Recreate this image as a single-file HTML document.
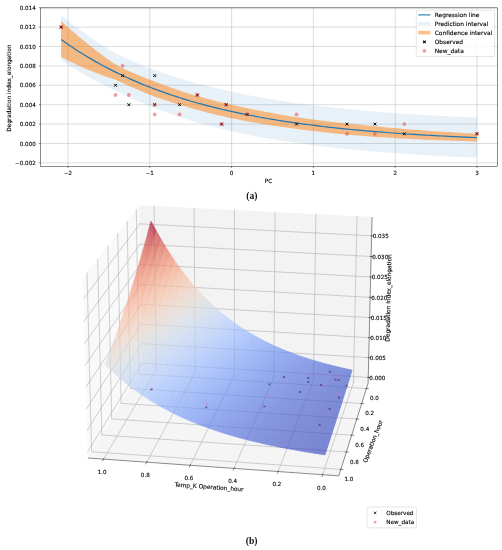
<!DOCTYPE html>
<html><head><meta charset="utf-8"><title>Figure</title>
<style>html,body{margin:0;padding:0;background:#fff}svg{display:block}</style></head>
<body>
<svg width="502" height="550" viewBox="0 0 502 550">
<rect width="502" height="550" fill="#fff"/>
<g id="plot-a">
<path d="M68 7.9V166.4M149.8 7.9V166.4M231.6 7.9V166.4M313.4 7.9V166.4M395.2 7.9V166.4M477 7.9V166.4M40.5 162.9H497.7M40.5 143.5H497.7M40.5 124.1H497.7M40.5 104.7H497.7M40.5 85.3H497.7M40.5 65.9H497.7M40.5 46.5H497.7M40.5 27.1H497.7M40.5 7.7H497.7" stroke="#b0b0b0" stroke-width="0.45" fill="none"/>
<polygon points="61.13,15.27 64.62,18.11 68.12,20.9 71.61,23.62 75.11,26.29 78.6,28.91 82.1,31.47 85.59,33.98 89.09,36.44 92.58,38.85 96.08,41.21 99.57,43.53 103.07,45.79 106.56,48.01 110.05,50.19 113.55,52.32 117.04,54.24 120.54,55.87 124.03,57.47 127.53,59.02 131.02,60.54 134.52,62.03 138.01,63.48 141.51,64.9 145,66.28 148.5,67.63 151.99,68.95 155.49,70.23 158.98,71.48 162.48,72.7 165.97,73.89 169.46,75.05 172.96,76.18 176.45,77.29 179.95,78.36 183.44,79.42 186.94,80.44 190.43,81.44 193.93,82.42 197.42,83.37 200.92,84.31 204.41,85.23 207.91,86.12 211.4,86.99 214.9,87.84 218.39,88.67 221.89,89.48 225.38,90.3 228.88,91.08 232.37,91.84 235.86,92.59 239.36,93.31 242.85,94.02 246.35,94.71 249.84,95.39 253.34,96.06 256.83,96.71 260.33,97.34 263.82,97.96 267.32,98.56 270.81,99.15 274.31,99.73 277.8,100.29 281.3,100.84 284.79,101.37 288.29,101.89 291.78,102.4 295.27,102.9 298.77,103.39 302.26,103.86 305.76,104.32 309.25,104.77 312.75,105.21 316.24,105.64 319.74,106.06 323.23,106.47 326.73,106.87 330.22,107.26 333.72,107.64 337.21,108.01 340.71,108.37 344.2,108.72 347.7,109.07 351.19,109.41 354.68,109.74 358.18,110.07 361.67,110.39 365.17,110.7 368.66,111 372.16,111.3 375.65,111.59 379.15,111.87 382.64,112.14 386.14,112.41 389.63,112.68 393.13,112.93 396.62,113.18 400.12,113.43 403.61,113.66 407.11,113.9 410.6,114.12 414.1,114.35 417.59,114.56 421.08,114.77 424.58,114.98 428.07,115.18 431.57,115.38 435.06,115.57 438.56,115.76 442.05,115.94 445.55,116.12 449.04,116.29 452.54,116.46 456.03,116.63 459.53,116.79 463.02,116.95 466.52,117.1 470.01,117.25 473.51,117.4 477,117.54 477,157.7 473.51,157.56 470.01,157.41 466.52,157.26 463.02,157.11 459.53,156.95 456.03,156.79 452.54,156.62 449.04,156.45 445.55,156.28 442.05,156.1 438.56,155.91 435.06,155.73 431.57,155.54 428.07,155.34 424.58,155.14 421.08,154.93 417.59,154.72 414.1,154.5 410.6,154.28 407.11,154.06 403.61,153.82 400.12,153.58 396.62,153.34 393.13,153.09 389.63,152.83 386.14,152.57 382.64,152.3 379.15,152.03 375.65,151.74 372.16,151.45 368.66,151.16 365.17,150.86 361.67,150.54 358.18,150.23 354.68,149.9 351.19,149.57 347.7,149.22 344.2,148.87 340.71,148.5 337.21,148.13 333.72,147.74 330.22,147.35 326.73,146.95 323.23,146.53 319.74,146.11 316.24,145.68 312.75,145.24 309.25,144.78 305.76,144.32 302.26,143.85 298.77,143.36 295.27,142.86 291.78,142.35 288.29,141.83 284.79,141.29 281.3,140.74 277.8,140.18 274.31,139.61 270.81,139.02 267.32,138.41 263.82,137.79 260.33,137.16 256.83,136.51 253.34,135.85 249.84,135.17 246.35,134.47 242.85,133.75 239.36,133.01 235.86,132.25 232.37,131.48 228.88,130.68 225.38,129.87 221.89,129.06 218.39,128.19 214.9,127.31 211.4,126.4 207.91,125.48 204.41,124.53 200.92,123.56 197.42,122.56 193.93,121.53 190.43,120.48 186.94,119.4 183.44,118.3 179.95,117.17 176.45,116.01 172.96,114.83 169.46,113.61 165.97,112.37 162.48,111.1 158.98,109.8 155.49,108.47 151.99,107.1 148.5,105.71 145,104.28 141.51,102.82 138.01,101.32 134.52,99.79 131.02,98.22 127.53,96.61 124.03,94.95 120.54,93.26 117.04,91.53 113.55,89.85 110.05,88.2 106.56,86.51 103.07,84.77 99.57,82.99 96.08,81.17 92.58,79.29 89.09,77.37 85.59,75.4 82.1,73.37 78.6,71.29 75.11,69.16 71.61,66.98 68.12,64.74 64.62,62.44 61.13,60.08" fill="#1f77b4" fill-opacity="0.1"/>
<polygon points="61.13,21.09 64.62,24.27 68.12,27.39 71.61,30.45 75.11,33.46 78.6,36.41 82.1,39.31 85.59,42.16 89.09,44.96 92.58,47.7 96.08,50.4 99.57,53.05 103.07,55.65 106.56,58.21 110.05,60.72 113.55,63.19 117.04,65.36 120.54,67.14 124.03,68.84 127.53,70.44 131.02,71.99 134.52,73.5 138.01,74.96 141.51,76.39 145,77.79 148.5,79.15 151.99,80.48 155.49,81.8 158.98,83.17 162.48,84.52 165.97,85.83 169.46,87.11 172.96,88.37 176.45,89.59 179.95,90.79 183.44,91.9 186.94,92.98 190.43,94.04 193.93,95.07 197.42,96.08 200.92,97.06 204.41,98.02 207.91,98.95 211.4,99.87 214.9,100.76 218.39,101.63 221.89,102.48 225.38,103.29 228.88,104.12 232.37,104.93 235.86,105.72 239.36,106.49 242.85,107.25 246.35,107.99 249.84,108.73 253.34,109.45 256.83,110.17 260.33,110.86 263.82,111.54 267.32,112.21 270.81,112.86 274.31,113.5 277.8,114.12 281.3,114.73 284.79,115.33 288.29,115.91 291.78,116.48 295.27,117.04 298.77,117.57 302.26,118.07 305.76,118.55 309.25,119.03 312.75,119.5 316.24,119.95 319.74,120.4 323.23,120.84 326.73,121.26 330.22,121.68 333.72,122.08 337.21,122.48 340.71,122.87 344.2,123.25 347.7,123.62 351.19,124 354.68,124.37 358.18,124.73 361.67,125.09 365.17,125.44 368.66,125.78 372.16,126.11 375.65,126.44 379.15,126.77 382.64,127.09 386.14,127.4 389.63,127.71 393.13,128.01 396.62,128.31 400.12,128.6 403.61,128.88 407.11,129.16 410.6,129.44 414.1,129.7 417.59,129.97 421.08,130.23 424.58,130.48 428.07,130.73 431.57,130.97 435.06,131.21 438.56,131.44 442.05,131.67 445.55,131.9 449.04,132.12 452.54,132.33 456.03,132.55 459.53,132.76 463.02,132.96 466.52,133.16 470.01,133.36 473.51,133.55 477,133.74 477,141.5 473.51,141.41 470.01,141.31 466.52,141.2 463.02,141.09 459.53,140.98 456.03,140.87 452.54,140.75 449.04,140.62 445.55,140.5 442.05,140.37 438.56,140.23 435.06,140.09 431.57,139.94 428.07,139.79 424.58,139.64 421.08,139.48 417.59,139.31 414.1,139.14 410.6,138.97 407.11,138.79 403.61,138.6 400.12,138.41 396.62,138.21 393.13,138.01 389.63,137.8 386.14,137.58 382.64,137.36 379.15,137.13 375.65,136.89 372.16,136.64 368.66,136.38 365.17,136.12 361.67,135.84 358.18,135.56 354.68,135.27 351.19,134.97 347.7,134.67 344.2,134.34 340.71,134 337.21,133.65 333.72,133.29 330.22,132.93 326.73,132.55 323.23,132.17 319.74,131.77 316.24,131.37 312.75,130.95 309.25,130.52 305.76,130.09 302.26,129.64 298.77,129.18 295.27,128.72 291.78,128.27 288.29,127.81 284.79,127.34 281.3,126.85 277.8,126.35 274.31,125.84 270.81,125.31 267.32,124.77 263.82,124.21 260.33,123.64 256.83,123.05 253.34,122.45 249.84,121.83 246.35,121.19 242.85,120.52 239.36,119.83 235.86,119.12 232.37,118.39 228.88,117.65 225.38,116.87 221.89,116.06 218.39,115.24 214.9,114.39 211.4,113.53 207.91,112.64 204.41,111.74 200.92,110.81 197.42,109.85 193.93,108.88 190.43,107.89 186.94,106.87 183.44,105.82 179.95,104.75 176.45,103.71 172.96,102.64 169.46,101.55 165.97,100.43 162.48,99.29 158.98,98.11 155.49,96.9 151.99,95.57 148.5,94.19 145,92.78 141.51,91.33 138.01,89.84 134.52,88.32 131.02,86.77 127.53,85.19 124.03,83.58 120.54,81.99 117.04,80.41 113.55,79.08 110.05,77.93 106.56,76.75 103.07,75.52 99.57,74.24 96.08,72.92 92.58,71.55 89.09,70.13 85.59,68.66 82.1,67.14 78.6,65.57 75.11,63.94 71.61,62.26 68.12,60.53 64.62,58.73 61.13,56.88" fill="#ff7f0e" fill-opacity="0.5"/>
<polyline points="61.13,39.59 64.62,42.07 68.12,44.49 71.61,46.85 75.11,49.16 78.6,51.41 82.1,53.6 85.59,55.75 89.09,57.84 92.58,59.88 96.08,61.88 99.57,63.82 103.07,65.72 106.56,67.58 110.05,69.39 113.55,71.16 117.04,72.88 120.54,74.57 124.03,76.21 127.53,77.81 131.02,79.38 134.52,80.91 138.01,82.4 141.51,83.86 145,85.28 148.5,86.67 151.99,88.03 155.49,89.35 158.98,90.64 162.48,91.9 165.97,93.13 169.46,94.33 172.96,95.51 176.45,96.65 179.95,97.77 183.44,98.86 186.94,99.92 190.43,100.96 193.93,101.98 197.42,102.97 200.92,103.93 204.41,104.88 207.91,105.8 211.4,106.7 214.9,107.58 218.39,108.43 221.89,109.27 225.38,110.08 228.88,110.88 232.37,111.66 235.86,112.42 239.36,113.16 242.85,113.88 246.35,114.59 249.84,115.28 253.34,115.95 256.83,116.61 260.33,117.25 263.82,117.88 267.32,118.49 270.81,119.08 274.31,119.67 277.8,120.24 281.3,120.79 284.79,121.33 288.29,121.86 291.78,122.38 295.27,122.88 298.77,123.37 302.26,123.85 305.76,124.32 309.25,124.78 312.75,125.22 316.24,125.66 319.74,126.09 323.23,126.5 326.73,126.91 330.22,127.3 333.72,127.69 337.21,128.07 340.71,128.43 344.2,128.79 347.7,129.14 351.19,129.49 354.68,129.82 358.18,130.15 361.67,130.47 365.17,130.78 368.66,131.08 372.16,131.38 375.65,131.67 379.15,131.95 382.64,132.22 386.14,132.49 389.63,132.75 393.13,133.01 396.62,133.26 400.12,133.5 403.61,133.74 407.11,133.98 410.6,134.2 414.1,134.42 417.59,134.64 421.08,134.85 424.58,135.06 428.07,135.26 431.57,135.46 435.06,135.65 438.56,135.84 442.05,136.02 445.55,136.2 449.04,136.37 452.54,136.54 456.03,136.71 459.53,136.87 463.02,137.03 466.52,137.18 470.01,137.33 473.51,137.48 477,137.62" fill="none" stroke="#1f77b4" stroke-width="1.2" stroke-linejoin="round"/>
<path d="M59.73 25.7l2.8 2.8M59.73 28.5l2.8 -2.8M114.13 83.9l2.8 2.8M114.13 86.7l2.8 -2.8M121.16 74.2l2.8 2.8M121.16 77l2.8 -2.8M127.46 103.3l2.8 2.8M127.46 106.1l2.8 -2.8M153.31 74.2l2.8 2.8M153.31 77l2.8 -2.8M153.31 103.3l2.8 2.8M153.31 106.1l2.8 -2.8M178.18 103.3l2.8 2.8M178.18 106.1l2.8 -2.8M195.93 93.6l2.8 2.8M195.93 96.4l2.8 -2.8M220.22 122.7l2.8 2.8M220.22 125.5l2.8 -2.8M224.8 103.3l2.8 2.8M224.8 106.1l2.8 -2.8M245.74 113l2.8 2.8M245.74 115.8l2.8 -2.8M295.15 122.7l2.8 2.8M295.15 125.5l2.8 -2.8M345.54 122.7l2.8 2.8M345.54 125.5l2.8 -2.8M373.51 122.7l2.8 2.8M373.51 125.5l2.8 -2.8M402.96 132.4l2.8 2.8M402.96 135.2l2.8 -2.8M475.6 132.4l2.8 2.8M475.6 135.2l2.8 -2.8" stroke="#000" stroke-width="1.0" fill="none"/>
<g fill="#e8272d" fill-opacity="0.45"><circle cx="61.13" cy="27.1" r="1.9"/><circle cx="115.53" cy="95" r="1.9"/><circle cx="122.56" cy="65.9" r="1.9"/><circle cx="128.86" cy="95" r="1.9"/><circle cx="154.71" cy="104.7" r="1.9"/><circle cx="154.71" cy="114.4" r="1.9"/><circle cx="179.58" cy="114.4" r="1.9"/><circle cx="197.33" cy="95" r="1.9"/><circle cx="221.62" cy="124.1" r="1.9"/><circle cx="226.2" cy="104.7" r="1.9"/><circle cx="247.14" cy="114.4" r="1.9"/><circle cx="296.55" cy="114.4" r="1.9"/><circle cx="346.94" cy="133.8" r="1.9"/><circle cx="374.91" cy="133.8" r="1.9"/><circle cx="404.36" cy="124.1" r="1.9"/><circle cx="477" cy="133.8" r="1.9"/></g>
<rect x="40.5" y="7.9" width="457.2" height="158.5" fill="none" stroke="#000" stroke-width="0.45"/>
<path d="M68 166.4v1.6M149.8 166.4v1.6M231.6 166.4v1.6M313.4 166.4v1.6M395.2 166.4v1.6M477 166.4v1.6M40.5 162.9h-1.6M40.5 143.5h-1.6M40.5 124.1h-1.6M40.5 104.7h-1.6M40.5 85.3h-1.6M40.5 65.9h-1.6M40.5 46.5h-1.6M40.5 27.1h-1.6M40.5 7.7h-1.6" stroke="#000" stroke-width="0.45" fill="none"/>
<g font-family='"DejaVu Sans","Liberation Sans",sans-serif' font-size="5.6" fill="#000" stroke="#000" stroke-width="0.12">
<text x="68" y="174.7" text-anchor="middle">−2</text>
<text x="149.8" y="174.7" text-anchor="middle">−1</text>
<text x="231.6" y="174.7" text-anchor="middle">0</text>
<text x="313.4" y="174.7" text-anchor="middle">1</text>
<text x="395.2" y="174.7" text-anchor="middle">2</text>
<text x="477" y="174.7" text-anchor="middle">3</text>
<text x="35.8" y="164.9" text-anchor="end">−0.002</text>
<text x="35.8" y="145.5" text-anchor="end">0.000</text>
<text x="35.8" y="126.1" text-anchor="end">0.002</text>
<text x="35.8" y="106.7" text-anchor="end">0.004</text>
<text x="35.8" y="87.3" text-anchor="end">0.006</text>
<text x="35.8" y="67.9" text-anchor="end">0.008</text>
<text x="35.8" y="48.5" text-anchor="end">0.010</text>
<text x="35.8" y="29.1" text-anchor="end">0.012</text>
<text x="35.8" y="9.7" text-anchor="end">0.014</text>
</g>
<g font-family='"DejaVu Sans","Liberation Sans",sans-serif' font-size="5.8" fill="#000" stroke="#000" stroke-width="0.12">
<text x="268.5" y="183.1" text-anchor="middle">PC</text>
<text transform="translate(10.6 88.2) rotate(-90)" text-anchor="middle">Degradation index_elongation</text>
</g>
<rect x="416.3" y="10.2" width="78.3" height="46.4" rx="1.2" fill="#fff" fill-opacity="0.8" stroke="#ccc" stroke-width="0.5"/>
<path d="M418.3 14.9h12" stroke="#1f77b4" stroke-width="1.1"/>
<rect x="418.3" y="22" width="12" height="3.6" fill="#1f77b4" fill-opacity="0.1"/>
<rect x="418.3" y="30.8" width="12" height="3.6" fill="#ff7f0e" fill-opacity="0.5"/>
<path d="M423.1 40.6l2.6 2.6M423.1 43.2l2.6 -2.6" stroke="#000" stroke-width="1.05"/>
<circle cx="424.4" cy="50.8" r="1.9" fill="#e8272d" fill-opacity="0.45"/>
<g font-family='"DejaVu Sans","Liberation Sans",sans-serif' font-size="5.9" fill="#000" stroke="#000" stroke-width="0.12">
<text x="434.7" y="17.1">Regression line</text>
<text x="434.7" y="25.95">Prediction interval</text>
<text x="434.7" y="34.8">Confidence interval</text>
<text x="434.7" y="43.65">Observed</text>
<text x="434.7" y="52.5">New_data</text>
</g>
<text x="251.8" y="199.2" text-anchor="middle" font-family='"Liberation Serif","DejaVu Serif",serif' font-weight="bold" font-size="9.6" fill="#111">(a)</text>
</g>
<g id="plot-b">
<polygon points="142.17,368.89 87.82,458.01 83.06,278.1 139.49,205.28" fill="#f9f9f9"/>
<polygon points="368.12,383.26 142.17,368.89 139.49,205.28 372.09,216.99" fill="#f3f3f3"/>
<polygon points="368.12,383.26 142.17,368.89 87.82,458.01 338.84,475.86" fill="#f5f5f5"/>
<path d="M322.57 474.71L353.49 382.33M353.49 382.33L357.02 216.23M278.13 471.54L313.55 379.79M313.55 379.79L315.89 214.16M234.01 468.41L273.87 377.26M273.87 377.26L275.03 212.1M190.19 465.29L234.43 374.76M234.43 374.76L234.44 210.06M146.69 462.19L195.24 372.26M195.24 372.26L194.1 208.03M103.49 459.12L156.3 369.79M156.3 369.79L154.03 206.01M366.44 388.57L139.04 374.02M139.04 374.02L136.25 209.45M361.71 403.53L130.25 388.43M130.25 388.43L127.15 221.2M356.81 419.04L121.14 403.37M121.14 403.37L117.7 233.4M351.71 435.16L111.68 418.88M111.68 418.88L107.88 246.07M346.42 451.91L101.85 434.99M101.85 434.99L97.67 259.25M340.91 469.34L91.64 451.74M91.64 451.74L87.04 272.97M368.26 377.44L142.07 363.16M142.07 363.16L87.65 451.73M368.73 357.64L141.75 343.67M141.75 343.67L87.09 430.35M369.2 337.7L141.43 324.04M141.43 324.04L86.52 408.81M369.68 317.62L141.11 304.28M141.11 304.28L85.94 387.1M370.17 297.39L140.78 284.37M140.78 284.37L85.36 365.22M370.65 277.02L140.46 264.33M140.46 264.33L84.78 343.17M371.14 256.5L140.13 244.15M140.13 244.15L84.19 320.95M371.64 235.84L139.79 223.82M139.79 223.82L83.6 298.55" stroke="#b0b0b0" stroke-width="0.6" fill="none" stroke-linecap="round"/>
<g opacity="0.66" stroke-width="0.9" stroke-linejoin="round">
<polygon points="265.47,341.69 260.93,339.35 260.18,341.43 264.73,343.75" fill="#80a3fa" stroke="#80a3fa"/>
<polygon points="260.93,339.35 256.39,336.89 255.63,338.99 260.18,341.43" fill="#85a8fc" stroke="#85a8fc"/>
<polygon points="270.01,343.92 265.47,341.69 264.73,343.75 269.28,345.95" fill="#7a9df8" stroke="#7a9df8"/>
<polygon points="256.39,336.89 251.85,334.29 251.08,336.43 255.63,338.99" fill="#8badfd" stroke="#8badfd"/>
<polygon points="274.55,346.03 270.01,343.92 269.28,345.95 273.83,348.04" fill="#7699f6" stroke="#7699f6"/>
<polygon points="251.85,334.29 247.31,331.56 246.53,333.73 251.08,336.43" fill="#92b4fe" stroke="#92b4fe"/>
<polygon points="279.1,348.05 274.55,346.03 273.83,348.04 278.38,350.03" fill="#7093f3" stroke="#7093f3"/>
<polygon points="283.64,349.96 279.1,348.05 278.38,350.03 282.94,351.93" fill="#6c8ff1" stroke="#6c8ff1"/>
<polygon points="247.31,331.56 242.77,328.69 241.98,330.89 246.53,333.73" fill="#98b9ff" stroke="#98b9ff"/>
<polygon points="288.19,351.79 283.64,349.96 282.94,351.93 287.49,353.74" fill="#688aef" stroke="#688aef"/>
<polygon points="242.77,328.69 238.22,325.66 237.43,327.89 241.98,330.89" fill="#9fbfff" stroke="#9fbfff"/>
<polygon points="292.74,353.53 288.19,351.79 287.49,353.74 292.05,355.46" fill="#6485ec" stroke="#6485ec"/>
<polygon points="238.22,325.66 233.68,322.46 232.88,324.73 237.43,327.89" fill="#a6c4fe" stroke="#a6c4fe"/>
<polygon points="297.29,355.18 292.74,353.53 292.05,355.46 296.61,357.1" fill="#6282ea" stroke="#6282ea"/>
<polygon points="233.68,322.46 229.14,319.09 228.32,321.4 232.88,324.73" fill="#aec9fc" stroke="#aec9fc"/>
<polygon points="301.84,356.77 297.29,355.18 296.61,357.1 301.17,358.67" fill="#5e7de7" stroke="#5e7de7"/>
<polygon points="306.39,358.27 301.84,356.77 301.17,358.67 305.74,360.16" fill="#5b7ae5" stroke="#5b7ae5"/>
<polygon points="229.14,319.09 224.59,315.53 223.77,317.89 228.32,321.4" fill="#b6cefa" stroke="#b6cefa"/>
<polygon points="310.95,359.72 306.39,358.27 305.74,360.16 310.3,361.59" fill="#5977e3" stroke="#5977e3"/>
<polygon points="224.59,315.53 220.04,311.78 219.21,314.18 223.77,317.89" fill="#bed2f6" stroke="#bed2f6"/>
<polygon points="315.51,361.09 310.95,359.72 310.3,361.59 314.87,362.95" fill="#5572df" stroke="#5572df"/>
<polygon points="320.07,362.41 315.51,361.09 314.87,362.95 319.44,364.26" fill="#536edd" stroke="#536edd"/>
<polygon points="220.04,311.78 215.49,307.82 214.65,310.27 219.21,314.18" fill="#c6d6f1" stroke="#c6d6f1"/>
<polygon points="324.64,363.67 320.07,362.41 319.44,364.26 324.02,365.51" fill="#516ddb" stroke="#516ddb"/>
<polygon points="215.49,307.82 210.94,303.63 210.09,306.13 214.65,310.27" fill="#cedaeb" stroke="#cedaeb"/>
<polygon points="329.2,364.87 324.64,363.67 324.02,365.51 328.59,366.7" fill="#4f69d9" stroke="#4f69d9"/>
<polygon points="333.77,366.02 329.2,364.87 328.59,366.7 333.17,367.84" fill="#4c66d6" stroke="#4c66d6"/>
<polygon points="210.94,303.63 206.38,299.21 205.52,301.77 210.09,306.13" fill="#d6dce4" stroke="#d6dce4"/>
<polygon points="264.73,343.75 260.18,341.43 259.43,343.51 263.99,345.8" fill="#7ea1fa" stroke="#7ea1fa"/>
<polygon points="260.18,341.43 255.63,338.99 254.87,341.1 259.43,343.51" fill="#84a7fc" stroke="#84a7fc"/>
<polygon points="269.28,345.95 264.73,343.75 263.99,345.8 268.55,347.98" fill="#799cf8" stroke="#799cf8"/>
<polygon points="255.63,338.99 251.08,336.43 250.31,338.57 254.87,341.1" fill="#89acfd" stroke="#89acfd"/>
<polygon points="273.83,348.04 269.28,345.95 268.55,347.98 273.11,350.05" fill="#7597f6" stroke="#7597f6"/>
<polygon points="338.35,367.13 333.77,366.02 333.17,367.84 337.76,368.94" fill="#4a63d3" stroke="#4a63d3"/>
<polygon points="251.08,336.43 246.53,333.73 245.75,335.9 250.31,338.57" fill="#90b2fe" stroke="#90b2fe"/>
<polygon points="278.38,350.03 273.83,348.04 273.11,350.05 277.67,352.02" fill="#7093f3" stroke="#7093f3"/>
<polygon points="246.53,333.73 241.98,330.89 241.19,333.09 245.75,335.9" fill="#96b7ff" stroke="#96b7ff"/>
<polygon points="282.94,351.93 278.38,350.03 277.67,352.02 282.23,353.9" fill="#6c8ff1" stroke="#6c8ff1"/>
<polygon points="241.98,330.89 237.43,327.89 236.63,330.12 241.19,333.09" fill="#9dbdff" stroke="#9dbdff"/>
<polygon points="287.49,353.74 282.94,351.93 282.23,353.9 286.8,355.69" fill="#688aef" stroke="#688aef"/>
<polygon points="206.38,299.21 201.81,294.54 200.95,297.16 205.52,301.77" fill="#dedcdb" stroke="#dedcdb"/>
<polygon points="342.92,368.19 338.35,367.13 337.76,368.94 342.34,369.99" fill="#4961d2" stroke="#4961d2"/>
<polygon points="237.43,327.89 232.88,324.73 232.07,327 236.63,330.12" fill="#a5c3fe" stroke="#a5c3fe"/>
<polygon points="292.05,355.46 287.49,353.74 286.8,355.69 291.37,357.39" fill="#6485ec" stroke="#6485ec"/>
<polygon points="296.61,357.1 292.05,355.46 291.37,357.39 295.93,359.02" fill="#6180e9" stroke="#6180e9"/>
<polygon points="232.88,324.73 228.32,321.4 227.51,323.71 232.07,327" fill="#abc8fd" stroke="#abc8fd"/>
<polygon points="347.5,369.21 342.92,368.19 342.34,369.99 346.93,371" fill="#485fd1" stroke="#485fd1"/>
<polygon points="301.17,358.67 296.61,357.1 295.93,359.02 300.51,360.57" fill="#5e7de7" stroke="#5e7de7"/>
<polygon points="201.81,294.54 197.24,289.61 196.37,292.29 200.95,297.16" fill="#e7d7ce" stroke="#e7d7ce"/>
<polygon points="228.32,321.4 223.77,317.89 222.94,320.24 227.51,323.71" fill="#b3cdfb" stroke="#b3cdfb"/>
<polygon points="352.08,370.18 347.5,369.21 346.93,371 351.52,371.97" fill="#455cce" stroke="#455cce"/>
<polygon points="305.74,360.16 301.17,358.67 300.51,360.57 305.08,362.05" fill="#5a78e4" stroke="#5a78e4"/>
<polygon points="223.77,317.89 219.21,314.18 218.38,316.58 222.94,320.24" fill="#bbd1f8" stroke="#bbd1f8"/>
<polygon points="310.3,361.59 305.74,360.16 305.08,362.05 309.65,363.47" fill="#5875e1" stroke="#5875e1"/>
<polygon points="314.87,362.95 310.3,361.59 309.65,363.47 314.23,364.82" fill="#5572df" stroke="#5572df"/>
<polygon points="197.24,289.61 192.67,284.39 191.79,287.14 196.37,292.29" fill="#eed0c0" stroke="#eed0c0"/>
<polygon points="219.21,314.18 214.65,310.27 213.81,312.71 218.38,316.58" fill="#c4d5f3" stroke="#c4d5f3"/>
<polygon points="319.44,364.26 314.87,362.95 314.23,364.82 318.81,366.11" fill="#536edd" stroke="#536edd"/>
<polygon points="214.65,310.27 210.09,306.13 209.24,308.63 213.81,312.71" fill="#ccd9ed" stroke="#ccd9ed"/>
<polygon points="324.02,365.51 319.44,364.26 318.81,366.11 323.4,367.35" fill="#506bda" stroke="#506bda"/>
<polygon points="328.59,366.7 324.02,365.51 323.4,367.35 327.98,368.53" fill="#4e68d8" stroke="#4e68d8"/>
<polygon points="192.67,284.39 188.09,278.87 187.2,281.69 191.79,287.14" fill="#f3c8b2" stroke="#f3c8b2"/>
<polygon points="210.09,306.13 205.52,301.77 204.66,304.32 209.24,308.63" fill="#d4dbe6" stroke="#d4dbe6"/>
<polygon points="333.17,367.84 328.59,366.7 327.98,368.53 332.57,369.67" fill="#4c66d6" stroke="#4c66d6"/>
<polygon points="259.43,343.51 254.87,341.1 254.1,343.21 258.67,345.59" fill="#82a6fb" stroke="#82a6fb"/>
<polygon points="263.99,345.8 259.43,343.51 258.67,345.59 263.24,347.86" fill="#7da0f9" stroke="#7da0f9"/>
<polygon points="254.87,341.1 250.31,338.57 249.53,340.7 254.1,343.21" fill="#88abfd" stroke="#88abfd"/>
<polygon points="268.55,347.98 263.99,345.8 263.24,347.86 267.81,350.01" fill="#799cf8" stroke="#799cf8"/>
<polygon points="250.31,338.57 245.75,335.9 244.97,338.06 249.53,340.7" fill="#8fb1fe" stroke="#8fb1fe"/>
<polygon points="273.11,350.05 268.55,347.98 267.81,350.01 272.38,352.06" fill="#7396f5" stroke="#7396f5"/>
<polygon points="245.75,335.9 241.19,333.09 240.4,335.28 244.97,338.06" fill="#94b6ff" stroke="#94b6ff"/>
<polygon points="337.76,368.94 333.17,367.84 332.57,369.67 337.16,370.76" fill="#4a63d3" stroke="#4a63d3"/>
<polygon points="277.67,352.02 273.11,350.05 272.38,352.06 276.95,354.01" fill="#6f92f3" stroke="#6f92f3"/>
<polygon points="205.52,301.77 200.95,297.16 200.08,299.77 204.66,304.32" fill="#dcdddd" stroke="#dcdddd"/>
<polygon points="282.23,353.9 277.67,352.02 276.95,354.01 281.52,355.87" fill="#6b8df0" stroke="#6b8df0"/>
<polygon points="241.19,333.09 236.63,330.12 235.83,332.36 240.4,335.28" fill="#9bbcff" stroke="#9bbcff"/>
<polygon points="188.09,278.87 183.5,273.04 182.6,275.93 187.2,281.69" fill="#f6bda2" stroke="#f6bda2"/>
<polygon points="286.8,355.69 282.23,353.9 281.52,355.87 286.1,357.64" fill="#6788ee" stroke="#6788ee"/>
<polygon points="236.63,330.12 232.07,327 231.26,329.27 235.83,332.36" fill="#a2c1ff" stroke="#a2c1ff"/>
<polygon points="342.34,369.99 337.76,368.94 337.16,370.76 341.76,371.8" fill="#4961d2" stroke="#4961d2"/>
<polygon points="291.37,357.39 286.8,355.69 286.1,357.64 290.68,359.33" fill="#6384eb" stroke="#6384eb"/>
<polygon points="232.07,327 227.51,323.71 226.69,326.02 231.26,329.27" fill="#aac7fd" stroke="#aac7fd"/>
<polygon points="295.93,359.02 291.37,357.39 290.68,359.33 295.25,360.94" fill="#6180e9" stroke="#6180e9"/>
<polygon points="346.93,371 342.34,369.99 341.76,371.8 346.35,372.8" fill="#465ecf" stroke="#465ecf"/>
<polygon points="200.95,297.16 196.37,292.29 195.49,294.96 200.08,299.77" fill="#e5d8d1" stroke="#e5d8d1"/>
<polygon points="227.51,323.71 222.94,320.24 222.12,322.59 226.69,326.02" fill="#b2ccfb" stroke="#b2ccfb"/>
<polygon points="300.51,360.57 295.93,359.02 295.25,360.94 299.83,362.48" fill="#5d7ce6" stroke="#5d7ce6"/>
<polygon points="305.08,362.05 300.51,360.57 299.83,362.48 304.42,363.95" fill="#5a78e4" stroke="#5a78e4"/>
<polygon points="351.52,371.97 346.93,371 346.35,372.8 350.96,373.77" fill="#455cce" stroke="#455cce"/>
<polygon points="222.94,320.24 218.38,316.58 217.54,318.97 222.12,322.59" fill="#bad0f8" stroke="#bad0f8"/>
<polygon points="183.5,273.04 178.9,266.86 177.99,269.84 182.6,275.93" fill="#f7af91" stroke="#f7af91"/>
<polygon points="309.65,363.47 305.08,362.05 304.42,363.95 309,365.35" fill="#5875e1" stroke="#5875e1"/>
<polygon points="196.37,292.29 191.79,287.14 190.9,289.87 195.49,294.96" fill="#ecd3c5" stroke="#ecd3c5"/>
<polygon points="218.38,316.58 213.81,312.71 212.96,315.15 217.54,318.97" fill="#c1d4f4" stroke="#c1d4f4"/>
<polygon points="314.23,364.82 309.65,363.47 309,365.35 313.59,366.69" fill="#5572df" stroke="#5572df"/>
<polygon points="318.81,366.11 314.23,364.82 313.59,366.69 318.18,367.97" fill="#536edd" stroke="#536edd"/>
<polygon points="213.81,312.71 209.24,308.63 208.38,311.12 212.96,315.15" fill="#cad8ef" stroke="#cad8ef"/>
<polygon points="323.4,367.35 318.81,366.11 318.18,367.97 322.77,369.2" fill="#506bda" stroke="#506bda"/>
<polygon points="191.79,287.14 187.2,281.69 186.3,284.5 190.9,289.87" fill="#f2cab5" stroke="#f2cab5"/>
<polygon points="178.9,266.86 174.29,260.33 173.37,263.39 177.99,269.84" fill="#f59f80" stroke="#f59f80"/>
<polygon points="209.24,308.63 204.66,304.32 203.8,306.87 208.38,311.12" fill="#d3dbe7" stroke="#d3dbe7"/>
<polygon points="327.98,368.53 323.4,367.35 322.77,369.2 327.37,370.37" fill="#4e68d8" stroke="#4e68d8"/>
<polygon points="332.57,369.67 327.98,368.53 327.37,370.37 331.97,371.5" fill="#4b64d5" stroke="#4b64d5"/>
<polygon points="258.67,345.59 254.1,343.21 253.34,345.32 257.91,347.68" fill="#81a4fb" stroke="#81a4fb"/>
<polygon points="263.24,347.86 258.67,345.59 257.91,347.68 262.49,349.92" fill="#7b9ff9" stroke="#7b9ff9"/>
<polygon points="254.1,343.21 249.53,340.7 248.76,342.84 253.34,345.32" fill="#86a9fc" stroke="#86a9fc"/>
<polygon points="267.81,350.01 263.24,347.86 262.49,349.92 267.07,352.05" fill="#779af7" stroke="#779af7"/>
<polygon points="249.53,340.7 244.97,338.06 244.18,340.23 248.76,342.84" fill="#8db0fe" stroke="#8db0fe"/>
<polygon points="204.66,304.32 200.08,299.77 199.21,302.37 203.8,306.87" fill="#dadce0" stroke="#dadce0"/>
<polygon points="272.38,352.06 267.81,350.01 267.07,352.05 271.65,354.08" fill="#7295f4" stroke="#7295f4"/>
<polygon points="244.97,338.06 240.4,335.28 239.6,337.48 244.18,340.23" fill="#93b5fe" stroke="#93b5fe"/>
<polygon points="187.2,281.69 182.6,275.93 181.69,278.82 186.3,284.5" fill="#f6bfa6" stroke="#f6bfa6"/>
<polygon points="276.95,354.01 272.38,352.06 271.65,354.08 276.23,356.01" fill="#6e90f2" stroke="#6e90f2"/>
<polygon points="337.16,370.76 332.57,369.67 331.97,371.5 336.57,372.58" fill="#4a63d3" stroke="#4a63d3"/>
<polygon points="240.4,335.28 235.83,332.36 235.03,334.59 239.6,337.48" fill="#9abbff" stroke="#9abbff"/>
<polygon points="281.52,355.87 276.95,354.01 276.23,356.01 280.81,357.85" fill="#6a8bef" stroke="#6a8bef"/>
<polygon points="235.83,332.36 231.26,329.27 230.45,331.54 235.03,334.59" fill="#a1c0ff" stroke="#a1c0ff"/>
<polygon points="286.1,357.64 281.52,355.87 280.81,357.85 285.4,359.6" fill="#6687ed" stroke="#6687ed"/>
<polygon points="174.29,260.33 169.67,253.41 168.74,256.56 173.37,263.39" fill="#f08b6e" stroke="#f08b6e"/>
<polygon points="341.76,371.8 337.16,370.76 336.57,372.58 341.17,373.61" fill="#485fd1" stroke="#485fd1"/>
<polygon points="290.68,359.33 286.1,357.64 285.4,359.6 289.98,361.27" fill="#6282ea" stroke="#6282ea"/>
<polygon points="231.26,329.27 226.69,326.02 225.87,328.33 230.45,331.54" fill="#a7c5fe" stroke="#a7c5fe"/>
<polygon points="200.08,299.77 195.49,294.96 194.61,297.62 199.21,302.37" fill="#e2dad5" stroke="#e2dad5"/>
<polygon points="295.25,360.94 290.68,359.33 289.98,361.27 294.57,362.87" fill="#5f7fe8" stroke="#5f7fe8"/>
<polygon points="226.69,326.02 222.12,322.59 221.29,324.94 225.87,328.33" fill="#afcafc" stroke="#afcafc"/>
<polygon points="346.35,372.8 341.76,371.8 341.17,373.61 345.78,374.61" fill="#465ecf" stroke="#465ecf"/>
<polygon points="299.83,362.48 295.25,360.94 294.57,362.87 299.16,364.39" fill="#5d7ce6" stroke="#5d7ce6"/>
<polygon points="182.6,275.93 177.99,269.84 177.08,272.8 181.69,278.82" fill="#f7b396" stroke="#f7b396"/>
<polygon points="222.12,322.59 217.54,318.97 216.7,321.36 221.29,324.94" fill="#b7cff9" stroke="#b7cff9"/>
<polygon points="304.42,363.95 299.83,362.48 299.16,364.39 303.75,365.84" fill="#5977e3" stroke="#5977e3"/>
<polygon points="350.96,373.77 346.35,372.8 345.78,374.61 350.39,375.56" fill="#455cce" stroke="#455cce"/>
<polygon points="195.49,294.96 190.9,289.87 190.01,292.6 194.61,297.62" fill="#ead4c8" stroke="#ead4c8"/>
<polygon points="309,365.35 304.42,363.95 303.75,365.84 308.35,367.23" fill="#5673e0" stroke="#5673e0"/>
<polygon points="217.54,318.97 212.96,315.15 212.11,317.59 216.7,321.36" fill="#c0d4f5" stroke="#c0d4f5"/>
<polygon points="169.67,253.41 165.04,246.08 164.1,249.34 168.74,256.56" fill="#e7745b" stroke="#e7745b"/>
<polygon points="313.59,366.69 309,365.35 308.35,367.23 312.94,368.56" fill="#5470de" stroke="#5470de"/>
<polygon points="212.96,315.15 208.38,311.12 207.52,313.61 212.11,317.59" fill="#c7d7f0" stroke="#c7d7f0"/>
<polygon points="318.18,367.97 313.59,366.69 312.94,368.56 317.54,369.83" fill="#516ddb" stroke="#516ddb"/>
<polygon points="177.99,269.84 173.37,263.39 172.45,266.44 177.08,272.8" fill="#f6a385" stroke="#f6a385"/>
<polygon points="190.9,289.87 186.3,284.5 185.4,287.3 190.01,292.6" fill="#f1cdba" stroke="#f1cdba"/>
<polygon points="322.77,369.2 318.18,367.97 317.54,369.83 322.15,371.05" fill="#4f69d9" stroke="#4f69d9"/>
<polygon points="208.38,311.12 203.8,306.87 202.93,309.41 207.52,313.61" fill="#d1dae9" stroke="#d1dae9"/>
<polygon points="327.37,370.37 322.77,369.2 322.15,371.05 326.75,372.21" fill="#4e68d8" stroke="#4e68d8"/>
<polygon points="186.3,284.5 181.69,278.82 180.79,281.69 185.4,287.3" fill="#f5c2aa" stroke="#f5c2aa"/>
<polygon points="203.8,306.87 199.21,302.37 198.33,304.97 202.93,309.41" fill="#d8dce2" stroke="#d8dce2"/>
<polygon points="257.91,347.68 253.34,345.32 252.56,347.43 257.15,349.76" fill="#80a3fa" stroke="#80a3fa"/>
<polygon points="253.34,345.32 248.76,342.84 247.98,344.98 252.56,347.43" fill="#85a8fc" stroke="#85a8fc"/>
<polygon points="262.49,349.92 257.91,347.68 257.15,349.76 261.74,351.98" fill="#7a9df8" stroke="#7a9df8"/>
<polygon points="331.97,371.5 327.37,370.37 326.75,372.21 331.36,373.33" fill="#4b64d5" stroke="#4b64d5"/>
<polygon points="248.76,342.84 244.18,340.23 243.39,342.4 247.98,344.98" fill="#8badfd" stroke="#8badfd"/>
<polygon points="267.07,352.05 262.49,349.92 261.74,351.98 266.33,354.09" fill="#7699f6" stroke="#7699f6"/>
<polygon points="165.04,246.08 160.39,238.32 159.45,241.68 164.1,249.34" fill="#da5a49" stroke="#da5a49"/>
<polygon points="244.18,340.23 239.6,337.48 238.81,339.68 243.39,342.4" fill="#92b4fe" stroke="#92b4fe"/>
<polygon points="271.65,354.08 267.07,352.05 266.33,354.09 270.92,356.09" fill="#7295f4" stroke="#7295f4"/>
<polygon points="173.37,263.39 168.74,256.56 167.82,259.71 172.45,266.44" fill="#f29072" stroke="#f29072"/>
<polygon points="239.6,337.48 235.03,334.59 234.22,336.82 238.81,339.68" fill="#98b9ff" stroke="#98b9ff"/>
<polygon points="276.23,356.01 271.65,354.08 270.92,356.09 275.51,358.01" fill="#6c8ff1" stroke="#6c8ff1"/>
<polygon points="336.57,372.58 331.97,371.5 331.36,373.33 335.97,374.4" fill="#4961d2" stroke="#4961d2"/>
<polygon points="280.81,357.85 276.23,356.01 275.51,358.01 280.1,359.83" fill="#688aef" stroke="#688aef"/>
<polygon points="235.03,334.59 230.45,331.54 229.63,333.81 234.22,336.82" fill="#9fbfff" stroke="#9fbfff"/>
<polygon points="285.4,359.6 280.81,357.85 280.1,359.83 284.69,361.56" fill="#6687ed" stroke="#6687ed"/>
<polygon points="199.21,302.37 194.61,297.62 193.73,300.28 198.33,304.97" fill="#e0dbd8" stroke="#e0dbd8"/>
<polygon points="230.45,331.54 225.87,328.33 225.04,330.63 229.63,333.81" fill="#a6c4fe" stroke="#a6c4fe"/>
<polygon points="289.98,361.27 285.4,359.6 284.69,361.56 289.29,363.22" fill="#6282ea" stroke="#6282ea"/>
<polygon points="341.17,373.61 336.57,372.58 335.97,374.4 340.58,375.43" fill="#485fd1" stroke="#485fd1"/>
<polygon points="225.87,328.33 221.29,324.94 220.45,327.28 225.04,330.63" fill="#aec9fc" stroke="#aec9fc"/>
<polygon points="181.69,278.82 177.08,272.8 176.16,275.76 180.79,281.69" fill="#f7b79b" stroke="#f7b79b"/>
<polygon points="294.57,362.87 289.98,361.27 289.29,363.22 293.88,364.8" fill="#5e7de7" stroke="#5e7de7"/>
<polygon points="345.78,374.61 341.17,373.61 340.58,375.43 345.2,376.42" fill="#465ecf" stroke="#465ecf"/>
<polygon points="299.16,364.39 294.57,362.87 293.88,364.8 298.48,366.31" fill="#5b7ae5" stroke="#5b7ae5"/>
<polygon points="221.29,324.94 216.7,321.36 215.86,323.75 220.45,327.28" fill="#b6cefa" stroke="#b6cefa"/>
<polygon points="194.61,297.62 190.01,292.6 189.12,295.33 193.73,300.28" fill="#e9d5cb" stroke="#e9d5cb"/>
<polygon points="303.75,365.84 299.16,364.39 298.48,366.31 303.09,367.75" fill="#5977e3" stroke="#5977e3"/>
<polygon points="350.39,375.56 345.78,374.61 345.2,376.42 349.82,377.37" fill="#445acc" stroke="#445acc"/>
<polygon points="168.74,256.56 164.1,249.34 163.17,252.58 167.82,259.71" fill="#e97a5f" stroke="#e97a5f"/>
<polygon points="216.7,321.36 212.11,317.59 211.26,320.03 215.86,323.75" fill="#bed2f6" stroke="#bed2f6"/>
<polygon points="160.39,238.32 155.73,230.1 154.78,233.57 159.45,241.68" fill="#ca3b37" stroke="#ca3b37"/>
<polygon points="308.35,367.23 303.75,365.84 303.09,367.75 307.69,369.12" fill="#5673e0" stroke="#5673e0"/>
<polygon points="177.08,272.8 172.45,266.44 171.53,269.48 176.16,275.76" fill="#f7a889" stroke="#f7a889"/>
<polygon points="212.11,317.59 207.52,313.61 206.66,316.09 211.26,320.03" fill="#c6d6f1" stroke="#c6d6f1"/>
<polygon points="312.94,368.56 308.35,367.23 307.69,369.12 312.3,370.44" fill="#5470de" stroke="#5470de"/>
<polygon points="190.01,292.6 185.4,287.3 184.5,290.09 189.12,295.33" fill="#efcebd" stroke="#efcebd"/>
<polygon points="317.54,369.83 312.94,368.56 312.3,370.44 316.9,371.7" fill="#516ddb" stroke="#516ddb"/>
<polygon points="207.52,313.61 202.93,309.41 202.06,311.94 206.66,316.09" fill="#cedaeb" stroke="#cedaeb"/>
<polygon points="322.15,371.05 317.54,369.83 316.9,371.7 321.52,372.91" fill="#4f69d9" stroke="#4f69d9"/>
<polygon points="185.4,287.3 180.79,281.69 179.88,284.55 184.5,290.09" fill="#f4c5ad" stroke="#f4c5ad"/>
<polygon points="164.1,249.34 159.45,241.68 158.51,245.03 163.17,252.58" fill="#de614d" stroke="#de614d"/>
<polygon points="326.75,372.21 322.15,371.05 321.52,372.91 326.13,374.06" fill="#4c66d6" stroke="#4c66d6"/>
<polygon points="202.93,309.41 198.33,304.97 197.45,307.56 202.06,311.94" fill="#d6dce4" stroke="#d6dce4"/>
<polygon points="172.45,266.44 167.82,259.71 166.89,262.83 171.53,269.48" fill="#f39577" stroke="#f39577"/>
<polygon points="257.15,349.76 252.56,347.43 251.79,349.54 256.39,351.85" fill="#7ea1fa" stroke="#7ea1fa"/>
<polygon points="252.56,347.43 247.98,344.98 247.2,347.12 251.79,349.54" fill="#84a7fc" stroke="#84a7fc"/>
<polygon points="261.74,351.98 257.15,349.76 256.39,351.85 260.98,354.04" fill="#7a9df8" stroke="#7a9df8"/>
<polygon points="247.98,344.98 243.39,342.4 242.6,344.57 247.2,347.12" fill="#89acfd" stroke="#89acfd"/>
<polygon points="266.33,354.09 261.74,351.98 260.98,354.04 265.58,356.13" fill="#7597f6" stroke="#7597f6"/>
<polygon points="331.36,373.33 326.75,372.21 326.13,374.06 330.75,375.17" fill="#4b64d5" stroke="#4b64d5"/>
<polygon points="243.39,342.4 238.81,339.68 238,341.88 242.6,344.57" fill="#90b2fe" stroke="#90b2fe"/>
<polygon points="155.73,230.1 151.05,221.38 150.1,224.98 154.78,233.57" fill="#b40426" stroke="#b40426"/>
<polygon points="270.92,356.09 266.33,354.09 265.58,356.13 270.18,358.11" fill="#7093f3" stroke="#7093f3"/>
<polygon points="238.81,339.68 234.22,336.82 233.41,339.05 238,341.88" fill="#97b8ff" stroke="#97b8ff"/>
<polygon points="275.51,358.01 270.92,356.09 270.18,358.11 274.78,360.01" fill="#6c8ff1" stroke="#6c8ff1"/>
<polygon points="234.22,336.82 229.63,333.81 228.81,336.07 233.41,339.05" fill="#9dbdff" stroke="#9dbdff"/>
<polygon points="198.33,304.97 193.73,300.28 192.84,302.93 197.45,307.56" fill="#dedcdb" stroke="#dedcdb"/>
<polygon points="280.1,359.83 275.51,358.01 274.78,360.01 279.38,361.81" fill="#688aef" stroke="#688aef"/>
<polygon points="335.97,374.4 331.36,373.33 330.75,375.17 335.37,376.23" fill="#4961d2" stroke="#4961d2"/>
<polygon points="229.63,333.81 225.04,330.63 224.21,332.93 228.81,336.07" fill="#a5c3fe" stroke="#a5c3fe"/>
<polygon points="284.69,361.56 280.1,359.83 279.38,361.81 283.98,363.53" fill="#6485ec" stroke="#6485ec"/>
<polygon points="180.79,281.69 176.16,275.76 175.25,278.7 179.88,284.55" fill="#f7b99e" stroke="#f7b99e"/>
<polygon points="289.29,363.22 284.69,361.56 283.98,363.53 288.59,365.17" fill="#6180e9" stroke="#6180e9"/>
<polygon points="225.04,330.63 220.45,327.28 219.61,329.63 224.21,332.93" fill="#abc8fd" stroke="#abc8fd"/>
<polygon points="340.58,375.43 335.97,374.4 335.37,376.23 339.99,377.25" fill="#485fd1" stroke="#485fd1"/>
<polygon points="293.88,364.8 289.29,363.22 288.59,365.17 293.2,366.73" fill="#5e7de7" stroke="#5e7de7"/>
<polygon points="193.73,300.28 189.12,295.33 188.22,298.04 192.84,302.93" fill="#e7d7ce" stroke="#e7d7ce"/>
<polygon points="220.45,327.28 215.86,323.75 215.01,326.14 219.61,329.63" fill="#b3cdfb" stroke="#b3cdfb"/>
<polygon points="167.82,259.71 163.17,252.58 162.23,255.8 166.89,262.83" fill="#ec8165" stroke="#ec8165"/>
<polygon points="345.2,376.42 340.58,375.43 339.99,377.25 344.62,378.23" fill="#455cce" stroke="#455cce"/>
<polygon points="159.45,241.68 154.78,233.57 153.84,237.03 158.51,245.03" fill="#cd423b" stroke="#cd423b"/>
<polygon points="298.48,366.31 293.88,364.8 293.2,366.73 297.8,368.23" fill="#5a78e4" stroke="#5a78e4"/>
<polygon points="215.86,323.75 211.26,320.03 210.41,322.46 215.01,326.14" fill="#bbd1f8" stroke="#bbd1f8"/>
<polygon points="303.09,367.75 298.48,366.31 297.8,368.23 302.42,369.65" fill="#5875e1" stroke="#5875e1"/>
<polygon points="349.82,377.37 345.2,376.42 344.62,378.23 349.25,379.18" fill="#445acc" stroke="#445acc"/>
<polygon points="176.16,275.76 171.53,269.48 170.61,272.5 175.25,278.7" fill="#f7aa8c" stroke="#f7aa8c"/>
<polygon points="307.69,369.12 303.09,367.75 302.42,369.65 307.03,371.02" fill="#5572df" stroke="#5572df"/>
<polygon points="189.12,295.33 184.5,290.09 183.6,292.87 188.22,298.04" fill="#eed0c0" stroke="#eed0c0"/>
<polygon points="211.26,320.03 206.66,316.09 205.8,318.57 210.41,322.46" fill="#c4d5f3" stroke="#c4d5f3"/>
<polygon points="312.3,370.44 307.69,369.12 307.03,371.02 311.65,372.32" fill="#536edd" stroke="#536edd"/>
<polygon points="206.66,316.09 202.06,311.94 201.19,314.47 205.8,318.57" fill="#ccd9ed" stroke="#ccd9ed"/>
<polygon points="316.9,371.7 312.3,370.44 311.65,372.32 316.26,373.57" fill="#506bda" stroke="#506bda"/>
<polygon points="163.17,252.58 158.51,245.03 157.56,248.36 162.23,255.8" fill="#e26952" stroke="#e26952"/>
<polygon points="184.5,290.09 179.88,284.55 178.97,287.41 183.6,292.87" fill="#f3c8b2" stroke="#f3c8b2"/>
<polygon points="321.52,372.91 316.9,371.7 316.26,373.57 320.89,374.77" fill="#4e68d8" stroke="#4e68d8"/>
<polygon points="171.53,269.48 166.89,262.83 165.95,265.95 170.61,272.5" fill="#f49a7b" stroke="#f49a7b"/>
<polygon points="202.06,311.94 197.45,307.56 196.57,310.15 201.19,314.47" fill="#d4dbe6" stroke="#d4dbe6"/>
<polygon points="154.78,233.57 150.1,224.98 149.14,228.56 153.84,237.03" fill="#b8122a" stroke="#b8122a"/>
<polygon points="326.13,374.06 321.52,372.91 320.89,374.77 325.51,375.92" fill="#4c66d6" stroke="#4c66d6"/>
<polygon points="251.79,349.54 247.2,347.12 246.41,349.26 251.01,351.65" fill="#82a6fb" stroke="#82a6fb"/>
<polygon points="256.39,351.85 251.79,349.54 251.01,351.65 255.62,353.94" fill="#7da0f9" stroke="#7da0f9"/>
<polygon points="247.2,347.12 242.6,344.57 241.8,346.73 246.41,349.26" fill="#88abfd" stroke="#88abfd"/>
<polygon points="260.98,354.04 256.39,351.85 255.62,353.94 260.23,356.1" fill="#799cf8" stroke="#799cf8"/>
<polygon points="242.6,344.57 238,341.88 237.2,344.08 241.8,346.73" fill="#8fb1fe" stroke="#8fb1fe"/>
<polygon points="265.58,356.13 260.98,354.04 260.23,356.1 264.83,358.17" fill="#7396f5" stroke="#7396f5"/>
<polygon points="238,341.88 233.41,339.05 232.59,341.28 237.2,344.08" fill="#94b6ff" stroke="#94b6ff"/>
<polygon points="330.75,375.17 326.13,374.06 325.51,375.92 330.14,377.01" fill="#4a63d3" stroke="#4a63d3"/>
<polygon points="270.18,358.11 265.58,356.13 264.83,358.17 269.44,360.14" fill="#6f92f3" stroke="#6f92f3"/>
<polygon points="197.45,307.56 192.84,302.93 191.95,305.58 196.57,310.15" fill="#dcdddd" stroke="#dcdddd"/>
<polygon points="274.78,360.01 270.18,358.11 269.44,360.14 274.05,362.01" fill="#6b8df0" stroke="#6b8df0"/>
<polygon points="233.41,339.05 228.81,336.07 227.99,338.34 232.59,341.28" fill="#9bbcff" stroke="#9bbcff"/>
<polygon points="179.88,284.55 175.25,278.7 174.33,281.63 178.97,287.41" fill="#f6bda2" stroke="#f6bda2"/>
<polygon points="279.38,361.81 274.78,360.01 274.05,362.01 278.66,363.79" fill="#6788ee" stroke="#6788ee"/>
<polygon points="228.81,336.07 224.21,332.93 223.38,335.24 227.99,338.34" fill="#a2c1ff" stroke="#a2c1ff"/>
<polygon points="335.37,376.23 330.75,375.17 330.14,377.01 334.77,378.07" fill="#4961d2" stroke="#4961d2"/>
<polygon points="283.98,363.53 279.38,361.81 278.66,363.79 283.27,365.5" fill="#6384eb" stroke="#6384eb"/>
<polygon points="224.21,332.93 219.61,329.63 218.77,331.97 223.38,335.24" fill="#aac7fd" stroke="#aac7fd"/>
<polygon points="158.51,245.03 153.84,237.03 152.88,240.47 157.56,248.36" fill="#d24b40" stroke="#d24b40"/>
<polygon points="166.89,262.83 162.23,255.8 161.29,259.01 165.95,265.95" fill="#ee8669" stroke="#ee8669"/>
<polygon points="288.59,365.17 283.98,363.53 283.27,365.5 287.89,367.12" fill="#6180e9" stroke="#6180e9"/>
<polygon points="192.84,302.93 188.22,298.04 187.32,300.75 191.95,305.58" fill="#e5d8d1" stroke="#e5d8d1"/>
<polygon points="339.99,377.25 335.37,376.23 334.77,378.07 339.4,379.08" fill="#465ecf" stroke="#465ecf"/>
<polygon points="219.61,329.63 215.01,326.14 214.16,328.52 218.77,331.97" fill="#b2ccfb" stroke="#b2ccfb"/>
<polygon points="293.2,366.73 288.59,365.17 287.89,367.12 292.5,368.67" fill="#5d7ce6" stroke="#5d7ce6"/>
<polygon points="297.8,368.23 293.2,366.73 292.5,368.67 297.12,370.15" fill="#5a78e4" stroke="#5a78e4"/>
<polygon points="344.62,378.23 339.99,377.25 339.4,379.08 344.03,380.06" fill="#455cce" stroke="#455cce"/>
<polygon points="215.01,326.14 210.41,322.46 209.55,324.88 214.16,328.52" fill="#bad0f8" stroke="#bad0f8"/>
<polygon points="175.25,278.7 170.61,272.5 169.68,275.52 174.33,281.63" fill="#f7af91" stroke="#f7af91"/>
<polygon points="302.42,369.65 297.8,368.23 297.12,370.15 301.74,371.56" fill="#5875e1" stroke="#5875e1"/>
<polygon points="188.22,298.04 183.6,292.87 182.69,295.64 187.32,300.75" fill="#ecd3c5" stroke="#ecd3c5"/>
<polygon points="349.25,379.18 344.62,378.23 344.03,380.06 348.67,380.99" fill="#445acc" stroke="#445acc"/>
<polygon points="210.41,322.46 205.8,318.57 204.93,321.05 209.55,324.88" fill="#c1d4f4" stroke="#c1d4f4"/>
<polygon points="307.03,371.02 302.42,369.65 301.74,371.56 306.37,372.92" fill="#5572df" stroke="#5572df"/>
<polygon points="311.65,372.32 307.03,371.02 306.37,372.92 310.99,374.21" fill="#536edd" stroke="#536edd"/>
<polygon points="162.23,255.8 157.56,248.36 156.62,251.67 161.29,259.01" fill="#e46e56" stroke="#e46e56"/>
<polygon points="205.8,318.57 201.19,314.47 200.31,317 204.93,321.05" fill="#cad8ef" stroke="#cad8ef"/>
<polygon points="153.84,237.03 149.14,228.56 148.18,232.11 152.88,240.47" fill="#be242e" stroke="#be242e"/>
<polygon points="183.6,292.87 178.97,287.41 178.05,290.25 182.69,295.64" fill="#f2cab5" stroke="#f2cab5"/>
<polygon points="316.26,373.57 311.65,372.32 310.99,374.21 315.62,375.45" fill="#506bda" stroke="#506bda"/>
<polygon points="170.61,272.5 165.95,265.95 165.02,269.05 169.68,275.52" fill="#f59f80" stroke="#f59f80"/>
<polygon points="201.19,314.47 196.57,310.15 195.68,312.73 200.31,317" fill="#d2dbe8" stroke="#d2dbe8"/>
<polygon points="320.89,374.77 316.26,373.57 315.62,375.45 320.25,376.64" fill="#4e68d8" stroke="#4e68d8"/>
<polygon points="325.51,375.92 320.89,374.77 320.25,376.64 324.88,377.77" fill="#4b64d5" stroke="#4b64d5"/>
<polygon points="251.01,351.65 246.41,349.26 245.62,351.4 250.23,353.77" fill="#81a4fb" stroke="#81a4fb"/>
<polygon points="255.62,353.94 251.01,351.65 250.23,353.77 254.85,356.03" fill="#7b9ff9" stroke="#7b9ff9"/>
<polygon points="246.41,349.26 241.8,346.73 241.01,348.9 245.62,351.4" fill="#86a9fc" stroke="#86a9fc"/>
<polygon points="260.23,356.1 255.62,353.94 254.85,356.03 259.46,358.17" fill="#779af7" stroke="#779af7"/>
<polygon points="241.8,346.73 237.2,344.08 236.39,346.28 241.01,348.9" fill="#8db0fe" stroke="#8db0fe"/>
<polygon points="196.57,310.15 191.95,305.58 191.06,308.21 195.68,312.73" fill="#dadce0" stroke="#dadce0"/>
<polygon points="264.83,358.17 260.23,356.1 259.46,358.17 264.08,360.21" fill="#7295f4" stroke="#7295f4"/>
<polygon points="178.97,287.41 174.33,281.63 173.4,284.55 178.05,290.25" fill="#f5c0a7" stroke="#f5c0a7"/>
<polygon points="237.2,344.08 232.59,341.28 231.78,343.51 236.39,346.28" fill="#93b5fe" stroke="#93b5fe"/>
<polygon points="269.44,360.14 264.83,358.17 264.08,360.21 268.7,362.16" fill="#6e90f2" stroke="#6e90f2"/>
<polygon points="330.14,377.01 325.51,375.92 324.88,377.77 329.52,378.86" fill="#4a63d3" stroke="#4a63d3"/>
<polygon points="232.59,341.28 227.99,338.34 227.16,340.6 231.78,343.51" fill="#9abbff" stroke="#9abbff"/>
<polygon points="274.05,362.01 269.44,360.14 268.7,362.16 273.32,364.01" fill="#6a8bef" stroke="#6a8bef"/>
<polygon points="157.56,248.36 152.88,240.47 151.93,243.89 156.62,251.67" fill="#d75445" stroke="#d75445"/>
<polygon points="227.99,338.34 223.38,335.24 222.55,337.54 227.16,340.6" fill="#a1c0ff" stroke="#a1c0ff"/>
<polygon points="165.95,265.95 161.29,259.01 160.35,262.21 165.02,269.05" fill="#f08b6e" stroke="#f08b6e"/>
<polygon points="278.66,363.79 274.05,362.01 273.32,364.01 277.94,365.78" fill="#6687ed" stroke="#6687ed"/>
<polygon points="334.77,378.07 330.14,377.01 329.52,378.86 334.16,379.91" fill="#485fd1" stroke="#485fd1"/>
<polygon points="223.38,335.24 218.77,331.97 217.93,334.31 222.55,337.54" fill="#a7c5fe" stroke="#a7c5fe"/>
<polygon points="283.27,365.5 278.66,363.79 277.94,365.78 282.56,367.47" fill="#6384eb" stroke="#6384eb"/>
<polygon points="191.95,305.58 187.32,300.75 186.42,303.45 191.06,308.21" fill="#e2dad5" stroke="#e2dad5"/>
<polygon points="287.89,367.12 283.27,365.5 282.56,367.47 287.18,369.08" fill="#5f7fe8" stroke="#5f7fe8"/>
<polygon points="218.77,331.97 214.16,328.52 213.31,330.9 217.93,334.31" fill="#afcafc" stroke="#afcafc"/>
<polygon points="339.4,379.08 334.77,378.07 334.16,379.91 338.8,380.92" fill="#465ecf" stroke="#465ecf"/>
<polygon points="174.33,281.63 169.68,275.52 168.74,278.52 173.4,284.55" fill="#f7b396" stroke="#f7b396"/>
<polygon points="292.5,368.67 287.89,367.12 287.18,369.08 291.81,370.61" fill="#5d7ce6" stroke="#5d7ce6"/>
<polygon points="214.16,328.52 209.55,324.88 208.68,327.31 213.31,330.9" fill="#b7cff9" stroke="#b7cff9"/>
<polygon points="297.12,370.15 292.5,368.67 291.81,370.61 296.44,372.08" fill="#5977e3" stroke="#5977e3"/>
<polygon points="344.03,380.06 339.4,379.08 338.8,380.92 343.45,381.88" fill="#455cce" stroke="#455cce"/>
<polygon points="187.32,300.75 182.69,295.64 181.78,298.41 186.42,303.45" fill="#ead4c8" stroke="#ead4c8"/>
<polygon points="301.74,371.56 297.12,370.15 296.44,372.08 301.07,373.48" fill="#5673e0" stroke="#5673e0"/>
<polygon points="209.55,324.88 204.93,321.05 204.06,323.52 208.68,327.31" fill="#c0d4f5" stroke="#c0d4f5"/>
<polygon points="161.29,259.01 156.62,251.67 155.66,254.96 160.35,262.21" fill="#e8765c" stroke="#e8765c"/>
<polygon points="348.67,380.99 344.03,380.06 343.45,381.88 348.1,382.81" fill="#445acc" stroke="#445acc"/>
<polygon points="306.37,372.92 301.74,371.56 301.07,373.48 305.7,374.82" fill="#5470de" stroke="#5470de"/>
<polygon points="152.88,240.47 148.18,232.11 147.22,235.65 151.93,243.89" fill="#c43032" stroke="#c43032"/>
<polygon points="204.93,321.05 200.31,317 199.43,319.52 204.06,323.52" fill="#c7d7f0" stroke="#c7d7f0"/>
<polygon points="169.68,275.52 165.02,269.05 164.08,272.14 168.74,278.52" fill="#f6a385" stroke="#f6a385"/>
<polygon points="310.99,374.21 306.37,372.92 305.7,374.82 310.34,376.1" fill="#516ddb" stroke="#516ddb"/>
<polygon points="182.69,295.64 178.05,290.25 177.13,293.09 181.78,298.41" fill="#f1cdba" stroke="#f1cdba"/>
<polygon points="315.62,375.45 310.99,374.21 310.34,376.1 314.97,377.33" fill="#4f69d9" stroke="#4f69d9"/>
<polygon points="200.31,317 195.68,312.73 194.8,315.3 199.43,319.52" fill="#d1dae9" stroke="#d1dae9"/>
<polygon points="320.25,376.64 315.62,375.45 314.97,377.33 319.61,378.51" fill="#4e68d8" stroke="#4e68d8"/>
<polygon points="178.05,290.25 173.4,284.55 172.47,287.46 177.13,293.09" fill="#f5c2aa" stroke="#f5c2aa"/>
<polygon points="195.68,312.73 191.06,308.21 190.16,310.84 194.8,315.3" fill="#d8dce2" stroke="#d8dce2"/>
<polygon points="250.23,353.77 245.62,351.4 244.83,353.54 249.45,355.89" fill="#80a3fa" stroke="#80a3fa"/>
<polygon points="245.62,351.4 241.01,348.9 240.2,351.07 244.83,353.54" fill="#85a8fc" stroke="#85a8fc"/>
<polygon points="254.85,356.03 250.23,353.77 249.45,355.89 254.08,358.12" fill="#7b9ff9" stroke="#7b9ff9"/>
<polygon points="324.88,377.77 320.25,376.64 319.61,378.51 324.26,379.64" fill="#4b64d5" stroke="#4b64d5"/>
<polygon points="156.62,251.67 151.93,243.89 150.97,247.29 155.66,254.96" fill="#da5a49" stroke="#da5a49"/>
<polygon points="241.01,348.9 236.39,346.28 235.58,348.48 240.2,351.07" fill="#8caffe" stroke="#8caffe"/>
<polygon points="259.46,358.17 254.85,356.03 254.08,358.12 258.7,360.24" fill="#7699f6" stroke="#7699f6"/>
<polygon points="236.39,346.28 231.78,343.51 230.96,345.74 235.58,348.48" fill="#92b4fe" stroke="#92b4fe"/>
<polygon points="264.08,360.21 259.46,358.17 258.7,360.24 263.33,362.26" fill="#7295f4" stroke="#7295f4"/>
<polygon points="165.02,269.05 160.35,262.21 159.4,265.39 164.08,272.14" fill="#f29072" stroke="#f29072"/>
<polygon points="231.78,343.51 227.16,340.6 226.33,342.87 230.96,345.74" fill="#98b9ff" stroke="#98b9ff"/>
<polygon points="268.7,362.16 264.08,360.21 263.33,362.26 267.95,364.19" fill="#6c8ff1" stroke="#6c8ff1"/>
<polygon points="329.52,378.86 324.88,377.77 324.26,379.64 328.9,380.72" fill="#4a63d3" stroke="#4a63d3"/>
<polygon points="273.32,364.01 268.7,362.16 267.95,364.19 272.58,366.02" fill="#688aef" stroke="#688aef"/>
<polygon points="227.16,340.6 222.55,337.54 221.71,339.84 226.33,342.87" fill="#9fbfff" stroke="#9fbfff"/>
<polygon points="191.06,308.21 186.42,303.45 185.51,306.14 190.16,310.84" fill="#e0dbd8" stroke="#e0dbd8"/>
<polygon points="277.94,365.78 273.32,364.01 272.58,366.02 277.21,367.77" fill="#6687ed" stroke="#6687ed"/>
<polygon points="222.55,337.54 217.93,334.31 217.08,336.64 221.71,339.84" fill="#a6c4fe" stroke="#a6c4fe"/>
<polygon points="282.56,367.47 277.94,365.78 277.21,367.77 281.84,369.44" fill="#6282ea" stroke="#6282ea"/>
<polygon points="334.16,379.91 329.52,378.86 328.9,380.72 333.55,381.76" fill="#485fd1" stroke="#485fd1"/>
<polygon points="173.4,284.55 168.74,278.52 167.81,281.51 172.47,287.46" fill="#f7b79b" stroke="#f7b79b"/>
<polygon points="217.93,334.31 213.31,330.9 212.45,333.28 217.08,336.64" fill="#aec9fc" stroke="#aec9fc"/>
<polygon points="287.18,369.08 282.56,367.47 281.84,369.44 286.48,371.04" fill="#5e7de7" stroke="#5e7de7"/>
<polygon points="338.8,380.92 334.16,379.91 333.55,381.76 338.2,382.76" fill="#465ecf" stroke="#465ecf"/>
<polygon points="213.31,330.9 208.68,327.31 207.82,329.73 212.45,333.28" fill="#b6cefa" stroke="#b6cefa"/>
<polygon points="291.81,370.61 287.18,369.08 286.48,371.04 291.11,372.56" fill="#5b7ae5" stroke="#5b7ae5"/>
<polygon points="186.42,303.45 181.78,298.41 180.86,301.17 185.51,306.14" fill="#e9d5cb" stroke="#e9d5cb"/>
<polygon points="296.44,372.08 291.81,370.61 291.11,372.56 295.75,374.01" fill="#5977e3" stroke="#5977e3"/>
<polygon points="160.35,262.21 155.66,254.96 154.71,258.24 159.4,265.39" fill="#ea7b60" stroke="#ea7b60"/>
<polygon points="343.45,381.88 338.8,380.92 338.2,382.76 342.86,383.72" fill="#445acc" stroke="#445acc"/>
<polygon points="208.68,327.31 204.06,323.52 203.18,325.99 207.82,329.73" fill="#bed2f6" stroke="#bed2f6"/>
<polygon points="151.93,243.89 147.22,235.65 146.25,239.16 150.97,247.29" fill="#ca3b37" stroke="#ca3b37"/>
<polygon points="301.07,373.48 296.44,372.08 295.75,374.01 300.39,375.4" fill="#5673e0" stroke="#5673e0"/>
<polygon points="168.74,278.52 164.08,272.14 163.13,275.21 167.81,281.51" fill="#f7a889" stroke="#f7a889"/>
<polygon points="348.1,382.81 343.45,381.88 342.86,383.72 347.52,384.64" fill="#4358cb" stroke="#4358cb"/>
<polygon points="204.06,323.52 199.43,319.52 198.55,322.04 203.18,325.99" fill="#c6d6f1" stroke="#c6d6f1"/>
<polygon points="305.7,374.82 301.07,373.48 300.39,375.4 305.03,376.73" fill="#5470de" stroke="#5470de"/>
<polygon points="181.78,298.41 177.13,293.09 176.21,295.91 180.86,301.17" fill="#efcebd" stroke="#efcebd"/>
<polygon points="310.34,376.1 305.7,374.82 305.03,376.73 309.68,378" fill="#516ddb" stroke="#516ddb"/>
<polygon points="199.43,319.52 194.8,315.3 193.9,317.87 198.55,322.04" fill="#cedaeb" stroke="#cedaeb"/>
<polygon points="314.97,377.33 310.34,376.1 309.68,378 314.32,379.22" fill="#4f69d9" stroke="#4f69d9"/>
<polygon points="155.66,254.96 150.97,247.29 150,250.67 154.71,258.24" fill="#df634e" stroke="#df634e"/>
<polygon points="177.13,293.09 172.47,287.46 171.54,290.36 176.21,295.91" fill="#f4c6af" stroke="#f4c6af"/>
<polygon points="319.61,378.51 314.97,377.33 314.32,379.22 318.97,380.39" fill="#4c66d6" stroke="#4c66d6"/>
<polygon points="194.8,315.3 190.16,310.84 189.26,313.47 193.9,317.87" fill="#d6dce4" stroke="#d6dce4"/>
<polygon points="164.08,272.14 159.4,265.39 158.44,268.55 163.13,275.21" fill="#f39577" stroke="#f39577"/>
<polygon points="249.45,355.89 244.83,353.54 244.03,355.68 248.67,358" fill="#7ea1fa" stroke="#7ea1fa"/>
<polygon points="244.83,353.54 240.2,351.07 239.4,353.24 244.03,355.68" fill="#84a7fc" stroke="#84a7fc"/>
<polygon points="254.08,358.12 249.45,355.89 248.67,358 253.3,360.21" fill="#7a9df8" stroke="#7a9df8"/>
<polygon points="240.2,351.07 235.58,348.48 234.77,350.68 239.4,353.24" fill="#89acfd" stroke="#89acfd"/>
<polygon points="258.7,360.24 254.08,358.12 253.3,360.21 257.93,362.31" fill="#7597f6" stroke="#7597f6"/>
<polygon points="235.58,348.48 230.96,345.74 230.13,347.97 234.77,350.68" fill="#90b2fe" stroke="#90b2fe"/>
<polygon points="324.26,379.64 319.61,378.51 318.97,380.39 323.63,381.51" fill="#4b64d5" stroke="#4b64d5"/>
<polygon points="263.33,362.26 258.7,360.24 257.93,362.31 262.57,364.31" fill="#7093f3" stroke="#7093f3"/>
<polygon points="230.96,345.74 226.33,342.87 225.5,345.13 230.13,347.97" fill="#97b8ff" stroke="#97b8ff"/>
<polygon points="267.95,364.19 263.33,362.26 262.57,364.31 267.21,366.22" fill="#6c8ff1" stroke="#6c8ff1"/>
<polygon points="226.33,342.87 221.71,339.84 220.86,342.14 225.5,345.13" fill="#9ebeff" stroke="#9ebeff"/>
<polygon points="190.16,310.84 185.51,306.14 184.6,308.82 189.26,313.47" fill="#dedcdb" stroke="#dedcdb"/>
<polygon points="272.58,366.02 267.95,364.19 267.21,366.22 271.84,368.04" fill="#688aef" stroke="#688aef"/>
<polygon points="328.9,380.72 324.26,379.64 323.63,381.51 328.28,382.58" fill="#4961d2" stroke="#4961d2"/>
<polygon points="221.71,339.84 217.08,336.64 216.23,338.98 220.86,342.14" fill="#a5c3fe" stroke="#a5c3fe"/>
<polygon points="172.47,287.46 167.81,281.51 166.87,284.49 171.54,290.36" fill="#f7ba9f" stroke="#f7ba9f"/>
<polygon points="277.21,367.77 272.58,366.02 271.84,368.04 276.48,369.77" fill="#6485ec" stroke="#6485ec"/>
<polygon points="281.84,369.44 277.21,367.77 276.48,369.77 281.12,371.42" fill="#6180e9" stroke="#6180e9"/>
<polygon points="217.08,336.64 212.45,333.28 211.59,335.65 216.23,338.98" fill="#abc8fd" stroke="#abc8fd"/>
<polygon points="333.55,381.76 328.9,380.72 328.28,382.58 332.94,383.61" fill="#485fd1" stroke="#485fd1"/>
<polygon points="286.48,371.04 281.84,369.44 281.12,371.42 285.77,373" fill="#5e7de7" stroke="#5e7de7"/>
<polygon points="185.51,306.14 180.86,301.17 179.94,303.92 184.6,308.82" fill="#e7d7ce" stroke="#e7d7ce"/>
<polygon points="159.4,265.39 154.71,258.24 153.75,261.5 158.44,268.55" fill="#ec8165" stroke="#ec8165"/>
<polygon points="212.45,333.28 207.82,329.73 206.95,332.15 211.59,335.65" fill="#b3cdfb" stroke="#b3cdfb"/>
<polygon points="150.97,247.29 146.25,239.16 145.28,242.66 150,250.67" fill="#cf453c" stroke="#cf453c"/>
<polygon points="338.2,382.76 333.55,381.76 332.94,383.61 337.6,384.6" fill="#455cce" stroke="#455cce"/>
<polygon points="291.11,372.56 286.48,371.04 285.77,373 290.41,374.51" fill="#5b7ae5" stroke="#5b7ae5"/>
<polygon points="207.82,329.73 203.18,325.99 202.3,328.45 206.95,332.15" fill="#bbd1f8" stroke="#bbd1f8"/>
<polygon points="295.75,374.01 291.11,372.56 290.41,374.51 295.06,375.95" fill="#5875e1" stroke="#5875e1"/>
<polygon points="167.81,281.51 163.13,275.21 162.18,278.27 166.87,284.49" fill="#f7ac8e" stroke="#f7ac8e"/>
<polygon points="342.86,383.72 338.2,382.76 337.6,384.6 342.27,385.56" fill="#445acc" stroke="#445acc"/>
<polygon points="300.39,375.4 295.75,374.01 295.06,375.95 299.71,377.32" fill="#5572df" stroke="#5572df"/>
<polygon points="180.86,301.17 176.21,295.91 175.28,298.73 179.94,303.92" fill="#edd1c2" stroke="#edd1c2"/>
<polygon points="203.18,325.99 198.55,322.04 197.66,324.55 202.3,328.45" fill="#c4d5f3" stroke="#c4d5f3"/>
<polygon points="347.52,384.64 342.86,383.72 342.27,385.56 346.94,386.47" fill="#4358cb" stroke="#4358cb"/>
<polygon points="305.03,376.73 300.39,375.4 299.71,377.32 304.36,378.64" fill="#536edd" stroke="#536edd"/>
<polygon points="198.55,322.04 193.9,317.87 193.01,320.44 197.66,324.55" fill="#ccd9ed" stroke="#ccd9ed"/>
<polygon points="309.68,378 305.03,376.73 304.36,378.64 309.02,379.9" fill="#506bda" stroke="#506bda"/>
<polygon points="154.71,258.24 150,250.67 149.03,254.04 153.75,261.5" fill="#e26952" stroke="#e26952"/>
<polygon points="176.21,295.91 171.54,290.36 170.6,293.25 175.28,298.73" fill="#f3c8b2" stroke="#f3c8b2"/>
<polygon points="314.32,379.22 309.68,378 309.02,379.9 313.67,381.11" fill="#4f69d9" stroke="#4f69d9"/>
<polygon points="163.13,275.21 158.44,268.55 157.49,271.7 162.18,278.27" fill="#f49a7b" stroke="#f49a7b"/>
<polygon points="193.9,317.87 189.26,313.47 188.35,316.09 193.01,320.44" fill="#d4dbe6" stroke="#d4dbe6"/>
<polygon points="318.97,380.39 314.32,379.22 313.67,381.11 318.33,382.27" fill="#4c66d6" stroke="#4c66d6"/>
<polygon points="244.03,355.68 239.4,353.24 238.59,355.41 243.23,357.83" fill="#82a6fb" stroke="#82a6fb"/>
<polygon points="248.67,358 244.03,355.68 243.23,357.83 247.88,360.12" fill="#7da0f9" stroke="#7da0f9"/>
<polygon points="239.4,353.24 234.77,350.68 233.95,352.88 238.59,355.41" fill="#88abfd" stroke="#88abfd"/>
<polygon points="253.3,360.21 248.67,358 247.88,360.12 252.52,362.31" fill="#799cf8" stroke="#799cf8"/>
<polygon points="234.77,350.68 230.13,347.97 229.31,350.21 233.95,352.88" fill="#8fb1fe" stroke="#8fb1fe"/>
<polygon points="257.93,362.31 253.3,360.21 252.52,362.31 257.16,364.39" fill="#7396f5" stroke="#7396f5"/>
<polygon points="230.13,347.97 225.5,345.13 224.66,347.39 229.31,350.21" fill="#94b6ff" stroke="#94b6ff"/>
<polygon points="323.63,381.51 318.97,380.39 318.33,382.27 323,383.38" fill="#4a63d3" stroke="#4a63d3"/>
<polygon points="262.57,364.31 257.93,362.31 257.16,364.39 261.81,366.37" fill="#6f92f3" stroke="#6f92f3"/>
<polygon points="189.26,313.47 184.6,308.82 183.69,311.5 188.35,316.09" fill="#dcdddd" stroke="#dcdddd"/>
<polygon points="225.5,345.13 220.86,342.14 220.02,344.43 224.66,347.39" fill="#9bbcff" stroke="#9bbcff"/>
<polygon points="267.21,366.22 262.57,364.31 261.81,366.37 266.45,368.25" fill="#6b8df0" stroke="#6b8df0"/>
<polygon points="171.54,290.36 166.87,284.49 165.92,287.45 170.6,293.25" fill="#f6bda2" stroke="#f6bda2"/>
<polygon points="271.84,368.04 267.21,366.22 266.45,368.25 271.1,370.05" fill="#6788ee" stroke="#6788ee"/>
<polygon points="220.86,342.14 216.23,338.98 215.37,341.32 220.02,344.43" fill="#a2c1ff" stroke="#a2c1ff"/>
<polygon points="328.28,382.58 323.63,381.51 323,383.38 327.66,384.45" fill="#4961d2" stroke="#4961d2"/>
<polygon points="276.48,369.77 271.84,368.04 271.1,370.05 275.75,371.77" fill="#6384eb" stroke="#6384eb"/>
<polygon points="150,250.67 145.28,242.66 144.3,246.14 149.03,254.04" fill="#d44e41" stroke="#d44e41"/>
<polygon points="216.23,338.98 211.59,335.65 210.73,338.03 215.37,341.32" fill="#aac7fd" stroke="#aac7fd"/>
<polygon points="158.44,268.55 153.75,261.5 152.78,264.75 157.49,271.7" fill="#ee8669" stroke="#ee8669"/>
<polygon points="281.12,371.42 276.48,369.77 275.75,371.77 280.4,373.4" fill="#6180e9" stroke="#6180e9"/>
<polygon points="184.6,308.82 179.94,303.92 179.02,306.66 183.69,311.5" fill="#e4d9d2" stroke="#e4d9d2"/>
<polygon points="332.94,383.61 328.28,382.58 327.66,384.45 332.33,385.47" fill="#465ecf" stroke="#465ecf"/>
<polygon points="211.59,335.65 206.95,332.15 206.08,334.57 210.73,338.03" fill="#b2ccfb" stroke="#b2ccfb"/>
<polygon points="285.77,373 281.12,371.42 280.4,373.4 285.05,374.97" fill="#5d7ce6" stroke="#5d7ce6"/>
<polygon points="290.41,374.51 285.77,373 285.05,374.97 289.71,376.46" fill="#5a78e4" stroke="#5a78e4"/>
<polygon points="337.6,384.6 332.94,383.61 332.33,385.47 337,386.45" fill="#455cce" stroke="#455cce"/>
<polygon points="166.87,284.49 162.18,278.27 161.23,281.32 165.92,287.45" fill="#f7b093" stroke="#f7b093"/>
<polygon points="206.95,332.15 202.3,328.45 201.42,330.91 206.08,334.57" fill="#bad0f8" stroke="#bad0f8"/>
<polygon points="295.06,375.95 290.41,374.51 289.71,376.46 294.37,377.89" fill="#5875e1" stroke="#5875e1"/>
<polygon points="179.94,303.92 175.28,298.73 174.35,301.54 179.02,306.66" fill="#ecd3c5" stroke="#ecd3c5"/>
<polygon points="342.27,385.56 337.6,384.6 337,386.45 341.68,387.4" fill="#445acc" stroke="#445acc"/>
<polygon points="202.3,328.45 197.66,324.55 196.77,327.06 201.42,330.91" fill="#c1d4f4" stroke="#c1d4f4"/>
<polygon points="299.71,377.32 295.06,375.95 294.37,377.89 299.03,379.25" fill="#5572df" stroke="#5572df"/>
<polygon points="153.75,261.5 149.03,254.04 148.06,257.39 152.78,264.75" fill="#e57058" stroke="#e57058"/>
<polygon points="346.94,386.47 342.27,385.56 341.68,387.4 346.35,388.31" fill="#4358cb" stroke="#4358cb"/>
<polygon points="304.36,378.64 299.71,377.32 299.03,379.25 303.69,380.56" fill="#536edd" stroke="#536edd"/>
<polygon points="197.66,324.55 193.01,320.44 192.11,323 196.77,327.06" fill="#cad8ef" stroke="#cad8ef"/>
<polygon points="175.28,298.73 170.6,293.25 169.67,296.13 174.35,301.54" fill="#f2cbb7" stroke="#f2cbb7"/>
<polygon points="162.18,278.27 157.49,271.7 156.53,274.84 161.23,281.32" fill="#f59f80" stroke="#f59f80"/>
<polygon points="309.02,379.9 304.36,378.64 303.69,380.56 308.35,381.81" fill="#506bda" stroke="#506bda"/>
<polygon points="193.01,320.44 188.35,316.09 187.44,318.71 192.11,323" fill="#d2dbe8" stroke="#d2dbe8"/>
<polygon points="313.67,381.11 309.02,379.9 308.35,381.81 313.02,383.01" fill="#4e68d8" stroke="#4e68d8"/>
<polygon points="318.33,382.27 313.67,381.11 313.02,383.01 317.69,384.16" fill="#4c66d6" stroke="#4c66d6"/>
<polygon points="243.23,357.83 238.59,355.41 237.78,357.59 242.43,359.97" fill="#81a4fb" stroke="#81a4fb"/>
<polygon points="247.88,360.12 243.23,357.83 242.43,359.97 247.08,362.25" fill="#7da0f9" stroke="#7da0f9"/>
<polygon points="238.59,355.41 233.95,352.88 233.13,355.08 237.78,357.59" fill="#86a9fc" stroke="#86a9fc"/>
<polygon points="252.52,362.31 247.88,360.12 247.08,362.25 251.74,364.41" fill="#779af7" stroke="#779af7"/>
<polygon points="188.35,316.09 183.69,311.5 182.77,314.18 187.44,318.71" fill="#dadce0" stroke="#dadce0"/>
<polygon points="233.95,352.88 229.31,350.21 228.48,352.44 233.13,355.08" fill="#8db0fe" stroke="#8db0fe"/>
<polygon points="170.6,293.25 165.92,287.45 164.97,290.41 169.67,296.13" fill="#f5c0a7" stroke="#f5c0a7"/>
<polygon points="257.16,364.39 252.52,362.31 251.74,364.41 256.39,366.46" fill="#7396f5" stroke="#7396f5"/>
<polygon points="229.31,350.21 224.66,347.39 223.82,349.66 228.48,352.44" fill="#93b5fe" stroke="#93b5fe"/>
<polygon points="261.81,366.37 257.16,364.39 256.39,366.46 261.04,368.42" fill="#6e90f2" stroke="#6e90f2"/>
<polygon points="224.66,347.39 220.02,344.43 219.17,346.73 223.82,349.66" fill="#9abbff" stroke="#9abbff"/>
<polygon points="323,383.38 318.33,382.27 317.69,384.16 322.36,385.26" fill="#4a63d3" stroke="#4a63d3"/>
<polygon points="149.03,254.04 144.3,246.14 143.33,249.59 148.06,257.39" fill="#d75445" stroke="#d75445"/>
<polygon points="266.45,368.25 261.81,366.37 261.04,368.42 265.7,370.29" fill="#6a8bef" stroke="#6a8bef"/>
<polygon points="157.49,271.7 152.78,264.75 151.81,267.98 156.53,274.84" fill="#f18d6f" stroke="#f18d6f"/>
<polygon points="220.02,344.43 215.37,341.32 214.52,343.65 219.17,346.73" fill="#a1c0ff" stroke="#a1c0ff"/>
<polygon points="271.1,370.05 266.45,368.25 265.7,370.29 270.36,372.07" fill="#6687ed" stroke="#6687ed"/>
<polygon points="327.66,384.45 323,383.38 322.36,385.26 327.04,386.32" fill="#4961d2" stroke="#4961d2"/>
<polygon points="215.37,341.32 210.73,338.03 209.86,340.4 214.52,343.65" fill="#a7c5fe" stroke="#a7c5fe"/>
<polygon points="183.69,311.5 179.02,306.66 178.1,309.39 182.77,314.18" fill="#e2dad5" stroke="#e2dad5"/>
<polygon points="275.75,371.77 271.1,370.05 270.36,372.07 275.02,373.77" fill="#6384eb" stroke="#6384eb"/>
<polygon points="280.4,373.4 275.75,371.77 275.02,373.77 279.68,375.39" fill="#5f7fe8" stroke="#5f7fe8"/>
<polygon points="210.73,338.03 206.08,334.57 205.2,336.98 209.86,340.4" fill="#afcafc" stroke="#afcafc"/>
<polygon points="332.33,385.47 327.66,384.45 327.04,386.32 331.71,387.33" fill="#465ecf" stroke="#465ecf"/>
<polygon points="165.92,287.45 161.23,281.32 160.27,284.36 164.97,290.41" fill="#f7b396" stroke="#f7b396"/>
<polygon points="285.05,374.97 280.4,373.4 279.68,375.39 284.34,376.94" fill="#5d7ce6" stroke="#5d7ce6"/>
<polygon points="206.08,334.57 201.42,330.91 200.54,333.37 205.2,336.98" fill="#b7cff9" stroke="#b7cff9"/>
<polygon points="289.71,376.46 285.05,374.97 284.34,376.94 289,378.42" fill="#5977e3" stroke="#5977e3"/>
<polygon points="179.02,306.66 174.35,301.54 173.41,304.34 178.1,309.39" fill="#ead4c8" stroke="#ead4c8"/>
<polygon points="337,386.45 332.33,385.47 331.71,387.33 336.4,388.31" fill="#455cce" stroke="#455cce"/>
<polygon points="201.42,330.91 196.77,327.06 195.87,329.57 200.54,333.37" fill="#c0d4f5" stroke="#c0d4f5"/>
<polygon points="294.37,377.89 289.71,376.46 289,378.42 293.67,379.83" fill="#5673e0" stroke="#5673e0"/>
<polygon points="152.78,264.75 148.06,257.39 147.08,260.72 151.81,267.98" fill="#e8765c" stroke="#e8765c"/>
<polygon points="341.68,387.4 337,386.45 336.4,388.31 341.08,389.25" fill="#445acc" stroke="#445acc"/>
<polygon points="299.03,379.25 294.37,377.89 293.67,379.83 298.34,381.19" fill="#5470de" stroke="#5470de"/>
<polygon points="196.77,327.06 192.11,323 191.2,325.55 195.87,329.57" fill="#c7d7f0" stroke="#c7d7f0"/>
<polygon points="161.23,281.32 156.53,274.84 155.56,277.97 160.27,284.36" fill="#f6a385" stroke="#f6a385"/>
<polygon points="174.35,301.54 169.67,296.13 168.72,299 173.41,304.34" fill="#f1cdba" stroke="#f1cdba"/>
<polygon points="303.69,380.56 299.03,379.25 298.34,381.19 303.01,382.48" fill="#516ddb" stroke="#516ddb"/>
<polygon points="346.35,388.31 341.68,387.4 341.08,389.25 345.77,390.16" fill="#4257c9" stroke="#4257c9"/>
<polygon points="192.11,323 187.44,318.71 186.53,321.31 191.2,325.55" fill="#cfdaea" stroke="#cfdaea"/>
<polygon points="308.35,381.81 303.69,380.56 303.01,382.48 307.68,383.72" fill="#506bda" stroke="#506bda"/>
<polygon points="313.02,383.01 308.35,381.81 307.68,383.72 312.36,384.91" fill="#4e68d8" stroke="#4e68d8"/>
<polygon points="169.67,296.13 164.97,290.41 164.02,293.35 168.72,299" fill="#f5c2aa" stroke="#f5c2aa"/>
<polygon points="187.44,318.71 182.77,314.18 181.85,316.84 186.53,321.31" fill="#d8dce2" stroke="#d8dce2"/>
<polygon points="148.06,257.39 143.33,249.59 142.34,253.03 147.08,260.72" fill="#dc5d4a" stroke="#dc5d4a"/>
<polygon points="242.43,359.97 237.78,357.59 236.97,359.76 241.63,362.12" fill="#80a3fa" stroke="#80a3fa"/>
<polygon points="237.78,357.59 233.13,355.08 232.3,357.28 236.97,359.76" fill="#85a8fc" stroke="#85a8fc"/>
<polygon points="247.08,362.25 242.43,359.97 241.63,362.12 246.29,364.37" fill="#7b9ff9" stroke="#7b9ff9"/>
<polygon points="317.69,384.16 313.02,383.01 312.36,384.91 317.04,386.05" fill="#4b64d5" stroke="#4b64d5"/>
<polygon points="233.13,355.08 228.48,352.44 227.64,354.67 232.3,357.28" fill="#8caffe" stroke="#8caffe"/>
<polygon points="251.74,364.41 247.08,362.25 246.29,364.37 250.95,366.51" fill="#7699f6" stroke="#7699f6"/>
<polygon points="156.53,274.84 151.81,267.98 150.84,271.2 155.56,277.97" fill="#f29274" stroke="#f29274"/>
<polygon points="228.48,352.44 223.82,349.66 222.98,351.92 227.64,354.67" fill="#92b4fe" stroke="#92b4fe"/>
<polygon points="256.39,366.46 251.74,364.41 250.95,366.51 255.61,368.54" fill="#7295f4" stroke="#7295f4"/>
<polygon points="223.82,349.66 219.17,346.73 218.32,349.03 222.98,351.92" fill="#98b9ff" stroke="#98b9ff"/>
<polygon points="261.04,368.42 256.39,366.46 255.61,368.54 260.28,370.48" fill="#6e90f2" stroke="#6e90f2"/>
<polygon points="322.36,385.26 317.69,384.16 317.04,386.05 321.72,387.14" fill="#4a63d3" stroke="#4a63d3"/>
<polygon points="265.7,370.29 261.04,368.42 260.28,370.48 264.94,372.33" fill="#6a8bef" stroke="#6a8bef"/>
<polygon points="219.17,346.73 214.52,343.65 213.65,345.98 218.32,349.03" fill="#9fbfff" stroke="#9fbfff"/>
<polygon points="182.77,314.18 178.1,309.39 177.17,312.12 181.85,316.84" fill="#e0dbd8" stroke="#e0dbd8"/>
<polygon points="270.36,372.07 265.7,370.29 264.94,372.33 269.61,374.09" fill="#6687ed" stroke="#6687ed"/>
<polygon points="214.52,343.65 209.86,340.4 208.99,342.77 213.65,345.98" fill="#a6c4fe" stroke="#a6c4fe"/>
<polygon points="275.02,373.77 270.36,372.07 269.61,374.09 274.28,375.78" fill="#6282ea" stroke="#6282ea"/>
<polygon points="327.04,386.32 322.36,385.26 321.72,387.14 326.41,388.19" fill="#485fd1" stroke="#485fd1"/>
<polygon points="164.97,290.41 160.27,284.36 159.31,287.39 164.02,293.35" fill="#f7b79b" stroke="#f7b79b"/>
<polygon points="209.86,340.4 205.2,336.98 204.32,339.39 208.99,342.77" fill="#aec9fc" stroke="#aec9fc"/>
<polygon points="279.68,375.39 275.02,373.77 274.28,375.78 278.95,377.38" fill="#5f7fe8" stroke="#5f7fe8"/>
<polygon points="331.71,387.33 327.04,386.32 326.41,388.19 331.1,389.2" fill="#465ecf" stroke="#465ecf"/>
<polygon points="205.2,336.98 200.54,333.37 199.65,335.83 204.32,339.39" fill="#b6cefa" stroke="#b6cefa"/>
<polygon points="284.34,376.94 279.68,375.39 278.95,377.38 283.62,378.92" fill="#5b7ae5" stroke="#5b7ae5"/>
<polygon points="178.1,309.39 173.41,304.34 172.47,307.13 177.17,312.12" fill="#e9d5cb" stroke="#e9d5cb"/>
<polygon points="151.81,267.98 147.08,260.72 146.1,264.04 150.84,271.2" fill="#ea7b60" stroke="#ea7b60"/>
<polygon points="289,378.42 284.34,376.94 283.62,378.92 288.29,380.38" fill="#5977e3" stroke="#5977e3"/>
<polygon points="200.54,333.37 195.87,329.57 194.97,332.07 199.65,335.83" fill="#bed2f6" stroke="#bed2f6"/>
<polygon points="336.4,388.31 331.71,387.33 331.1,389.2 335.79,390.17" fill="#455cce" stroke="#455cce"/>
<polygon points="293.67,379.83 289,378.42 288.29,380.38 292.97,381.78" fill="#5673e0" stroke="#5673e0"/>
<polygon points="160.27,284.36 155.56,277.97 154.6,281.08 159.31,287.39" fill="#f7a889" stroke="#f7a889"/>
<polygon points="195.87,329.57 191.2,325.55 190.3,328.1 194.97,332.07" fill="#c6d6f1" stroke="#c6d6f1"/>
<polygon points="341.08,389.25 336.4,388.31 335.79,390.17 340.48,391.11" fill="#4358cb" stroke="#4358cb"/>
<polygon points="173.41,304.34 168.72,299 167.77,301.86 172.47,307.13" fill="#efcebd" stroke="#efcebd"/>
<polygon points="298.34,381.19 293.67,379.83 292.97,381.78 297.65,383.13" fill="#5470de" stroke="#5470de"/>
<polygon points="303.01,382.48 298.34,381.19 297.65,383.13 302.33,384.41" fill="#516ddb" stroke="#516ddb"/>
<polygon points="345.77,390.16 341.08,389.25 340.48,391.11 345.18,392.01" fill="#4257c9" stroke="#4257c9"/>
<polygon points="191.2,325.55 186.53,321.31 185.61,323.92 190.3,328.1" fill="#cedaeb" stroke="#cedaeb"/>
<polygon points="307.68,383.72 303.01,382.48 302.33,384.41 307.01,385.64" fill="#4f69d9" stroke="#4f69d9"/>
<polygon points="147.08,260.72 142.34,253.03 141.35,256.46 146.1,264.04" fill="#df634e" stroke="#df634e"/>
<polygon points="168.72,299 164.02,293.35 163.07,296.29 167.77,301.86" fill="#f4c6af" stroke="#f4c6af"/>
<polygon points="186.53,321.31 181.85,316.84 180.93,319.5 185.61,323.92" fill="#d6dce4" stroke="#d6dce4"/>
<polygon points="312.36,384.91 307.68,383.72 307.01,385.64 311.7,386.82" fill="#4c66d6" stroke="#4c66d6"/>
<polygon points="155.56,277.97 150.84,271.2 149.86,274.4 154.6,281.08" fill="#f39778" stroke="#f39778"/>
<polygon points="241.63,362.12 236.97,359.76 236.15,361.94 240.82,364.27" fill="#7ea1fa" stroke="#7ea1fa"/>
<polygon points="236.97,359.76 232.3,357.28 231.48,359.48 236.15,361.94" fill="#84a7fc" stroke="#84a7fc"/>
<polygon points="246.29,364.37 241.63,362.12 240.82,364.27 245.49,366.49" fill="#7a9df8" stroke="#7a9df8"/>
<polygon points="232.3,357.28 227.64,354.67 226.81,356.9 231.48,359.48" fill="#8badfd" stroke="#8badfd"/>
<polygon points="250.95,366.51 246.29,364.37 245.49,366.49 250.16,368.61" fill="#7597f6" stroke="#7597f6"/>
<polygon points="227.64,354.67 222.98,351.92 222.13,354.18 226.81,356.9" fill="#90b2fe" stroke="#90b2fe"/>
<polygon points="317.04,386.05 312.36,384.91 311.7,386.82 316.39,387.95" fill="#4b64d5" stroke="#4b64d5"/>
<polygon points="255.61,368.54 250.95,366.51 250.16,368.61 254.83,370.63" fill="#7093f3" stroke="#7093f3"/>
<polygon points="222.98,351.92 218.32,349.03 217.46,351.32 222.13,354.18" fill="#97b8ff" stroke="#97b8ff"/>
<polygon points="260.28,370.48 255.61,368.54 254.83,370.63 259.51,372.55" fill="#6c8ff1" stroke="#6c8ff1"/>
<polygon points="181.85,316.84 177.17,312.12 176.23,314.84 180.93,319.5" fill="#dedcdb" stroke="#dedcdb"/>
<polygon points="218.32,349.03 213.65,345.98 212.79,348.31 217.46,351.32" fill="#9ebeff" stroke="#9ebeff"/>
<polygon points="264.94,372.33 260.28,370.48 259.51,372.55 264.18,374.38" fill="#688aef" stroke="#688aef"/>
<polygon points="321.72,387.14 317.04,386.05 316.39,387.95 321.08,389.03" fill="#4961d2" stroke="#4961d2"/>
<polygon points="164.02,293.35 159.31,287.39 158.35,290.4 163.07,296.29" fill="#f7ba9f" stroke="#f7ba9f"/>
<polygon points="213.65,345.98 208.99,342.77 208.11,345.14 212.79,348.31" fill="#a5c3fe" stroke="#a5c3fe"/>
<polygon points="269.61,374.09 264.94,372.33 264.18,374.38 268.86,376.12" fill="#6485ec" stroke="#6485ec"/>
<polygon points="208.99,342.77 204.32,339.39 203.44,341.8 208.11,345.14" fill="#abc8fd" stroke="#abc8fd"/>
<polygon points="274.28,375.78 269.61,374.09 268.86,376.12 273.54,377.79" fill="#6180e9" stroke="#6180e9"/>
<polygon points="326.41,388.19 321.72,387.14 321.08,389.03 325.78,390.08" fill="#485fd1" stroke="#485fd1"/>
<polygon points="177.17,312.12 172.47,307.13 171.53,309.92 176.23,314.84" fill="#e6d7cf" stroke="#e6d7cf"/>
<polygon points="150.84,271.2 146.1,264.04 145.12,267.34 149.86,274.4" fill="#ed8366" stroke="#ed8366"/>
<polygon points="278.95,377.38 274.28,375.78 273.54,377.79 278.22,379.38" fill="#5e7de7" stroke="#5e7de7"/>
<polygon points="204.32,339.39 199.65,335.83 198.76,338.28 203.44,341.8" fill="#b3cdfb" stroke="#b3cdfb"/>
<polygon points="331.1,389.2 326.41,388.19 325.78,390.08 330.48,391.08" fill="#465ecf" stroke="#465ecf"/>
<polygon points="283.62,378.92 278.95,377.38 278.22,379.38 282.9,380.9" fill="#5b7ae5" stroke="#5b7ae5"/>
<polygon points="199.65,335.83 194.97,332.07 194.07,334.57 198.76,338.28" fill="#bbd1f8" stroke="#bbd1f8"/>
<polygon points="288.29,380.38 283.62,378.92 282.9,380.9 287.58,382.35" fill="#5875e1" stroke="#5875e1"/>
<polygon points="159.31,287.39 154.6,281.08 153.62,284.18 158.35,290.4" fill="#f7ac8e" stroke="#f7ac8e"/>
<polygon points="335.79,390.17 331.1,389.2 330.48,391.08 335.18,392.04" fill="#445acc" stroke="#445acc"/>
<polygon points="172.47,307.13 167.77,301.86 166.82,304.71 171.53,309.92" fill="#edd1c2" stroke="#edd1c2"/>
<polygon points="292.97,381.78 288.29,380.38 287.58,382.35 292.27,383.74" fill="#5572df" stroke="#5572df"/>
<polygon points="194.97,332.07 190.3,328.1 189.38,330.65 194.07,334.57" fill="#c4d5f3" stroke="#c4d5f3"/>
<polygon points="340.48,391.11 335.79,390.17 335.18,392.04 339.88,392.97" fill="#4358cb" stroke="#4358cb"/>
<polygon points="297.65,383.13 292.97,381.78 292.27,383.74 296.96,385.07" fill="#536edd" stroke="#536edd"/>
<polygon points="190.3,328.1 185.61,323.92 184.69,326.52 189.38,330.65" fill="#ccd9ed" stroke="#ccd9ed"/>
<polygon points="146.1,264.04 141.35,256.46 140.36,259.86 145.12,267.34" fill="#e36b54" stroke="#e36b54"/>
<polygon points="302.33,384.41 297.65,383.13 296.96,385.07 301.65,386.34" fill="#506bda" stroke="#506bda"/>
<polygon points="345.18,392.01 340.48,391.11 339.88,392.97 344.59,393.86" fill="#4257c9" stroke="#4257c9"/>
<polygon points="167.77,301.86 163.07,296.29 162.11,299.22 166.82,304.71" fill="#f3c8b2" stroke="#f3c8b2"/>
<polygon points="154.6,281.08 149.86,274.4 148.88,277.59 153.62,284.18" fill="#f59c7d" stroke="#f59c7d"/>
<polygon points="307.01,385.64 302.33,384.41 301.65,386.34 306.34,387.56" fill="#4f69d9" stroke="#4f69d9"/>
<polygon points="185.61,323.92 180.93,319.5 180,322.16 184.69,326.52" fill="#d4dbe6" stroke="#d4dbe6"/>
<polygon points="311.7,386.82 307.01,385.64 306.34,387.56 311.04,388.73" fill="#4c66d6" stroke="#4c66d6"/>
<polygon points="236.15,361.94 231.48,359.48 230.65,361.69 235.33,364.11" fill="#82a6fb" stroke="#82a6fb"/>
<polygon points="240.82,364.27 236.15,361.94 235.33,364.11 240.01,366.42" fill="#7ea1fa" stroke="#7ea1fa"/>
<polygon points="231.48,359.48 226.81,356.9 225.97,359.13 230.65,361.69" fill="#88abfd" stroke="#88abfd"/>
<polygon points="245.49,366.49 240.82,364.27 240.01,366.42 244.69,368.62" fill="#799cf8" stroke="#799cf8"/>
<polygon points="226.81,356.9 222.13,354.18 221.29,356.45 225.97,359.13" fill="#8fb1fe" stroke="#8fb1fe"/>
<polygon points="250.16,368.61 245.49,366.49 244.69,368.62 249.37,370.72" fill="#7396f5" stroke="#7396f5"/>
<polygon points="222.13,354.18 217.46,351.32 216.6,353.62 221.29,356.45" fill="#94b6ff" stroke="#94b6ff"/>
<polygon points="180.93,319.5 176.23,314.84 175.29,317.55 180,322.16" fill="#dcdddd" stroke="#dcdddd"/>
<polygon points="316.39,387.95 311.7,386.82 311.04,388.73 315.74,389.85" fill="#4a63d3" stroke="#4a63d3"/>
<polygon points="254.83,370.63 250.16,368.61 249.37,370.72 254.05,372.71" fill="#6f92f3" stroke="#6f92f3"/>
<polygon points="163.07,296.29 158.35,290.4 157.38,293.41 162.11,299.22" fill="#f6bea4" stroke="#f6bea4"/>
<polygon points="217.46,351.32 212.79,348.31 211.92,350.65 216.6,353.62" fill="#9bbcff" stroke="#9bbcff"/>
<polygon points="259.51,372.55 254.83,370.63 254.05,372.71 258.73,374.61" fill="#6b8df0" stroke="#6b8df0"/>
<polygon points="264.18,374.38 259.51,372.55 258.73,374.61 263.42,376.42" fill="#6788ee" stroke="#6788ee"/>
<polygon points="212.79,348.31 208.11,345.14 207.24,347.51 211.92,350.65" fill="#a2c1ff" stroke="#a2c1ff"/>
<polygon points="321.08,389.03 316.39,387.95 315.74,389.85 320.44,390.93" fill="#4961d2" stroke="#4961d2"/>
<polygon points="268.86,376.12 264.18,374.38 263.42,376.42 268.1,378.15" fill="#6384eb" stroke="#6384eb"/>
<polygon points="149.86,274.4 145.12,267.34 144.13,270.62 148.88,277.59" fill="#ef886b" stroke="#ef886b"/>
<polygon points="208.11,345.14 203.44,341.8 202.55,344.21 207.24,347.51" fill="#aac7fd" stroke="#aac7fd"/>
<polygon points="176.23,314.84 171.53,309.92 170.59,312.69 175.29,317.55" fill="#e4d9d2" stroke="#e4d9d2"/>
<polygon points="273.54,377.79 268.86,376.12 268.1,378.15 272.79,379.8" fill="#6180e9" stroke="#6180e9"/>
<polygon points="325.78,390.08 321.08,389.03 320.44,390.93 325.14,391.96" fill="#485fd1" stroke="#485fd1"/>
<polygon points="203.44,341.8 198.76,338.28 197.86,340.73 202.55,344.21" fill="#b2ccfb" stroke="#b2ccfb"/>
<polygon points="278.22,379.38 273.54,377.79 272.79,379.8 277.48,381.38" fill="#5d7ce6" stroke="#5d7ce6"/>
<polygon points="158.35,290.4 153.62,284.18 152.65,287.26 157.38,293.41" fill="#f7b093" stroke="#f7b093"/>
<polygon points="282.9,380.9 278.22,379.38 277.48,381.38 282.17,382.88" fill="#5a78e4" stroke="#5a78e4"/>
<polygon points="198.76,338.28 194.07,334.57 193.17,337.06 197.86,340.73" fill="#bad0f8" stroke="#bad0f8"/>
<polygon points="330.48,391.08 325.78,390.08 325.14,391.96 329.85,392.96" fill="#455cce" stroke="#455cce"/>
<polygon points="171.53,309.92 166.82,304.71 165.87,307.56 170.59,312.69" fill="#ecd3c5" stroke="#ecd3c5"/>
<polygon points="287.58,382.35 282.9,380.9 282.17,382.88 286.87,384.32" fill="#5875e1" stroke="#5875e1"/>
<polygon points="194.07,334.57 189.38,330.65 188.47,333.19 193.17,337.06" fill="#c1d4f4" stroke="#c1d4f4"/>
<polygon points="335.18,392.04 330.48,391.08 329.85,392.96 334.56,393.92" fill="#445acc" stroke="#445acc"/>
<polygon points="292.27,383.74 287.58,382.35 286.87,384.32 291.56,385.7" fill="#5572df" stroke="#5572df"/>
<polygon points="145.12,267.34 140.36,259.86 139.37,263.25 144.13,270.62" fill="#e57058" stroke="#e57058"/>
<polygon points="339.88,392.97 335.18,392.04 334.56,393.92 339.28,394.84" fill="#4358cb" stroke="#4358cb"/>
<polygon points="189.38,330.65 184.69,326.52 183.77,329.11 188.47,333.19" fill="#cad8ef" stroke="#cad8ef"/>
<polygon points="296.96,385.07 292.27,383.74 291.56,385.7 296.26,387.02" fill="#536edd" stroke="#536edd"/>
<polygon points="166.82,304.71 162.11,299.22 161.14,302.13 165.87,307.56" fill="#f2cbb7" stroke="#f2cbb7"/>
<polygon points="153.62,284.18 148.88,277.59 147.9,280.76 152.65,287.26" fill="#f5a081" stroke="#f5a081"/>
<polygon points="301.65,386.34 296.96,385.07 296.26,387.02 300.96,388.28" fill="#506bda" stroke="#506bda"/>
<polygon points="344.59,393.86 339.88,392.97 339.28,394.84 344,395.72" fill="#4257c9" stroke="#4257c9"/>
<polygon points="184.69,326.52 180,322.16 179.06,324.81 183.77,329.11" fill="#d2dbe8" stroke="#d2dbe8"/>
<polygon points="306.34,387.56 301.65,386.34 300.96,388.28 305.67,389.49" fill="#4e68d8" stroke="#4e68d8"/>
<polygon points="311.04,388.73 306.34,387.56 305.67,389.49 310.37,390.65" fill="#4c66d6" stroke="#4c66d6"/>
<polygon points="235.33,364.11 230.65,361.69 229.81,363.89 234.5,366.29" fill="#81a4fb" stroke="#81a4fb"/>
<polygon points="240.01,366.42 235.33,364.11 234.5,366.29 239.19,368.58" fill="#7da0f9" stroke="#7da0f9"/>
<polygon points="230.65,361.69 225.97,359.13 225.12,361.37 229.81,363.89" fill="#86a9fc" stroke="#86a9fc"/>
<polygon points="180,322.16 175.29,317.55 174.35,320.26 179.06,324.81" fill="#dadce0" stroke="#dadce0"/>
<polygon points="162.11,299.22 157.38,293.41 156.41,296.4 161.14,302.13" fill="#f5c0a7" stroke="#f5c0a7"/>
<polygon points="244.69,368.62 240.01,366.42 239.19,368.58 243.88,370.75" fill="#779af7" stroke="#779af7"/>
<polygon points="225.97,359.13 221.29,356.45 220.43,358.71 225.12,361.37" fill="#8db0fe" stroke="#8db0fe"/>
<polygon points="249.37,370.72 244.69,368.62 243.88,370.75 248.57,372.83" fill="#7396f5" stroke="#7396f5"/>
<polygon points="221.29,356.45 216.6,353.62 215.74,355.92 220.43,358.71" fill="#93b5fe" stroke="#93b5fe"/>
<polygon points="254.05,372.71 249.37,370.72 248.57,372.83 253.26,374.8" fill="#6e90f2" stroke="#6e90f2"/>
<polygon points="216.6,353.62 211.92,350.65 211.05,352.98 215.74,355.92" fill="#9abbff" stroke="#9abbff"/>
<polygon points="315.74,389.85 311.04,388.73 310.37,390.65 315.08,391.76" fill="#4a63d3" stroke="#4a63d3"/>
<polygon points="148.88,277.59 144.13,270.62 143.14,273.89 147.9,280.76" fill="#f18d6f" stroke="#f18d6f"/>
<polygon points="258.73,374.61 254.05,372.71 253.26,374.8 257.96,376.68" fill="#6a8bef" stroke="#6a8bef"/>
<polygon points="211.92,350.65 207.24,347.51 206.35,349.88 211.05,352.98" fill="#a1c0ff" stroke="#a1c0ff"/>
<polygon points="263.42,376.42 258.73,374.61 257.96,376.68 262.65,378.47" fill="#6788ee" stroke="#6788ee"/>
<polygon points="175.29,317.55 170.59,312.69 169.63,315.46 174.35,320.26" fill="#e2dad5" stroke="#e2dad5"/>
<polygon points="207.24,347.51 202.55,344.21 201.66,346.62 206.35,349.88" fill="#a7c5fe" stroke="#a7c5fe"/>
<polygon points="320.44,390.93 315.74,389.85 315.08,391.76 319.79,392.83" fill="#4961d2" stroke="#4961d2"/>
<polygon points="268.1,378.15 263.42,376.42 262.65,378.47 267.35,380.19" fill="#6384eb" stroke="#6384eb"/>
<polygon points="272.79,379.8 268.1,378.15 267.35,380.19 272.05,381.82" fill="#5f7fe8" stroke="#5f7fe8"/>
<polygon points="202.55,344.21 197.86,340.73 196.96,343.18 201.66,346.62" fill="#afcafc" stroke="#afcafc"/>
<polygon points="157.38,293.41 152.65,287.26 151.67,290.34 156.41,296.4" fill="#f7b497" stroke="#f7b497"/>
<polygon points="325.14,391.96 320.44,390.93 319.79,392.83 324.51,393.86" fill="#465ecf" stroke="#465ecf"/>
<polygon points="277.48,381.38 272.79,379.8 272.05,381.82 276.75,383.38" fill="#5d7ce6" stroke="#5d7ce6"/>
<polygon points="197.86,340.73 193.17,337.06 192.26,339.56 196.96,343.18" fill="#b7cff9" stroke="#b7cff9"/>
<polygon points="170.59,312.69 165.87,307.56 164.91,310.4 169.63,315.46" fill="#ead4c8" stroke="#ead4c8"/>
<polygon points="282.17,382.88 277.48,381.38 276.75,383.38 281.45,384.87" fill="#5a78e4" stroke="#5a78e4"/>
<polygon points="329.85,392.96 325.14,391.96 324.51,393.86 329.23,394.85" fill="#455cce" stroke="#455cce"/>
<polygon points="193.17,337.06 188.47,333.19 187.55,335.73 192.26,339.56" fill="#bfd3f6" stroke="#bfd3f6"/>
<polygon points="144.13,270.62 139.37,263.25 138.37,266.62 143.14,273.89" fill="#e9785d" stroke="#e9785d"/>
<polygon points="286.87,384.32 282.17,382.88 281.45,384.87 286.15,386.3" fill="#5673e0" stroke="#5673e0"/>
<polygon points="334.56,393.92 329.85,392.96 329.23,394.85 333.95,395.8" fill="#445acc" stroke="#445acc"/>
<polygon points="291.56,385.7 286.87,384.32 286.15,386.3 290.86,387.66" fill="#5470de" stroke="#5470de"/>
<polygon points="188.47,333.19 183.77,329.11 182.84,331.7 187.55,335.73" fill="#c7d7f0" stroke="#c7d7f0"/>
<polygon points="152.65,287.26 147.9,280.76 146.91,283.93 151.67,290.34" fill="#f6a586" stroke="#f6a586"/>
<polygon points="165.87,307.56 161.14,302.13 160.18,305.04 164.91,310.4" fill="#f1cdba" stroke="#f1cdba"/>
<polygon points="296.26,387.02 291.56,385.7 290.86,387.66 295.56,388.97" fill="#516ddb" stroke="#516ddb"/>
<polygon points="339.28,394.84 334.56,393.92 333.95,395.8 338.67,396.71" fill="#4358cb" stroke="#4358cb"/>
<polygon points="183.77,329.11 179.06,324.81 178.13,327.45 182.84,331.7" fill="#cfdaea" stroke="#cfdaea"/>
<polygon points="300.96,388.28 296.26,387.02 295.56,388.97 300.28,390.22" fill="#506bda" stroke="#506bda"/>
<polygon points="344,395.72 339.28,394.84 338.67,396.71 343.4,397.59" fill="#4055c8" stroke="#4055c8"/>
<polygon points="305.67,389.49 300.96,388.28 300.28,390.22 304.99,391.42" fill="#4e68d8" stroke="#4e68d8"/>
<polygon points="161.14,302.13 156.41,296.4 155.44,299.38 160.18,305.04" fill="#f5c4ac" stroke="#f5c4ac"/>
<polygon points="179.06,324.81 174.35,320.26 173.41,322.96 178.13,327.45" fill="#d8dce2" stroke="#d8dce2"/>
<polygon points="234.5,366.29 229.81,363.89 228.97,366.1 233.67,368.47" fill="#80a3fa" stroke="#80a3fa"/>
<polygon points="229.81,363.89 225.12,361.37 224.27,363.6 228.97,366.1" fill="#85a8fc" stroke="#85a8fc"/>
<polygon points="147.9,280.76 143.14,273.89 142.15,277.15 146.91,283.93" fill="#f29274" stroke="#f29274"/>
<polygon points="239.19,368.58 234.5,366.29 233.67,368.47 238.37,370.73" fill="#7b9ff9" stroke="#7b9ff9"/>
<polygon points="310.37,390.65 305.67,389.49 304.99,391.42 309.71,392.57" fill="#4b64d5" stroke="#4b64d5"/>
<polygon points="225.12,361.37 220.43,358.71 219.57,360.98 224.27,363.6" fill="#8caffe" stroke="#8caffe"/>
<polygon points="243.88,370.75 239.19,368.58 238.37,370.73 243.07,372.89" fill="#7699f6" stroke="#7699f6"/>
<polygon points="220.43,358.71 215.74,355.92 214.87,358.21 219.57,360.98" fill="#92b4fe" stroke="#92b4fe"/>
<polygon points="248.57,372.83 243.88,370.75 243.07,372.89 247.77,374.94" fill="#7295f4" stroke="#7295f4"/>
<polygon points="215.74,355.92 211.05,352.98 210.17,355.31 214.87,358.21" fill="#98b9ff" stroke="#98b9ff"/>
<polygon points="253.26,374.8 248.57,372.83 247.77,374.94 252.48,376.89" fill="#6e90f2" stroke="#6e90f2"/>
<polygon points="315.08,391.76 310.37,390.65 309.71,392.57 314.42,393.68" fill="#4a63d3" stroke="#4a63d3"/>
<polygon points="211.05,352.98 206.35,349.88 205.47,352.25 210.17,355.31" fill="#9fbfff" stroke="#9fbfff"/>
<polygon points="257.96,376.68 253.26,374.8 252.48,376.89 257.18,378.75" fill="#6a8bef" stroke="#6a8bef"/>
<polygon points="174.35,320.26 169.63,315.46 168.68,318.23 173.41,322.96" fill="#e0dbd8" stroke="#e0dbd8"/>
<polygon points="262.65,378.47 257.96,376.68 257.18,378.75 261.88,380.53" fill="#6687ed" stroke="#6687ed"/>
<polygon points="206.35,349.88 201.66,346.62 200.76,349.02 205.47,352.25" fill="#a6c4fe" stroke="#a6c4fe"/>
<polygon points="156.41,296.4 151.67,290.34 150.68,293.4 155.44,299.38" fill="#f7b89c" stroke="#f7b89c"/>
<polygon points="267.35,380.19 262.65,378.47 261.88,380.53 266.59,382.22" fill="#6282ea" stroke="#6282ea"/>
<polygon points="319.79,392.83 315.08,391.76 314.42,393.68 319.15,394.74" fill="#485fd1" stroke="#485fd1"/>
<polygon points="201.66,346.62 196.96,343.18 196.06,345.63 200.76,349.02" fill="#aec9fc" stroke="#aec9fc"/>
<polygon points="272.05,381.82 267.35,380.19 266.59,382.22 271.3,383.84" fill="#5f7fe8" stroke="#5f7fe8"/>
<polygon points="324.51,393.86 319.79,392.83 319.15,394.74 323.87,395.76" fill="#465ecf" stroke="#465ecf"/>
<polygon points="169.63,315.46 164.91,310.4 163.95,313.22 168.68,318.23" fill="#e8d6cc" stroke="#e8d6cc"/>
<polygon points="196.96,343.18 192.26,339.56 191.34,342.05 196.06,345.63" fill="#b6cefa" stroke="#b6cefa"/>
<polygon points="276.75,383.38 272.05,381.82 271.3,383.84 276,385.39" fill="#5b7ae5" stroke="#5b7ae5"/>
<polygon points="143.14,273.89 138.37,266.62 137.36,269.97 142.15,277.15" fill="#eb7d62" stroke="#eb7d62"/>
<polygon points="281.45,384.87 276.75,383.38 276,385.39 280.72,386.87" fill="#5977e3" stroke="#5977e3"/>
<polygon points="192.26,339.56 187.55,335.73 186.63,338.27 191.34,342.05" fill="#bed2f6" stroke="#bed2f6"/>
<polygon points="329.23,394.85 324.51,393.86 323.87,395.76 328.6,396.74" fill="#455cce" stroke="#455cce"/>
<polygon points="286.15,386.3 281.45,384.87 280.72,386.87 285.43,388.28" fill="#5673e0" stroke="#5673e0"/>
<polygon points="151.67,290.34 146.91,283.93 145.92,287.08 150.68,293.4" fill="#f7a98b" stroke="#f7a98b"/>
<polygon points="164.91,310.4 160.18,305.04 159.21,307.94 163.95,313.22" fill="#efcfbf" stroke="#efcfbf"/>
<polygon points="187.55,335.73 182.84,331.7 181.91,334.29 186.63,338.27" fill="#c5d6f2" stroke="#c5d6f2"/>
<polygon points="333.95,395.8 329.23,394.85 328.6,396.74 333.33,397.68" fill="#4358cb" stroke="#4358cb"/>
<polygon points="290.86,387.66 286.15,386.3 285.43,388.28 290.15,389.63" fill="#5470de" stroke="#5470de"/>
<polygon points="295.56,388.97 290.86,387.66 290.15,389.63 294.86,390.93" fill="#516ddb" stroke="#516ddb"/>
<polygon points="338.67,396.71 333.95,395.8 333.33,397.68 338.06,398.59" fill="#4257c9" stroke="#4257c9"/>
<polygon points="182.84,331.7 178.13,327.45 177.19,330.09 181.91,334.29" fill="#cdd9ec" stroke="#cdd9ec"/>
<polygon points="300.28,390.22 295.56,388.97 294.86,390.93 299.58,392.17" fill="#4f69d9" stroke="#4f69d9"/>
<polygon points="160.18,305.04 155.44,299.38 154.46,302.35 159.21,307.94" fill="#f4c6af" stroke="#f4c6af"/>
<polygon points="343.4,397.59 338.67,396.71 338.06,398.59 342.8,399.47" fill="#4055c8" stroke="#4055c8"/>
<polygon points="146.91,283.93 142.15,277.15 141.15,280.39 145.92,287.08" fill="#f39778" stroke="#f39778"/>
<polygon points="178.13,327.45 173.41,322.96 172.46,325.66 177.19,330.09" fill="#d6dce4" stroke="#d6dce4"/>
<polygon points="304.99,391.42 300.28,390.22 299.58,392.17 304.31,393.36" fill="#4e68d8" stroke="#4e68d8"/>
<polygon points="228.97,366.1 224.27,363.6 223.42,365.84 228.13,368.31" fill="#84a7fc" stroke="#84a7fc"/>
<polygon points="233.67,368.47 228.97,366.1 228.13,368.31 232.84,370.66" fill="#80a3fa" stroke="#80a3fa"/>
<polygon points="224.27,363.6 219.57,360.98 218.71,363.24 223.42,365.84" fill="#8badfd" stroke="#8badfd"/>
<polygon points="238.37,370.73 233.67,368.47 232.84,370.66 237.55,372.89" fill="#7a9df8" stroke="#7a9df8"/>
<polygon points="243.07,372.89 238.37,370.73 237.55,372.89 242.26,375.02" fill="#7597f6" stroke="#7597f6"/>
<polygon points="219.57,360.98 214.87,358.21 214,360.51 218.71,363.24" fill="#90b2fe" stroke="#90b2fe"/>
<polygon points="309.71,392.57 304.99,391.42 304.31,393.36 309.03,394.5" fill="#4b64d5" stroke="#4b64d5"/>
<polygon points="247.77,374.94 243.07,372.89 242.26,375.02 246.97,377.05" fill="#7093f3" stroke="#7093f3"/>
<polygon points="214.87,358.21 210.17,355.31 209.29,357.64 214,360.51" fill="#97b8ff" stroke="#97b8ff"/>
<polygon points="252.48,376.89 247.77,374.94 246.97,377.05 251.68,378.98" fill="#6c8ff1" stroke="#6c8ff1"/>
<polygon points="173.41,322.96 168.68,318.23 167.72,320.98 172.46,325.66" fill="#dedcdb" stroke="#dedcdb"/>
<polygon points="210.17,355.31 205.47,352.25 204.58,354.61 209.29,357.64" fill="#9dbdff" stroke="#9dbdff"/>
<polygon points="257.18,378.75 252.48,376.89 251.68,378.98 256.4,380.83" fill="#688aef" stroke="#688aef"/>
<polygon points="155.44,299.38 150.68,293.4 149.7,296.45 154.46,302.35" fill="#f7ba9f" stroke="#f7ba9f"/>
<polygon points="314.42,393.68 309.71,392.57 309.03,394.5 313.76,395.6" fill="#4961d2" stroke="#4961d2"/>
<polygon points="205.47,352.25 200.76,349.02 199.87,351.43 204.58,354.61" fill="#a5c3fe" stroke="#a5c3fe"/>
<polygon points="261.88,380.53 257.18,378.75 256.4,380.83 261.11,382.59" fill="#6485ec" stroke="#6485ec"/>
<polygon points="200.76,349.02 196.06,345.63 195.15,348.07 199.87,351.43" fill="#abc8fd" stroke="#abc8fd"/>
<polygon points="266.59,382.22 261.88,380.53 261.11,382.59 265.82,384.27" fill="#6282ea" stroke="#6282ea"/>
<polygon points="319.15,394.74 314.42,393.68 313.76,395.6 318.5,396.65" fill="#485fd1" stroke="#485fd1"/>
<polygon points="142.15,277.15 137.36,269.97 136.36,273.31 141.15,280.39" fill="#ed8366" stroke="#ed8366"/>
<polygon points="168.68,318.23 163.95,313.22 162.98,316.04 167.72,320.98" fill="#e6d7cf" stroke="#e6d7cf"/>
<polygon points="271.3,383.84 266.59,382.22 265.82,384.27 270.54,385.87" fill="#5e7de7" stroke="#5e7de7"/>
<polygon points="196.06,345.63 191.34,342.05 190.43,344.53 195.15,348.07" fill="#b3cdfb" stroke="#b3cdfb"/>
<polygon points="323.87,395.76 319.15,394.74 318.5,396.65 323.23,397.66" fill="#465ecf" stroke="#465ecf"/>
<polygon points="276,385.39 271.3,383.84 270.54,385.87 275.26,387.4" fill="#5b7ae5" stroke="#5b7ae5"/>
<polygon points="191.34,342.05 186.63,338.27 185.7,340.8 190.43,344.53" fill="#bbd1f8" stroke="#bbd1f8"/>
<polygon points="150.68,293.4 145.92,287.08 144.92,290.21 149.7,296.45" fill="#f7ad90" stroke="#f7ad90"/>
<polygon points="280.72,386.87 276,385.39 275.26,387.4 279.98,388.87" fill="#5977e3" stroke="#5977e3"/>
<polygon points="328.6,396.74 323.87,395.76 323.23,397.66 327.97,398.64" fill="#445acc" stroke="#445acc"/>
<polygon points="163.95,313.22 159.21,307.94 158.23,310.83 162.98,316.04" fill="#edd1c2" stroke="#edd1c2"/>
<polygon points="285.43,388.28 280.72,386.87 279.98,388.87 284.71,390.27" fill="#5572df" stroke="#5572df"/>
<polygon points="186.63,338.27 181.91,334.29 180.98,336.87 185.7,340.8" fill="#c4d5f3" stroke="#c4d5f3"/>
<polygon points="333.33,397.68 328.6,396.74 327.97,398.64 332.71,399.58" fill="#4358cb" stroke="#4358cb"/>
<polygon points="290.15,389.63 285.43,388.28 284.71,390.27 289.43,391.61" fill="#536edd" stroke="#536edd"/>
<polygon points="181.91,334.29 177.19,330.09 176.24,332.73 180.98,336.87" fill="#ccd9ed" stroke="#ccd9ed"/>
<polygon points="294.86,390.93 290.15,389.63 289.43,391.61 294.16,392.89" fill="#516ddb" stroke="#516ddb"/>
<polygon points="338.06,398.59 333.33,397.68 332.71,399.58 337.45,400.48" fill="#4257c9" stroke="#4257c9"/>
<polygon points="159.21,307.94 154.46,302.35 153.47,305.32 158.23,310.83" fill="#f2c9b4" stroke="#f2c9b4"/>
<polygon points="145.92,287.08 141.15,280.39 140.14,283.61 144.92,290.21" fill="#f59c7d" stroke="#f59c7d"/>
<polygon points="299.58,392.17 294.86,390.93 294.16,392.89 298.89,394.12" fill="#4f69d9" stroke="#4f69d9"/>
<polygon points="177.19,330.09 172.46,325.66 171.51,328.35 176.24,332.73" fill="#d4dbe6" stroke="#d4dbe6"/>
<polygon points="342.8,399.47 338.06,398.59 337.45,400.48 342.2,401.35" fill="#4055c8" stroke="#4055c8"/>
<polygon points="304.31,393.36 299.58,392.17 298.89,394.12 303.62,395.3" fill="#4c66d6" stroke="#4c66d6"/>
<polygon points="228.13,368.31 223.42,365.84 222.57,368.08 227.29,370.52" fill="#82a6fb" stroke="#82a6fb"/>
<polygon points="232.84,370.66 228.13,368.31 227.29,370.52 232.01,372.84" fill="#7ea1fa" stroke="#7ea1fa"/>
<polygon points="223.42,365.84 218.71,363.24 217.85,365.51 222.57,368.08" fill="#89acfd" stroke="#89acfd"/>
<polygon points="237.55,372.89 232.84,370.66 232.01,372.84 236.73,375.05" fill="#799cf8" stroke="#799cf8"/>
<polygon points="218.71,363.24 214,360.51 213.13,362.81 217.85,365.51" fill="#8fb1fe" stroke="#8fb1fe"/>
<polygon points="242.26,375.02 237.55,372.89 236.73,375.05 241.45,377.16" fill="#7396f5" stroke="#7396f5"/>
<polygon points="172.46,325.66 167.72,320.98 166.76,323.73 171.51,328.35" fill="#dcdddd" stroke="#dcdddd"/>
<polygon points="214,360.51 209.29,357.64 208.41,359.97 213.13,362.81" fill="#94b6ff" stroke="#94b6ff"/>
<polygon points="246.97,377.05 242.26,375.02 241.45,377.16 246.17,379.17" fill="#6f92f3" stroke="#6f92f3"/>
<polygon points="154.46,302.35 149.7,296.45 148.7,299.49 153.47,305.32" fill="#f6bea4" stroke="#f6bea4"/>
<polygon points="309.03,394.5 304.31,393.36 303.62,395.3 308.36,396.44" fill="#4b64d5" stroke="#4b64d5"/>
<polygon points="209.29,357.64 204.58,354.61 203.69,356.98 208.41,359.97" fill="#9bbcff" stroke="#9bbcff"/>
<polygon points="251.68,378.98 246.97,377.05 246.17,379.17 250.89,381.08" fill="#6b8df0" stroke="#6b8df0"/>
<polygon points="204.58,354.61 199.87,351.43 198.96,353.83 203.69,356.98" fill="#a2c1ff" stroke="#a2c1ff"/>
<polygon points="256.4,380.83 251.68,378.98 250.89,381.08 255.61,382.91" fill="#6788ee" stroke="#6788ee"/>
<polygon points="141.15,280.39 136.36,273.31 135.34,276.63 140.14,283.61" fill="#f08a6c" stroke="#f08a6c"/>
<polygon points="313.76,395.6 309.03,394.5 308.36,396.44 313.1,397.52" fill="#4961d2" stroke="#4961d2"/>
<polygon points="261.11,382.59 256.4,380.83 255.61,382.91 260.33,384.65" fill="#6485ec" stroke="#6485ec"/>
<polygon points="199.87,351.43 195.15,348.07 194.24,350.51 198.96,353.83" fill="#aac7fd" stroke="#aac7fd"/>
<polygon points="167.72,320.98 162.98,316.04 162.01,318.86 166.76,323.73" fill="#e4d9d2" stroke="#e4d9d2"/>
<polygon points="265.82,384.27 261.11,382.59 260.33,384.65 265.06,386.31" fill="#6180e9" stroke="#6180e9"/>
<polygon points="318.5,396.65 313.76,395.6 313.1,397.52 317.84,398.57" fill="#485fd1" stroke="#485fd1"/>
<polygon points="195.15,348.07 190.43,344.53 189.51,347.02 194.24,350.51" fill="#b1cbfc" stroke="#b1cbfc"/>
<polygon points="270.54,385.87 265.82,384.27 265.06,386.31 269.79,387.9" fill="#5d7ce6" stroke="#5d7ce6"/>
<polygon points="149.7,296.45 144.92,290.21 143.92,293.34 148.7,299.49" fill="#f7b194" stroke="#f7b194"/>
<polygon points="190.43,344.53 185.7,340.8 184.77,343.34 189.51,347.02" fill="#bad0f8" stroke="#bad0f8"/>
<polygon points="275.26,387.4 270.54,385.87 269.79,387.9 274.51,389.42" fill="#5a78e4" stroke="#5a78e4"/>
<polygon points="323.23,397.66 318.5,396.65 317.84,398.57 322.59,399.58" fill="#455cce" stroke="#455cce"/>
<polygon points="162.98,316.04 158.23,310.83 157.25,313.71 162.01,318.86" fill="#ebd3c6" stroke="#ebd3c6"/>
<polygon points="279.98,388.87 275.26,387.4 274.51,389.42 279.25,390.87" fill="#5875e1" stroke="#5875e1"/>
<polygon points="185.7,340.8 180.98,336.87 180.04,339.45 184.77,343.34" fill="#c1d4f4" stroke="#c1d4f4"/>
<polygon points="327.97,398.64 323.23,397.66 322.59,399.58 327.33,400.54" fill="#445acc" stroke="#445acc"/>
<polygon points="284.71,390.27 279.98,388.87 279.25,390.87 283.98,392.26" fill="#5572df" stroke="#5572df"/>
<polygon points="180.98,336.87 176.24,332.73 175.3,335.36 180.04,339.45" fill="#cad8ef" stroke="#cad8ef"/>
<polygon points="332.71,399.58 327.97,398.64 327.33,400.54 332.09,401.47" fill="#4358cb" stroke="#4358cb"/>
<polygon points="289.43,391.61 284.71,390.27 283.98,392.26 288.72,393.59" fill="#536edd" stroke="#536edd"/>
<polygon points="144.92,290.21 140.14,283.61 139.13,286.83 143.92,293.34" fill="#f5a081" stroke="#f5a081"/>
<polygon points="158.23,310.83 153.47,305.32 152.48,308.27 157.25,313.71" fill="#f2cbb7" stroke="#f2cbb7"/>
<polygon points="294.16,392.89 289.43,391.61 288.72,393.59 293.45,394.86" fill="#506bda" stroke="#506bda"/>
<polygon points="337.45,400.48 332.71,399.58 332.09,401.47 336.84,402.37" fill="#4257c9" stroke="#4257c9"/>
<polygon points="176.24,332.73 171.51,328.35 170.55,331.04 175.3,335.36" fill="#d2dbe8" stroke="#d2dbe8"/>
<polygon points="298.89,394.12 294.16,392.89 293.45,394.86 298.19,396.08" fill="#4e68d8" stroke="#4e68d8"/>
<polygon points="342.2,401.35 337.45,400.48 336.84,402.37 341.6,403.24" fill="#4055c8" stroke="#4055c8"/>
<polygon points="303.62,395.3 298.89,394.12 298.19,396.08 302.94,397.25" fill="#4c66d6" stroke="#4c66d6"/>
<polygon points="153.47,305.32 148.7,299.49 147.71,302.52 152.48,308.27" fill="#f5c1a9" stroke="#f5c1a9"/>
<polygon points="171.51,328.35 166.76,323.73 165.8,326.48 170.55,331.04" fill="#dadce0" stroke="#dadce0"/>
<polygon points="227.29,370.52 222.57,368.08 221.71,370.31 226.44,372.73" fill="#81a4fb" stroke="#81a4fb"/>
<polygon points="222.57,368.08 217.85,365.51 216.98,367.78 221.71,370.31" fill="#86a9fc" stroke="#86a9fc"/>
<polygon points="232.01,372.84 227.29,370.52 226.44,372.73 231.17,375.03" fill="#7da0f9" stroke="#7da0f9"/>
<polygon points="217.85,365.51 213.13,362.81 212.25,365.11 216.98,367.78" fill="#8db0fe" stroke="#8db0fe"/>
<polygon points="236.73,375.05 232.01,372.84 231.17,375.03 235.9,377.22" fill="#779af7" stroke="#779af7"/>
<polygon points="241.45,377.16 236.73,375.05 235.9,377.22 240.63,379.3" fill="#7396f5" stroke="#7396f5"/>
<polygon points="213.13,362.81 208.41,359.97 207.52,362.3 212.25,365.11" fill="#93b5fe" stroke="#93b5fe"/>
<polygon points="140.14,283.61 135.34,276.63 134.33,279.94 139.13,286.83" fill="#f18f71" stroke="#f18f71"/>
<polygon points="246.17,379.17 241.45,377.16 240.63,379.3 245.36,381.29" fill="#6e90f2" stroke="#6e90f2"/>
<polygon points="208.41,359.97 203.69,356.98 202.79,359.34 207.52,362.3" fill="#9abbff" stroke="#9abbff"/>
<polygon points="308.36,396.44 303.62,395.3 302.94,397.25 307.68,398.38" fill="#4a63d3" stroke="#4a63d3"/>
<polygon points="250.89,381.08 246.17,379.17 245.36,381.29 250.09,383.18" fill="#6a8bef" stroke="#6a8bef"/>
<polygon points="203.69,356.98 198.96,353.83 198.06,356.23 202.79,359.34" fill="#a1c0ff" stroke="#a1c0ff"/>
<polygon points="255.61,382.91 250.89,381.08 250.09,383.18 254.82,384.99" fill="#6788ee" stroke="#6788ee"/>
<polygon points="166.76,323.73 162.01,318.86 161.04,321.66 165.8,326.48" fill="#e2dad5" stroke="#e2dad5"/>
<polygon points="198.96,353.83 194.24,350.51 193.32,352.95 198.06,356.23" fill="#a7c5fe" stroke="#a7c5fe"/>
<polygon points="313.1,397.52 308.36,396.44 307.68,398.38 312.43,399.46" fill="#4961d2" stroke="#4961d2"/>
<polygon points="260.33,384.65 255.61,382.91 254.82,384.99 259.55,386.72" fill="#6384eb" stroke="#6384eb"/>
<polygon points="194.24,350.51 189.51,347.02 188.58,349.5 193.32,352.95" fill="#afcafc" stroke="#afcafc"/>
<polygon points="148.7,299.49 143.92,293.34 142.92,296.45 147.71,302.52" fill="#f7b497" stroke="#f7b497"/>
<polygon points="265.06,386.31 260.33,384.65 259.55,386.72 264.29,388.36" fill="#5f7fe8" stroke="#5f7fe8"/>
<polygon points="317.84,398.57 313.1,397.52 312.43,399.46 317.19,400.5" fill="#465ecf" stroke="#465ecf"/>
<polygon points="269.79,387.9 265.06,386.31 264.29,388.36 269.03,389.94" fill="#5d7ce6" stroke="#5d7ce6"/>
<polygon points="189.51,347.02 184.77,343.34 183.84,345.86 188.58,349.5" fill="#b7cff9" stroke="#b7cff9"/>
<polygon points="162.01,318.86 157.25,313.71 156.27,316.58 161.04,321.66" fill="#ead5c9" stroke="#ead5c9"/>
<polygon points="274.51,389.42 269.79,387.9 269.03,389.94 273.77,391.44" fill="#5a78e4" stroke="#5a78e4"/>
<polygon points="322.59,399.58 317.84,398.57 317.19,400.5 321.94,401.49" fill="#455cce" stroke="#455cce"/>
<polygon points="184.77,343.34 180.04,339.45 179.09,342.03 183.84,345.86" fill="#bfd3f6" stroke="#bfd3f6"/>
<polygon points="279.25,390.87 274.51,389.42 273.77,391.44 278.51,392.88" fill="#5673e0" stroke="#5673e0"/>
<polygon points="327.33,400.54 322.59,399.58 321.94,401.49 326.7,402.45" fill="#445acc" stroke="#445acc"/>
<polygon points="283.98,392.26 279.25,390.87 278.51,392.88 283.25,394.25" fill="#5470de" stroke="#5470de"/>
<polygon points="143.92,293.34 139.13,286.83 138.12,290.02 142.92,296.45" fill="#f6a586" stroke="#f6a586"/>
<polygon points="180.04,339.45 175.3,335.36 174.34,337.98 179.09,342.03" fill="#c7d7f0" stroke="#c7d7f0"/>
<polygon points="157.25,313.71 152.48,308.27 151.49,311.21 156.27,316.58" fill="#f0cdbb" stroke="#f0cdbb"/>
<polygon points="288.72,393.59 283.98,392.26 283.25,394.25 288,395.57" fill="#536edd" stroke="#536edd"/>
<polygon points="332.09,401.47 327.33,400.54 326.7,402.45 331.46,403.38" fill="#4358cb" stroke="#4358cb"/>
<polygon points="175.3,335.36 170.55,331.04 169.59,333.72 174.34,337.98" fill="#cfdaea" stroke="#cfdaea"/>
<polygon points="293.45,394.86 288.72,393.59 288,395.57 292.74,396.84" fill="#506bda" stroke="#506bda"/>
<polygon points="336.84,402.37 332.09,401.47 331.46,403.38 336.22,404.27" fill="#4257c9" stroke="#4257c9"/>
<polygon points="298.19,396.08 293.45,394.86 292.74,396.84 297.49,398.05" fill="#4e68d8" stroke="#4e68d8"/>
<polygon points="152.48,308.27 147.71,302.52 146.71,305.54 151.49,311.21" fill="#f5c4ac" stroke="#f5c4ac"/>
<polygon points="170.55,331.04 165.8,326.48 164.83,329.21 169.59,333.72" fill="#d8dce2" stroke="#d8dce2"/>
<polygon points="139.13,286.83 134.33,279.94 133.31,283.23 138.12,290.02" fill="#f39475" stroke="#f39475"/>
<polygon points="341.6,403.24 336.84,402.37 336.22,404.27 340.99,405.13" fill="#3f53c6" stroke="#3f53c6"/>
<polygon points="226.44,372.73 221.71,370.31 220.85,372.56 225.59,374.94" fill="#80a3fa" stroke="#80a3fa"/>
<polygon points="221.71,370.31 216.98,367.78 216.11,370.04 220.85,372.56" fill="#85a8fc" stroke="#85a8fc"/>
<polygon points="231.17,375.03 226.44,372.73 225.59,374.94 230.33,377.22" fill="#7b9ff9" stroke="#7b9ff9"/>
<polygon points="216.98,367.78 212.25,365.11 211.37,367.4 216.11,370.04" fill="#8caffe" stroke="#8caffe"/>
<polygon points="302.94,397.25 298.19,396.08 297.49,398.05 302.25,399.21" fill="#4b64d5" stroke="#4b64d5"/>
<polygon points="235.9,377.22 231.17,375.03 230.33,377.22 235.07,379.38" fill="#7699f6" stroke="#7699f6"/>
<polygon points="212.25,365.11 207.52,362.3 206.63,364.63 211.37,367.4" fill="#92b4fe" stroke="#92b4fe"/>
<polygon points="240.63,379.3 235.9,377.22 235.07,379.38 239.8,381.45" fill="#7295f4" stroke="#7295f4"/>
<polygon points="207.52,362.3 202.79,359.34 201.89,361.71 206.63,364.63" fill="#98b9ff" stroke="#98b9ff"/>
<polygon points="245.36,381.29 240.63,379.3 239.8,381.45 244.54,383.41" fill="#6e90f2" stroke="#6e90f2"/>
<polygon points="202.79,359.34 198.06,356.23 197.15,358.63 201.89,361.71" fill="#9fbfff" stroke="#9fbfff"/>
<polygon points="307.68,398.38 302.94,397.25 302.25,399.21 307,400.32" fill="#4a63d3" stroke="#4a63d3"/>
<polygon points="250.09,383.18 245.36,381.29 244.54,383.41 249.29,385.29" fill="#6a8bef" stroke="#6a8bef"/>
<polygon points="165.8,326.48 161.04,321.66 160.06,324.46 164.83,329.21" fill="#e0dbd8" stroke="#e0dbd8"/>
<polygon points="254.82,384.99 250.09,383.18 249.29,385.29 254.03,387.08" fill="#6687ed" stroke="#6687ed"/>
<polygon points="198.06,356.23 193.32,352.95 192.4,355.39 197.15,358.63" fill="#a6c4fe" stroke="#a6c4fe"/>
<polygon points="147.71,302.52 142.92,296.45 141.91,299.55 146.71,305.54" fill="#f7b89c" stroke="#f7b89c"/>
<polygon points="259.55,386.72 254.82,384.99 254.03,387.08 258.77,388.79" fill="#6282ea" stroke="#6282ea"/>
<polygon points="312.43,399.46 307.68,398.38 307,400.32 311.76,401.4" fill="#485fd1" stroke="#485fd1"/>
<polygon points="193.32,352.95 188.58,349.5 187.65,351.98 192.4,355.39" fill="#aec9fc" stroke="#aec9fc"/>
<polygon points="264.29,388.36 259.55,386.72 258.77,388.79 263.52,390.42" fill="#5f7fe8" stroke="#5f7fe8"/>
<polygon points="161.04,321.66 156.27,316.58 155.28,319.45 160.06,324.46" fill="#e8d6cc" stroke="#e8d6cc"/>
<polygon points="188.58,349.5 183.84,345.86 182.9,348.39 187.65,351.98" fill="#b5cdfa" stroke="#b5cdfa"/>
<polygon points="317.19,400.5 312.43,399.46 311.76,401.4 316.53,402.43" fill="#465ecf" stroke="#465ecf"/>
<polygon points="269.03,389.94 264.29,388.36 263.52,390.42 268.26,391.98" fill="#5b7ae5" stroke="#5b7ae5"/>
<polygon points="273.77,391.44 269.03,389.94 268.26,391.98 273.01,393.47" fill="#5977e3" stroke="#5977e3"/>
<polygon points="183.84,345.86 179.09,342.03 178.15,344.6 182.9,348.39" fill="#bed2f6" stroke="#bed2f6"/>
<polygon points="321.94,401.49 317.19,400.5 316.53,402.43 321.29,403.42" fill="#455cce" stroke="#455cce"/>
<polygon points="142.92,296.45 138.12,290.02 137.1,293.21 141.91,299.55" fill="#f7a98b" stroke="#f7a98b"/>
<polygon points="278.51,392.88 273.77,391.44 273.01,393.47 277.76,394.89" fill="#5673e0" stroke="#5673e0"/>
<polygon points="156.27,316.58 151.49,311.21 150.5,314.15 155.28,319.45" fill="#efcfbf" stroke="#efcfbf"/>
<polygon points="179.09,342.03 174.34,337.98 173.39,340.6 178.15,344.6" fill="#c5d6f2" stroke="#c5d6f2"/>
<polygon points="326.7,402.45 321.94,401.49 321.29,403.42 326.06,404.37" fill="#445acc" stroke="#445acc"/>
<polygon points="283.25,394.25 278.51,392.88 277.76,394.89 282.52,396.26" fill="#5470de" stroke="#5470de"/>
<polygon points="288,395.57 283.25,394.25 282.52,396.26 287.27,397.56" fill="#516ddb" stroke="#516ddb"/>
<polygon points="174.34,337.98 169.59,333.72 168.62,336.39 173.39,340.6" fill="#cdd9ec" stroke="#cdd9ec"/>
<polygon points="331.46,403.38 326.7,402.45 326.06,404.37 330.83,405.29" fill="#4257c9" stroke="#4257c9"/>
<polygon points="292.74,396.84 288,395.57 287.27,397.56 292.03,398.82" fill="#4f69d9" stroke="#4f69d9"/>
<polygon points="151.49,311.21 146.71,305.54 145.7,308.55 150.5,314.15" fill="#f3c7b1" stroke="#f3c7b1"/>
<polygon points="138.12,290.02 133.31,283.23 132.28,286.51 137.1,293.21" fill="#f4987a" stroke="#f4987a"/>
<polygon points="336.22,404.27 331.46,403.38 330.83,405.29 335.61,406.18" fill="#4055c8" stroke="#4055c8"/>
<polygon points="169.59,333.72 164.83,329.21 163.85,331.95 168.62,336.39" fill="#d6dce4" stroke="#d6dce4"/>
<polygon points="297.49,398.05 292.74,396.84 292.03,398.82 296.79,400.02" fill="#4e68d8" stroke="#4e68d8"/>
<polygon points="220.85,372.56 216.11,370.04 215.24,372.31 219.99,374.8" fill="#84a7fc" stroke="#84a7fc"/>
<polygon points="225.59,374.94 220.85,372.56 219.99,374.8 224.73,377.16" fill="#80a3fa" stroke="#80a3fa"/>
<polygon points="216.11,370.04 211.37,367.4 210.49,369.7 215.24,372.31" fill="#8badfd" stroke="#8badfd"/>
<polygon points="230.33,377.22 225.59,374.94 224.73,377.16 229.48,379.41" fill="#7a9df8" stroke="#7a9df8"/>
<polygon points="340.99,405.13 336.22,404.27 335.61,406.18 340.38,407.03" fill="#3f53c6" stroke="#3f53c6"/>
<polygon points="211.37,367.4 206.63,364.63 205.74,366.96 210.49,369.7" fill="#90b2fe" stroke="#90b2fe"/>
<polygon points="235.07,379.38 230.33,377.22 229.48,379.41 234.23,381.55" fill="#7597f6" stroke="#7597f6"/>
<polygon points="302.25,399.21 297.49,398.05 296.79,400.02 301.56,401.17" fill="#4b64d5" stroke="#4b64d5"/>
<polygon points="239.8,381.45 235.07,379.38 234.23,381.55 238.98,383.59" fill="#7093f3" stroke="#7093f3"/>
<polygon points="206.63,364.63 201.89,361.71 200.99,364.07 205.74,366.96" fill="#97b8ff" stroke="#97b8ff"/>
<polygon points="164.83,329.21 160.06,324.46 159.07,327.26 163.85,331.95" fill="#dddcdc" stroke="#dddcdc"/>
<polygon points="244.54,383.41 239.8,381.45 238.98,383.59 243.73,385.54" fill="#6c8ff1" stroke="#6c8ff1"/>
<polygon points="201.89,361.71 197.15,358.63 196.24,361.03 200.99,364.07" fill="#9dbdff" stroke="#9dbdff"/>
<polygon points="146.71,305.54 141.91,299.55 140.9,302.64 145.7,308.55" fill="#f7bca1" stroke="#f7bca1"/>
<polygon points="249.29,385.29 244.54,383.41 243.73,385.54 248.48,387.4" fill="#688aef" stroke="#688aef"/>
<polygon points="307,400.32 302.25,399.21 301.56,401.17 306.32,402.28" fill="#4a63d3" stroke="#4a63d3"/>
<polygon points="197.15,358.63 192.4,355.39 191.48,357.83 196.24,361.03" fill="#a5c3fe" stroke="#a5c3fe"/>
<polygon points="254.03,387.08 249.29,385.29 248.48,387.4 253.23,389.17" fill="#6485ec" stroke="#6485ec"/>
<polygon points="192.4,355.39 187.65,351.98 186.72,354.46 191.48,357.83" fill="#abc8fd" stroke="#abc8fd"/>
<polygon points="258.77,388.79 254.03,387.08 253.23,389.17 257.99,390.86" fill="#6282ea" stroke="#6282ea"/>
<polygon points="311.76,401.4 307,400.32 306.32,402.28 311.09,403.34" fill="#485fd1" stroke="#485fd1"/>
<polygon points="160.06,324.46 155.28,319.45 154.29,322.3 159.07,327.26" fill="#e6d7cf" stroke="#e6d7cf"/>
<polygon points="263.52,390.42 258.77,388.79 257.99,390.86 262.74,392.48" fill="#5e7de7" stroke="#5e7de7"/>
<polygon points="187.65,351.98 182.9,348.39 181.96,350.91 186.72,354.46" fill="#b3cdfb" stroke="#b3cdfb"/>
<polygon points="316.53,402.43 311.76,401.4 311.09,403.34 315.86,404.36" fill="#465ecf" stroke="#465ecf"/>
<polygon points="268.26,391.98 263.52,390.42 262.74,392.48 267.5,394.02" fill="#5b7ae5" stroke="#5b7ae5"/>
<polygon points="182.9,348.39 178.15,344.6 177.2,347.17 181.96,350.91" fill="#bbd1f8" stroke="#bbd1f8"/>
<polygon points="141.91,299.55 137.1,293.21 136.08,296.38 140.9,302.64" fill="#f7ad90" stroke="#f7ad90"/>
<polygon points="273.01,393.47 268.26,391.98 267.5,394.02 272.26,395.5" fill="#5977e3" stroke="#5977e3"/>
<polygon points="155.28,319.45 150.5,314.15 149.5,317.07 154.29,322.3" fill="#edd2c3" stroke="#edd2c3"/>
<polygon points="321.29,403.42 316.53,402.43 315.86,404.36 320.64,405.35" fill="#445acc" stroke="#445acc"/>
<polygon points="178.15,344.6 173.39,340.6 172.43,343.22 177.2,347.17" fill="#c4d5f3" stroke="#c4d5f3"/>
<polygon points="277.76,394.89 273.01,393.47 272.26,395.5 277.02,396.91" fill="#5572df" stroke="#5572df"/>
<polygon points="326.06,404.37 321.29,403.42 320.64,405.35 325.42,406.3" fill="#4358cb" stroke="#4358cb"/>
<polygon points="282.52,396.26 277.76,394.89 277.02,396.91 281.78,398.26" fill="#5470de" stroke="#5470de"/>
<polygon points="173.39,340.6 168.62,336.39 167.65,339.06 172.43,343.22" fill="#cbd8ee" stroke="#cbd8ee"/>
<polygon points="287.27,397.56 282.52,396.26 281.78,398.26 286.55,399.56" fill="#516ddb" stroke="#516ddb"/>
<polygon points="150.5,314.15 145.7,308.55 144.69,311.55 149.5,317.07" fill="#f2c9b4" stroke="#f2c9b4"/>
<polygon points="137.1,293.21 132.28,286.51 131.25,289.77 136.08,296.38" fill="#f59d7e" stroke="#f59d7e"/>
<polygon points="330.83,405.29 326.06,404.37 325.42,406.3 330.2,407.21" fill="#4257c9" stroke="#4257c9"/>
<polygon points="168.62,336.39 163.85,331.95 162.87,334.67 167.65,339.06" fill="#d4dbe6" stroke="#d4dbe6"/>
<polygon points="292.03,398.82 287.27,397.56 286.55,399.56 291.32,400.8" fill="#4f69d9" stroke="#4f69d9"/>
<polygon points="335.61,406.18 330.83,405.29 330.2,407.21 334.98,408.09" fill="#4055c8" stroke="#4055c8"/>
<polygon points="296.79,400.02 292.03,398.82 291.32,400.8 296.09,401.99" fill="#4c66d6" stroke="#4c66d6"/>
<polygon points="219.99,374.8 215.24,372.31 214.36,374.59 219.12,377.04" fill="#82a6fb" stroke="#82a6fb"/>
<polygon points="224.73,377.16 219.99,374.8 219.12,377.04 223.88,379.38" fill="#7ea1fa" stroke="#7ea1fa"/>
<polygon points="215.24,372.31 210.49,369.7 209.6,372 214.36,374.59" fill="#88abfd" stroke="#88abfd"/>
<polygon points="229.48,379.41 224.73,377.16 223.88,379.38 228.63,381.6" fill="#799cf8" stroke="#799cf8"/>
<polygon points="210.49,369.7 205.74,366.96 204.84,369.29 209.6,372" fill="#8fb1fe" stroke="#8fb1fe"/>
<polygon points="163.85,331.95 159.07,327.26 158.09,330.04 162.87,334.67" fill="#dbdcde" stroke="#dbdcde"/>
<polygon points="234.23,381.55 229.48,379.41 228.63,381.6 233.39,383.72" fill="#7597f6" stroke="#7597f6"/>
<polygon points="145.7,308.55 140.9,302.64 139.88,305.71 144.69,311.55" fill="#f6bea4" stroke="#f6bea4"/>
<polygon points="340.38,407.03 335.61,406.18 334.98,408.09 339.77,408.94" fill="#3f53c6" stroke="#3f53c6"/>
<polygon points="205.74,366.96 200.99,364.07 200.08,366.44 204.84,369.29" fill="#94b6ff" stroke="#94b6ff"/>
<polygon points="238.98,383.59 234.23,381.55 233.39,383.72 238.15,385.74" fill="#6f92f3" stroke="#6f92f3"/>
<polygon points="301.56,401.17 296.79,400.02 296.09,401.99 300.86,403.14" fill="#4b64d5" stroke="#4b64d5"/>
<polygon points="200.99,364.07 196.24,361.03 195.32,363.43 200.08,366.44" fill="#9bbcff" stroke="#9bbcff"/>
<polygon points="243.73,385.54 238.98,383.59 238.15,385.74 242.91,387.67" fill="#6b8df0" stroke="#6b8df0"/>
<polygon points="196.24,361.03 191.48,357.83 190.55,360.27 195.32,363.43" fill="#a2c1ff" stroke="#a2c1ff"/>
<polygon points="248.48,387.4 243.73,385.54 242.91,387.67 247.67,389.51" fill="#6788ee" stroke="#6788ee"/>
<polygon points="306.32,402.28 301.56,401.17 300.86,403.14 305.64,404.23" fill="#4961d2" stroke="#4961d2"/>
<polygon points="253.23,389.17 248.48,387.4 247.67,389.51 252.43,391.26" fill="#6485ec" stroke="#6485ec"/>
<polygon points="191.48,357.83 186.72,354.46 185.79,356.94 190.55,360.27" fill="#aac7fd" stroke="#aac7fd"/>
<polygon points="159.07,327.26 154.29,322.3 153.29,325.15 158.09,330.04" fill="#e4d9d2" stroke="#e4d9d2"/>
<polygon points="257.99,390.86 253.23,389.17 252.43,391.26 257.2,392.94" fill="#6180e9" stroke="#6180e9"/>
<polygon points="186.72,354.46 181.96,350.91 181.02,353.43 185.79,356.94" fill="#b1cbfc" stroke="#b1cbfc"/>
<polygon points="311.09,403.34 306.32,402.28 305.64,404.23 310.42,405.29" fill="#485fd1" stroke="#485fd1"/>
<polygon points="262.74,392.48 257.99,390.86 257.2,392.94 261.96,394.54" fill="#5e7de7" stroke="#5e7de7"/>
<polygon points="140.9,302.64 136.08,296.38 135.06,299.55 139.88,305.71" fill="#f7b194" stroke="#f7b194"/>
<polygon points="181.96,350.91 177.2,347.17 176.24,349.73 181.02,353.43" fill="#b9d0f9" stroke="#b9d0f9"/>
<polygon points="267.5,394.02 262.74,392.48 261.96,394.54 266.73,396.07" fill="#5a78e4" stroke="#5a78e4"/>
<polygon points="315.86,404.36 311.09,403.34 310.42,405.29 315.2,406.31" fill="#455cce" stroke="#455cce"/>
<polygon points="154.29,322.3 149.5,317.07 148.49,319.99 153.29,325.15" fill="#ebd3c6" stroke="#ebd3c6"/>
<polygon points="272.26,395.5 267.5,394.02 266.73,396.07 271.5,397.53" fill="#5875e1" stroke="#5875e1"/>
<polygon points="177.2,347.17 172.43,343.22 171.46,345.84 176.24,349.73" fill="#c1d4f4" stroke="#c1d4f4"/>
<polygon points="320.64,405.35 315.86,404.36 315.2,406.31 319.98,407.28" fill="#445acc" stroke="#445acc"/>
<polygon points="277.02,396.91 272.26,395.5 271.5,397.53 276.27,398.93" fill="#5572df" stroke="#5572df"/>
<polygon points="172.43,343.22 167.65,339.06 166.68,341.73 171.46,345.84" fill="#cad8ef" stroke="#cad8ef"/>
<polygon points="325.42,406.3 320.64,405.35 319.98,407.28 324.77,408.23" fill="#4358cb" stroke="#4358cb"/>
<polygon points="136.08,296.38 131.25,289.77 130.22,293.02 135.06,299.55" fill="#f6a283" stroke="#f6a283"/>
<polygon points="281.78,398.26 277.02,396.91 276.27,398.93 281.04,400.27" fill="#536edd" stroke="#536edd"/>
<polygon points="149.5,317.07 144.69,311.55 143.68,314.54 148.49,319.99" fill="#f1ccb8" stroke="#f1ccb8"/>
<polygon points="286.55,399.56 281.78,398.26 281.04,400.27 285.82,401.56" fill="#506bda" stroke="#506bda"/>
<polygon points="167.65,339.06 162.87,334.67 161.89,337.39 166.68,341.73" fill="#d2dbe8" stroke="#d2dbe8"/>
<polygon points="330.2,407.21 325.42,406.3 324.77,408.23 329.57,409.13" fill="#4257c9" stroke="#4257c9"/>
<polygon points="291.32,400.8 286.55,399.56 285.82,401.56 290.6,402.79" fill="#4e68d8" stroke="#4e68d8"/>
<polygon points="334.98,408.09 330.2,407.21 329.57,409.13 334.36,410.01" fill="#4055c8" stroke="#4055c8"/>
<polygon points="144.69,311.55 139.88,305.71 138.86,308.78 143.68,314.54" fill="#f5c1a9" stroke="#f5c1a9"/>
<polygon points="162.87,334.67 158.09,330.04 157.1,332.82 161.89,337.39" fill="#d9dce1" stroke="#d9dce1"/>
<polygon points="296.09,401.99 291.32,400.8 290.6,402.79 295.38,403.97" fill="#4c66d6" stroke="#4c66d6"/>
<polygon points="219.12,377.04 214.36,374.59 213.48,376.86 218.25,379.29" fill="#81a4fb" stroke="#81a4fb"/>
<polygon points="214.36,374.59 209.6,372 208.71,374.31 213.48,376.86" fill="#86a9fc" stroke="#86a9fc"/>
<polygon points="223.88,379.38 219.12,377.04 218.25,379.29 223.01,381.6" fill="#7da0f9" stroke="#7da0f9"/>
<polygon points="209.6,372 204.84,369.29 203.94,371.62 208.71,374.31" fill="#8db0fe" stroke="#8db0fe"/>
<polygon points="228.63,381.6 223.88,379.38 223.01,381.6 227.78,383.8" fill="#779af7" stroke="#779af7"/>
<polygon points="204.84,369.29 200.08,366.44 199.17,368.8 203.94,371.62" fill="#93b5fe" stroke="#93b5fe"/>
<polygon points="233.39,383.72 228.63,381.6 227.78,383.8 232.55,385.9" fill="#7396f5" stroke="#7396f5"/>
<polygon points="238.15,385.74 233.39,383.72 232.55,385.9 237.32,387.9" fill="#6f92f3" stroke="#6f92f3"/>
<polygon points="200.08,366.44 195.32,363.43 194.4,365.83 199.17,368.8" fill="#9abbff" stroke="#9abbff"/>
<polygon points="339.77,408.94 334.98,408.09 334.36,410.01 339.16,410.85" fill="#3f53c6" stroke="#3f53c6"/>
<polygon points="300.86,403.14 296.09,401.99 295.38,403.97 300.16,405.11" fill="#4a63d3" stroke="#4a63d3"/>
<polygon points="242.91,387.67 238.15,385.74 237.32,387.9 242.09,389.81" fill="#6a8bef" stroke="#6a8bef"/>
<polygon points="195.32,363.43 190.55,360.27 189.62,362.7 194.4,365.83" fill="#a1c0ff" stroke="#a1c0ff"/>
<polygon points="247.67,389.51 242.91,387.67 242.09,389.81 246.86,391.63" fill="#6788ee" stroke="#6788ee"/>
<polygon points="158.09,330.04 153.29,325.15 152.29,328 157.1,332.82" fill="#e1dad6" stroke="#e1dad6"/>
<polygon points="190.55,360.27 185.79,356.94 184.85,359.41 189.62,362.7" fill="#a7c5fe" stroke="#a7c5fe"/>
<polygon points="305.64,404.23 300.86,403.14 300.16,405.11 304.95,406.2" fill="#4961d2" stroke="#4961d2"/>
<polygon points="252.43,391.26 247.67,389.51 246.86,391.63 251.63,393.36" fill="#6384eb" stroke="#6384eb"/>
<polygon points="139.88,305.71 135.06,299.55 134.03,302.69 138.86,308.78" fill="#f7b599" stroke="#f7b599"/>
<polygon points="185.79,356.94 181.02,353.43 180.07,355.95 184.85,359.41" fill="#afcafc" stroke="#afcafc"/>
<polygon points="257.2,392.94 252.43,391.26 251.63,393.36 256.4,395.02" fill="#5f7fe8" stroke="#5f7fe8"/>
<polygon points="310.42,405.29 305.64,404.23 304.95,406.2 309.74,407.25" fill="#465ecf" stroke="#465ecf"/>
<polygon points="261.96,394.54 257.2,392.94 256.4,395.02 261.18,396.61" fill="#5d7ce6" stroke="#5d7ce6"/>
<polygon points="181.02,353.43 176.24,349.73 175.28,352.3 180.07,355.95" fill="#b7cff9" stroke="#b7cff9"/>
<polygon points="153.29,325.15 148.49,319.99 147.48,322.9 152.29,328" fill="#ead5c9" stroke="#ead5c9"/>
<polygon points="266.73,396.07 261.96,394.54 261.18,396.61 265.96,398.12" fill="#5a78e4" stroke="#5a78e4"/>
<polygon points="315.2,406.31 310.42,405.29 309.74,407.25 314.53,408.26" fill="#455cce" stroke="#455cce"/>
<polygon points="176.24,349.73 171.46,345.84 170.5,348.45 175.28,352.3" fill="#bfd3f6" stroke="#bfd3f6"/>
<polygon points="271.5,397.53 266.73,396.07 265.96,398.12 270.74,399.57" fill="#5875e1" stroke="#5875e1"/>
<polygon points="319.98,407.28 315.2,406.31 314.53,408.26 319.33,409.23" fill="#445acc" stroke="#445acc"/>
<polygon points="135.06,299.55 130.22,293.02 129.18,296.26 134.03,302.69" fill="#f7a688" stroke="#f7a688"/>
<polygon points="276.27,398.93 271.5,397.53 270.74,399.57 275.52,400.96" fill="#5572df" stroke="#5572df"/>
<polygon points="171.46,345.84 166.68,341.73 165.7,344.39 170.5,348.45" fill="#c7d7f0" stroke="#c7d7f0"/>
<polygon points="148.49,319.99 143.68,314.54 142.66,317.52 147.48,322.9" fill="#f0cdbb" stroke="#f0cdbb"/>
<polygon points="281.04,400.27 276.27,398.93 275.52,400.96 280.3,402.29" fill="#536edd" stroke="#536edd"/>
<polygon points="324.77,408.23 319.98,407.28 319.33,409.23 324.13,410.16" fill="#4358cb" stroke="#4358cb"/>
<polygon points="166.68,341.73 161.89,337.39 160.91,340.11 165.7,344.39" fill="#cfdaea" stroke="#cfdaea"/>
<polygon points="285.82,401.56 281.04,400.27 280.3,402.29 285.09,403.57" fill="#506bda" stroke="#506bda"/>
<polygon points="329.57,409.13 324.77,408.23 324.13,410.16 328.93,411.06" fill="#4257c9" stroke="#4257c9"/>
<polygon points="143.68,314.54 138.86,308.78 137.83,311.84 142.66,317.52" fill="#f4c5ad" stroke="#f4c5ad"/>
<polygon points="290.6,402.79 285.82,401.56 285.09,403.57 289.88,404.79" fill="#4e68d8" stroke="#4e68d8"/>
<polygon points="161.89,337.39 157.1,332.82 156.1,335.6 160.91,340.11" fill="#d7dce3" stroke="#d7dce3"/>
<polygon points="334.36,410.01 329.57,409.13 328.93,411.06 333.73,411.93" fill="#4055c8" stroke="#4055c8"/>
<polygon points="218.25,379.29 213.48,376.86 212.59,379.13 217.37,381.53" fill="#80a3fa" stroke="#80a3fa"/>
<polygon points="213.48,376.86 208.71,374.31 207.81,376.61 212.59,379.13" fill="#85a8fc" stroke="#85a8fc"/>
<polygon points="223.01,381.6 218.25,379.29 217.37,381.53 222.15,383.82" fill="#7b9ff9" stroke="#7b9ff9"/>
<polygon points="208.71,374.31 203.94,371.62 203.04,373.95 207.81,376.61" fill="#8caffe" stroke="#8caffe"/>
<polygon points="295.38,403.97 290.6,402.79 289.88,404.79 294.67,405.96" fill="#4b64d5" stroke="#4b64d5"/>
<polygon points="227.78,383.8 223.01,381.6 222.15,383.82 226.92,386" fill="#7699f6" stroke="#7699f6"/>
<polygon points="203.94,371.62 199.17,368.8 198.26,371.16 203.04,373.95" fill="#92b4fe" stroke="#92b4fe"/>
<polygon points="232.55,385.9 227.78,383.8 226.92,386 231.7,388.08" fill="#7295f4" stroke="#7295f4"/>
<polygon points="199.17,368.8 194.4,365.83 193.47,368.23 198.26,371.16" fill="#98b9ff" stroke="#98b9ff"/>
<polygon points="237.32,387.9 232.55,385.9 231.7,388.08 236.48,390.06" fill="#6e90f2" stroke="#6e90f2"/>
<polygon points="194.4,365.83 189.62,362.7 188.69,365.14 193.47,368.23" fill="#9fbfff" stroke="#9fbfff"/>
<polygon points="157.1,332.82 152.29,328 151.29,330.83 156.1,335.6" fill="#dfdbd9" stroke="#dfdbd9"/>
<polygon points="339.16,410.85 334.36,410.01 333.73,411.93 338.54,412.77" fill="#3f53c6" stroke="#3f53c6"/>
<polygon points="300.16,405.11 295.38,403.97 294.67,405.96 299.46,407.09" fill="#4a63d3" stroke="#4a63d3"/>
<polygon points="242.09,389.81 237.32,387.9 236.48,390.06 241.26,391.94" fill="#6a8bef" stroke="#6a8bef"/>
<polygon points="138.86,308.78 134.03,302.69 132.99,305.83 137.83,311.84" fill="#f7b99e" stroke="#f7b99e"/>
<polygon points="189.62,362.7 184.85,359.41 183.9,361.89 188.69,365.14" fill="#a6c4fe" stroke="#a6c4fe"/>
<polygon points="246.86,391.63 242.09,389.81 241.26,391.94 246.04,393.74" fill="#6687ed" stroke="#6687ed"/>
<polygon points="251.63,393.36 246.86,391.63 246.04,393.74 250.82,395.47" fill="#6282ea" stroke="#6282ea"/>
<polygon points="304.95,406.2 300.16,405.11 299.46,407.09 304.26,408.17" fill="#485fd1" stroke="#485fd1"/>
<polygon points="184.85,359.41 180.07,355.95 179.11,358.46 183.9,361.89" fill="#adc9fd" stroke="#adc9fd"/>
<polygon points="256.4,395.02 251.63,393.36 250.82,395.47 255.61,397.11" fill="#5f7fe8" stroke="#5f7fe8"/>
<polygon points="152.29,328 147.48,322.9 146.47,325.8 151.29,330.83" fill="#e8d6cc" stroke="#e8d6cc"/>
<polygon points="180.07,355.95 175.28,352.3 174.32,354.86 179.11,358.46" fill="#b5cdfa" stroke="#b5cdfa"/>
<polygon points="309.74,407.25 304.95,406.2 304.26,408.17 309.06,409.21" fill="#465ecf" stroke="#465ecf"/>
<polygon points="261.18,396.61 256.4,395.02 255.61,397.11 260.39,398.68" fill="#5b7ae5" stroke="#5b7ae5"/>
<polygon points="175.28,352.3 170.5,348.45 169.52,351.05 174.32,354.86" fill="#bcd2f7" stroke="#bcd2f7"/>
<polygon points="265.96,398.12 261.18,396.61 260.39,398.68 265.18,400.18" fill="#5977e3" stroke="#5977e3"/>
<polygon points="314.53,408.26 309.74,407.25 309.06,409.21 313.86,410.21" fill="#455cce" stroke="#455cce"/>
<polygon points="134.03,302.69 129.18,296.26 128.14,299.49 132.99,305.83" fill="#f7aa8c" stroke="#f7aa8c"/>
<polygon points="270.74,399.57 265.96,398.12 265.18,400.18 269.97,401.62" fill="#5673e0" stroke="#5673e0"/>
<polygon points="147.48,322.9 142.66,317.52 141.64,320.49 146.47,325.8" fill="#eed0c0" stroke="#eed0c0"/>
<polygon points="170.5,348.45 165.7,344.39 164.72,347.05 169.52,351.05" fill="#c5d6f2" stroke="#c5d6f2"/>
<polygon points="319.33,409.23 314.53,408.26 313.86,410.21 318.67,411.18" fill="#445acc" stroke="#445acc"/>
<polygon points="275.52,400.96 270.74,399.57 269.97,401.62 274.76,403" fill="#5470de" stroke="#5470de"/>
<polygon points="165.7,344.39 160.91,340.11 159.92,342.82 164.72,347.05" fill="#cdd9ec" stroke="#cdd9ec"/>
<polygon points="280.3,402.29 275.52,400.96 274.76,403 279.56,404.31" fill="#516ddb" stroke="#516ddb"/>
<polygon points="324.13,410.16 319.33,409.23 318.67,411.18 323.48,412.1" fill="#4257c9" stroke="#4257c9"/>
<polygon points="142.66,317.52 137.83,311.84 136.8,314.88 141.64,320.49" fill="#f3c7b1" stroke="#f3c7b1"/>
<polygon points="285.09,403.57 280.3,402.29 279.56,404.31 284.35,405.58" fill="#4f69d9" stroke="#4f69d9"/>
<polygon points="328.93,411.06 324.13,410.16 323.48,412.1 328.29,413" fill="#4055c8" stroke="#4055c8"/>
<polygon points="160.91,340.11 156.1,335.6 155.1,338.36 159.92,342.82" fill="#d5dbe5" stroke="#d5dbe5"/>
<polygon points="289.88,404.79 285.09,403.57 284.35,405.58 289.15,406.79" fill="#4e68d8" stroke="#4e68d8"/>
<polygon points="212.59,379.13 207.81,376.61 206.91,378.91 211.7,381.41" fill="#84a7fc" stroke="#84a7fc"/>
<polygon points="217.37,381.53 212.59,379.13 211.7,381.41 216.49,383.78" fill="#80a3fa" stroke="#80a3fa"/>
<polygon points="207.81,376.61 203.04,373.95 202.13,376.29 206.91,378.91" fill="#8badfd" stroke="#8badfd"/>
<polygon points="222.15,383.82 217.37,381.53 216.49,383.78 221.28,386.05" fill="#7a9df8" stroke="#7a9df8"/>
<polygon points="333.73,411.93 328.93,411.06 328.29,413 333.11,413.87" fill="#3f53c6" stroke="#3f53c6"/>
<polygon points="203.04,373.95 198.26,371.16 197.34,373.53 202.13,376.29" fill="#90b2fe" stroke="#90b2fe"/>
<polygon points="226.92,386 222.15,383.82 221.28,386.05 226.06,388.2" fill="#7597f6" stroke="#7597f6"/>
<polygon points="294.67,405.96 289.88,404.79 289.15,406.79 293.95,407.95" fill="#4b64d5" stroke="#4b64d5"/>
<polygon points="198.26,371.16 193.47,368.23 192.55,370.63 197.34,373.53" fill="#96b7ff" stroke="#96b7ff"/>
<polygon points="231.7,388.08 226.92,386 226.06,388.2 230.85,390.26" fill="#7093f3" stroke="#7093f3"/>
<polygon points="156.1,335.6 151.29,330.83 150.28,333.66 155.1,338.36" fill="#dddcdc" stroke="#dddcdc"/>
<polygon points="137.83,311.84 132.99,305.83 131.96,308.96 136.8,314.88" fill="#f7bca1" stroke="#f7bca1"/>
<polygon points="236.48,390.06 231.7,388.08 230.85,390.26 235.64,392.22" fill="#6c8ff1" stroke="#6c8ff1"/>
<polygon points="193.47,368.23 188.69,365.14 187.75,367.58 192.55,370.63" fill="#9dbdff" stroke="#9dbdff"/>
<polygon points="241.26,391.94 236.48,390.06 235.64,392.22 240.43,394.08" fill="#688aef" stroke="#688aef"/>
<polygon points="338.54,412.77 333.73,411.93 333.11,413.87 337.92,414.7" fill="#3e51c5" stroke="#3e51c5"/>
<polygon points="299.46,407.09 294.67,405.96 293.95,407.95 298.76,409.07" fill="#4a63d3" stroke="#4a63d3"/>
<polygon points="188.69,365.14 183.9,361.89 182.96,364.36 187.75,367.58" fill="#a5c3fe" stroke="#a5c3fe"/>
<polygon points="246.04,393.74 241.26,391.94 240.43,394.08 245.22,395.87" fill="#6485ec" stroke="#6485ec"/>
<polygon points="183.9,361.89 179.11,358.46 178.16,360.98 182.96,364.36" fill="#abc8fd" stroke="#abc8fd"/>
<polygon points="250.82,395.47 246.04,393.74 245.22,395.87 250.01,397.57" fill="#6282ea" stroke="#6282ea"/>
<polygon points="151.29,330.83 146.47,325.8 145.45,328.7 150.28,333.66" fill="#e5d8d1" stroke="#e5d8d1"/>
<polygon points="304.26,408.17 299.46,407.09 298.76,409.07 303.56,410.15" fill="#485fd1" stroke="#485fd1"/>
<polygon points="179.11,358.46 174.32,354.86 173.36,357.41 178.16,360.98" fill="#b3cdfb" stroke="#b3cdfb"/>
<polygon points="255.61,397.11 250.82,395.47 250.01,397.57 254.81,399.2" fill="#5e7de7" stroke="#5e7de7"/>
<polygon points="309.06,409.21 304.26,408.17 303.56,410.15 308.37,411.18" fill="#465ecf" stroke="#465ecf"/>
<polygon points="260.39,398.68 255.61,397.11 254.81,399.2 259.6,400.76" fill="#5b7ae5" stroke="#5b7ae5"/>
<polygon points="132.99,305.83 128.14,299.49 127.09,302.7 131.96,308.96" fill="#f7af91" stroke="#f7af91"/>
<polygon points="174.32,354.86 169.52,351.05 168.55,353.66 173.36,357.41" fill="#bbd1f8" stroke="#bbd1f8"/>
<polygon points="265.18,400.18 260.39,398.68 259.6,400.76 264.4,402.25" fill="#5977e3" stroke="#5977e3"/>
<polygon points="146.47,325.8 141.64,320.49 140.62,323.46 145.45,328.7" fill="#edd2c3" stroke="#edd2c3"/>
<polygon points="313.86,410.21 309.06,409.21 308.37,411.18 313.19,412.17" fill="#455cce" stroke="#455cce"/>
<polygon points="169.52,351.05 164.72,347.05 163.74,349.7 168.55,353.66" fill="#c3d5f4" stroke="#c3d5f4"/>
<polygon points="269.97,401.62 265.18,400.18 264.4,402.25 269.2,403.67" fill="#5673e0" stroke="#5673e0"/>
<polygon points="318.67,411.18 313.86,410.21 313.19,412.17 318,413.13" fill="#4358cb" stroke="#4358cb"/>
<polygon points="274.76,403 269.97,401.62 269.2,403.67 274,405.03" fill="#5470de" stroke="#5470de"/>
<polygon points="164.72,347.05 159.92,342.82 158.92,345.53 163.74,349.7" fill="#cbd8ee" stroke="#cbd8ee"/>
<polygon points="141.64,320.49 136.8,314.88 135.77,317.92 140.62,323.46" fill="#f2cab5" stroke="#f2cab5"/>
<polygon points="279.56,404.31 274.76,403 274,405.03 278.81,406.34" fill="#516ddb" stroke="#516ddb"/>
<polygon points="323.48,412.1 318.67,411.18 318,413.13 322.82,414.05" fill="#4257c9" stroke="#4257c9"/>
<polygon points="159.92,342.82 155.1,338.36 154.1,341.13 158.92,345.53" fill="#d3dbe7" stroke="#d3dbe7"/>
<polygon points="284.35,405.58 279.56,404.31 278.81,406.34 283.61,407.59" fill="#4f69d9" stroke="#4f69d9"/>
<polygon points="328.29,413 323.48,412.1 322.82,414.05 327.65,414.95" fill="#4055c8" stroke="#4055c8"/>
<polygon points="289.15,406.79 284.35,405.58 283.61,407.59 288.42,408.8" fill="#4c66d6" stroke="#4c66d6"/>
<polygon points="211.7,381.41 206.91,378.91 206.01,381.22 210.81,383.69" fill="#82a6fb" stroke="#82a6fb"/>
<polygon points="216.49,383.78 211.7,381.41 210.81,383.69 215.61,386.04" fill="#7ea1fa" stroke="#7ea1fa"/>
<polygon points="206.91,378.91 202.13,376.29 201.21,378.62 206.01,381.22" fill="#88abfd" stroke="#88abfd"/>
<polygon points="221.28,386.05 216.49,383.78 215.61,386.04 220.4,388.27" fill="#799cf8" stroke="#799cf8"/>
<polygon points="155.1,338.36 150.28,333.66 149.27,336.48 154.1,341.13" fill="#dbdcde" stroke="#dbdcde"/>
<polygon points="136.8,314.88 131.96,308.96 130.91,312.07 135.77,317.92" fill="#f6bfa6" stroke="#f6bfa6"/>
<polygon points="202.13,376.29 197.34,373.53 196.41,375.9 201.21,378.62" fill="#8fb1fe" stroke="#8fb1fe"/>
<polygon points="226.06,388.2 221.28,386.05 220.4,388.27 225.2,390.41" fill="#7597f6" stroke="#7597f6"/>
<polygon points="197.34,373.53 192.55,370.63 191.61,373.03 196.41,375.9" fill="#94b6ff" stroke="#94b6ff"/>
<polygon points="333.11,413.87 328.29,413 327.65,414.95 332.47,415.81" fill="#3f53c6" stroke="#3f53c6"/>
<polygon points="230.85,390.26 226.06,388.2 225.2,390.41 230,392.44" fill="#6f92f3" stroke="#6f92f3"/>
<polygon points="293.95,407.95 289.15,406.79 288.42,408.8 293.23,409.95" fill="#4b64d5" stroke="#4b64d5"/>
<polygon points="192.55,370.63 187.75,367.58 186.81,370.01 191.61,373.03" fill="#9bbcff" stroke="#9bbcff"/>
<polygon points="235.64,392.22 230.85,390.26 230,392.44 234.8,394.38" fill="#6b8df0" stroke="#6b8df0"/>
<polygon points="187.75,367.58 182.96,364.36 182,366.83 186.81,370.01" fill="#a2c1ff" stroke="#a2c1ff"/>
<polygon points="240.43,394.08 235.64,392.22 234.8,394.38 239.6,396.23" fill="#6788ee" stroke="#6788ee"/>
<polygon points="298.76,409.07 293.95,407.95 293.23,409.95 298.05,411.06" fill="#4961d2" stroke="#4961d2"/>
<polygon points="337.92,414.7 333.11,413.87 332.47,415.81 337.3,416.64" fill="#3e51c5" stroke="#3e51c5"/>
<polygon points="150.28,333.66 145.45,328.7 144.43,331.58 149.27,336.48" fill="#e3d9d3" stroke="#e3d9d3"/>
<polygon points="182.96,364.36 178.16,360.98 177.2,363.49 182,366.83" fill="#aac7fd" stroke="#aac7fd"/>
<polygon points="245.22,395.87 240.43,394.08 239.6,396.23 244.4,398" fill="#6485ec" stroke="#6485ec"/>
<polygon points="250.01,397.57 245.22,395.87 244.4,398 249.2,399.68" fill="#6180e9" stroke="#6180e9"/>
<polygon points="178.16,360.98 173.36,357.41 172.38,359.97 177.2,363.49" fill="#b1cbfc" stroke="#b1cbfc"/>
<polygon points="303.56,410.15 298.76,409.07 298.05,411.06 302.87,412.13" fill="#485fd1" stroke="#485fd1"/>
<polygon points="131.96,308.96 127.09,302.7 126.04,305.9 130.91,312.07" fill="#f7b396" stroke="#f7b396"/>
<polygon points="254.81,399.2 250.01,397.57 249.2,399.68 254.01,401.3" fill="#5e7de7" stroke="#5e7de7"/>
<polygon points="173.36,357.41 168.55,353.66 167.57,356.26 172.38,359.97" fill="#b9d0f9" stroke="#b9d0f9"/>
<polygon points="259.6,400.76 254.81,399.2 254.01,401.3 258.81,402.84" fill="#5a78e4" stroke="#5a78e4"/>
<polygon points="308.37,411.18 303.56,410.15 302.87,412.13 307.69,413.15" fill="#455cce" stroke="#455cce"/>
<polygon points="145.45,328.7 140.62,323.46 139.59,326.41 144.43,331.58" fill="#ebd3c6" stroke="#ebd3c6"/>
<polygon points="264.4,402.25 259.6,400.76 258.81,402.84 263.62,404.31" fill="#5875e1" stroke="#5875e1"/>
<polygon points="168.55,353.66 163.74,349.7 162.75,352.35 167.57,356.26" fill="#c1d4f4" stroke="#c1d4f4"/>
<polygon points="313.19,412.17 308.37,411.18 307.69,413.15 312.51,414.14" fill="#445acc" stroke="#445acc"/>
<polygon points="269.2,403.67 264.4,402.25 263.62,404.31 268.43,405.73" fill="#5572df" stroke="#5572df"/>
<polygon points="163.74,349.7 158.92,345.53 157.92,348.23 162.75,352.35" fill="#c9d7f0" stroke="#c9d7f0"/>
<polygon points="140.62,323.46 135.77,317.92 134.73,320.95 139.59,326.41" fill="#f1ccb8" stroke="#f1ccb8"/>
<polygon points="318,413.13 313.19,412.17 312.51,414.14 317.34,415.09" fill="#4358cb" stroke="#4358cb"/>
<polygon points="274,405.03 269.2,403.67 268.43,405.73 273.24,407.08" fill="#536edd" stroke="#536edd"/>
<polygon points="278.81,406.34 274,405.03 273.24,407.08 278.06,408.37" fill="#506bda" stroke="#506bda"/>
<polygon points="158.92,345.53 154.1,341.13 153.09,343.88 157.92,348.23" fill="#d1dae9" stroke="#d1dae9"/>
<polygon points="322.82,414.05 318,413.13 317.34,415.09 322.17,416.01" fill="#4257c9" stroke="#4257c9"/>
<polygon points="283.61,407.59 278.81,406.34 278.06,408.37 282.87,409.62" fill="#4f69d9" stroke="#4f69d9"/>
<polygon points="135.77,317.92 130.91,312.07 129.87,315.18 134.73,320.95" fill="#f5c2aa" stroke="#f5c2aa"/>
<polygon points="327.65,414.95 322.82,414.05 322.17,416.01 327,416.9" fill="#4055c8" stroke="#4055c8"/>
<polygon points="154.1,341.13 149.27,336.48 148.25,339.3 153.09,343.88" fill="#d9dce1" stroke="#d9dce1"/>
<polygon points="288.42,408.8 283.61,407.59 282.87,409.62 287.69,410.81" fill="#4c66d6" stroke="#4c66d6"/>
<polygon points="210.81,383.69 206.01,381.22 205.1,383.52 209.91,385.97" fill="#81a4fb" stroke="#81a4fb"/>
<polygon points="206.01,381.22 201.21,378.62 200.3,380.96 205.1,383.52" fill="#86a9fc" stroke="#86a9fc"/>
<polygon points="215.61,386.04 210.81,383.69 209.91,385.97 214.72,388.29" fill="#7da0f9" stroke="#7da0f9"/>
<polygon points="201.21,378.62 196.41,375.9 195.49,378.26 200.3,380.96" fill="#8db0fe" stroke="#8db0fe"/>
<polygon points="220.4,388.27 215.61,386.04 214.72,388.29 219.53,390.51" fill="#779af7" stroke="#779af7"/>
<polygon points="196.41,375.9 191.61,373.03 190.68,375.43 195.49,378.26" fill="#93b5fe" stroke="#93b5fe"/>
<polygon points="225.2,390.41 220.4,388.27 219.53,390.51 224.33,392.62" fill="#7396f5" stroke="#7396f5"/>
<polygon points="191.61,373.03 186.81,370.01 185.86,372.44 190.68,375.43" fill="#9abbff" stroke="#9abbff"/>
<polygon points="230,392.44 225.2,390.41 224.33,392.62 229.14,394.63" fill="#6f92f3" stroke="#6f92f3"/>
<polygon points="332.47,415.81 327.65,414.95 327,416.9 331.84,417.75" fill="#3f53c6" stroke="#3f53c6"/>
<polygon points="293.23,409.95 288.42,408.8 287.69,410.81 292.51,411.96" fill="#4a63d3" stroke="#4a63d3"/>
<polygon points="234.8,394.38 230,392.44 229.14,394.63 233.95,396.55" fill="#6b8df0" stroke="#6b8df0"/>
<polygon points="186.81,370.01 182,366.83 181.05,369.31 185.86,372.44" fill="#a1c0ff" stroke="#a1c0ff"/>
<polygon points="149.27,336.48 144.43,331.58 143.41,334.46 148.25,339.3" fill="#e1dad6" stroke="#e1dad6"/>
<polygon points="239.6,396.23 234.8,394.38 233.95,396.55 238.76,398.38" fill="#6788ee" stroke="#6788ee"/>
<polygon points="182,366.83 177.2,363.49 176.23,366 181.05,369.31" fill="#a7c5fe" stroke="#a7c5fe"/>
<polygon points="298.05,411.06 293.23,409.95 292.51,411.96 297.34,413.06" fill="#4961d2" stroke="#4961d2"/>
<polygon points="337.3,416.64 332.47,415.81 331.84,417.75 336.68,418.58" fill="#3e51c5" stroke="#3e51c5"/>
<polygon points="244.4,398 239.6,396.23 238.76,398.38 243.57,400.13" fill="#6384eb" stroke="#6384eb"/>
<polygon points="130.91,312.07 126.04,305.9 124.99,309.08 129.87,315.18" fill="#f7b599" stroke="#f7b599"/>
<polygon points="177.2,363.49 172.38,359.97 171.41,362.52 176.23,366" fill="#afcafc" stroke="#afcafc"/>
<polygon points="249.2,399.68 244.4,398 243.57,400.13 248.38,401.8" fill="#5f7fe8" stroke="#5f7fe8"/>
<polygon points="302.87,412.13 298.05,411.06 297.34,413.06 302.17,414.12" fill="#485fd1" stroke="#485fd1"/>
<polygon points="254.01,401.3 249.2,399.68 248.38,401.8 253.2,403.4" fill="#5d7ce6" stroke="#5d7ce6"/>
<polygon points="172.38,359.97 167.57,356.26 166.58,358.86 171.41,362.52" fill="#b7cff9" stroke="#b7cff9"/>
<polygon points="144.43,331.58 139.59,326.41 138.55,329.36 143.41,334.46" fill="#e9d5cb" stroke="#e9d5cb"/>
<polygon points="258.81,402.84 254.01,401.3 253.2,403.4 258.02,404.93" fill="#5a78e4" stroke="#5a78e4"/>
<polygon points="307.69,413.15 302.87,412.13 302.17,414.12 307,415.14" fill="#455cce" stroke="#455cce"/>
<polygon points="167.57,356.26 162.75,352.35 161.76,355 166.58,358.86" fill="#bfd3f6" stroke="#bfd3f6"/>
<polygon points="263.62,404.31 258.81,402.84 258.02,404.93 262.83,406.39" fill="#5875e1" stroke="#5875e1"/>
<polygon points="312.51,414.14 307.69,413.15 307,415.14 311.83,416.12" fill="#445acc" stroke="#445acc"/>
<polygon points="139.59,326.41 134.73,320.95 133.69,323.97 138.55,329.36" fill="#efcebd" stroke="#efcebd"/>
<polygon points="162.75,352.35 157.92,348.23 156.92,350.93 161.76,355" fill="#c7d7f0" stroke="#c7d7f0"/>
<polygon points="268.43,405.73 263.62,404.31 262.83,406.39 267.65,407.79" fill="#5572df" stroke="#5572df"/>
<polygon points="273.24,407.08 268.43,405.73 267.65,407.79 272.48,409.13" fill="#536edd" stroke="#536edd"/>
<polygon points="317.34,415.09 312.51,414.14 311.83,416.12 316.67,417.06" fill="#4358cb" stroke="#4358cb"/>
<polygon points="157.92,348.23 153.09,343.88 152.08,346.64 156.92,350.93" fill="#cfdaea" stroke="#cfdaea"/>
<polygon points="278.06,408.37 273.24,407.08 272.48,409.13 277.3,410.41" fill="#506bda" stroke="#506bda"/>
<polygon points="322.17,416.01 317.34,415.09 316.67,417.06 321.51,417.97" fill="#4257c9" stroke="#4257c9"/>
<polygon points="134.73,320.95 129.87,315.18 128.81,318.27 133.69,323.97" fill="#f4c5ad" stroke="#f4c5ad"/>
<polygon points="282.87,409.62 278.06,408.37 277.3,410.41 282.13,411.65" fill="#4e68d8" stroke="#4e68d8"/>
<polygon points="153.09,343.88 148.25,339.3 147.23,342.11 152.08,346.64" fill="#d7dce3" stroke="#d7dce3"/>
<polygon points="327,416.9 322.17,416.01 321.51,417.97 326.35,418.85" fill="#4055c8" stroke="#4055c8"/>
<polygon points="209.91,385.97 205.1,383.52 204.19,385.83 209.01,388.25" fill="#80a3fa" stroke="#80a3fa"/>
<polygon points="205.1,383.52 200.3,380.96 199.38,383.3 204.19,385.83" fill="#85a8fc" stroke="#85a8fc"/>
<polygon points="214.72,388.29 209.91,385.97 209.01,388.25 213.83,390.55" fill="#7b9ff9" stroke="#7b9ff9"/>
<polygon points="200.3,380.96 195.49,378.26 194.56,380.63 199.38,383.3" fill="#8caffe" stroke="#8caffe"/>
<polygon points="287.69,410.81 282.87,409.62 282.13,411.65 286.96,412.83" fill="#4c66d6" stroke="#4c66d6"/>
<polygon points="219.53,390.51 214.72,388.29 213.83,390.55 218.65,392.74" fill="#7699f6" stroke="#7699f6"/>
<polygon points="195.49,378.26 190.68,375.43 189.74,377.83 194.56,380.63" fill="#92b4fe" stroke="#92b4fe"/>
<polygon points="224.33,392.62 219.53,390.51 218.65,392.74 223.46,394.83" fill="#7295f4" stroke="#7295f4"/>
<polygon points="190.68,375.43 185.86,372.44 184.91,374.88 189.74,377.83" fill="#98b9ff" stroke="#98b9ff"/>
<polygon points="229.14,394.63 224.33,392.62 223.46,394.83 228.28,396.82" fill="#6e90f2" stroke="#6e90f2"/>
<polygon points="148.25,339.3 143.41,334.46 142.38,337.33 147.23,342.11" fill="#dfdbd9" stroke="#dfdbd9"/>
<polygon points="185.86,372.44 181.05,369.31 180.09,371.78 184.91,374.88" fill="#9fbfff" stroke="#9fbfff"/>
<polygon points="331.84,417.75 327,416.9 326.35,418.85 331.2,419.7" fill="#3f53c6" stroke="#3f53c6"/>
<polygon points="292.51,411.96 287.69,410.81 286.96,412.83 291.79,413.97" fill="#4a63d3" stroke="#4a63d3"/>
<polygon points="233.95,396.55 229.14,394.63 228.28,396.82 233.1,398.72" fill="#6a8bef" stroke="#6a8bef"/>
<polygon points="129.87,315.18 124.99,309.08 123.93,312.26 128.81,318.27" fill="#f7b99e" stroke="#f7b99e"/>
<polygon points="181.05,369.31 176.23,366 175.26,368.51 180.09,371.78" fill="#a6c4fe" stroke="#a6c4fe"/>
<polygon points="238.76,398.38 233.95,396.55 233.1,398.72 237.92,400.53" fill="#6687ed" stroke="#6687ed"/>
<polygon points="243.57,400.13 238.76,398.38 237.92,400.53 242.74,402.27" fill="#6282ea" stroke="#6282ea"/>
<polygon points="176.23,366 171.41,362.52 170.43,365.08 175.26,368.51" fill="#adc9fd" stroke="#adc9fd"/>
<polygon points="297.34,413.06 292.51,411.96 291.79,413.97 296.63,415.06" fill="#4961d2" stroke="#4961d2"/>
<polygon points="336.68,418.58 331.84,417.75 331.2,419.7 336.05,420.53" fill="#3e51c5" stroke="#3e51c5"/>
<polygon points="143.41,334.46 138.55,329.36 137.51,332.29 142.38,337.33" fill="#e7d7ce" stroke="#e7d7ce"/>
<polygon points="248.38,401.8 243.57,400.13 242.74,402.27 247.56,403.92" fill="#5f7fe8" stroke="#5f7fe8"/>
<polygon points="171.41,362.52 166.58,358.86 165.6,361.46 170.43,365.08" fill="#b5cdfa" stroke="#b5cdfa"/>
<polygon points="302.17,414.12 297.34,413.06 296.63,415.06 301.46,416.11" fill="#465ecf" stroke="#465ecf"/>
<polygon points="253.2,403.4 248.38,401.8 247.56,403.92 252.39,405.5" fill="#5b7ae5" stroke="#5b7ae5"/>
<polygon points="166.58,358.86 161.76,355 160.76,357.64 165.6,361.46" fill="#bcd2f7" stroke="#bcd2f7"/>
<polygon points="258.02,404.93 253.2,403.4 252.39,405.5 257.22,407.02" fill="#5977e3" stroke="#5977e3"/>
<polygon points="307,415.14 302.17,414.12 301.46,416.11 306.31,417.12" fill="#455cce" stroke="#455cce"/>
<polygon points="138.55,329.36 133.69,323.97 132.64,326.97 137.51,332.29" fill="#eed0c0" stroke="#eed0c0"/>
<polygon points="262.83,406.39 258.02,404.93 257.22,407.02 262.04,408.47" fill="#5673e0" stroke="#5673e0"/>
<polygon points="161.76,355 156.92,350.93 155.91,353.62 160.76,357.64" fill="#c5d6f2" stroke="#c5d6f2"/>
<polygon points="311.83,416.12 307,415.14 306.31,417.12 311.15,418.1" fill="#445acc" stroke="#445acc"/>
<polygon points="267.65,407.79 262.83,406.39 262.04,408.47 266.87,409.85" fill="#5470de" stroke="#5470de"/>
<polygon points="156.92,350.93 152.08,346.64 151.06,349.38 155.91,353.62" fill="#cdd9ec" stroke="#cdd9ec"/>
<polygon points="272.48,409.13 267.65,407.79 266.87,409.85 271.71,411.18" fill="#516ddb" stroke="#516ddb"/>
<polygon points="316.67,417.06 311.83,416.12 311.15,418.1 316,419.04" fill="#4358cb" stroke="#4358cb"/>
<polygon points="133.69,323.97 128.81,318.27 127.76,321.36 132.64,326.97" fill="#f3c8b2" stroke="#f3c8b2"/>
<polygon points="277.3,410.41 272.48,409.13 271.71,411.18 276.54,412.46" fill="#4f69d9" stroke="#4f69d9"/>
<polygon points="152.08,346.64 147.23,342.11 146.21,344.91 151.06,349.38" fill="#d5dbe5" stroke="#d5dbe5"/>
<polygon points="321.51,417.97 316.67,417.06 316,419.04 320.85,419.94" fill="#4055c8" stroke="#4055c8"/>
<polygon points="282.13,411.65 277.3,410.41 276.54,412.46 281.38,413.68" fill="#4e68d8" stroke="#4e68d8"/>
<polygon points="204.19,385.83 199.38,383.3 198.45,385.63 203.28,388.14" fill="#84a7fc" stroke="#84a7fc"/>
<polygon points="209.01,388.25 204.19,385.83 203.28,388.14 208.11,390.53" fill="#7ea1fa" stroke="#7ea1fa"/>
<polygon points="199.38,383.3 194.56,380.63 193.62,383 198.45,385.63" fill="#89acfd" stroke="#89acfd"/>
<polygon points="213.83,390.55 209.01,388.25 208.11,390.53 212.93,392.81" fill="#7a9df8" stroke="#7a9df8"/>
<polygon points="326.35,418.85 321.51,417.97 320.85,419.94 325.7,420.82" fill="#3f53c6" stroke="#3f53c6"/>
<polygon points="194.56,380.63 189.74,377.83 188.79,380.23 193.62,383" fill="#90b2fe" stroke="#90b2fe"/>
<polygon points="218.65,392.74 213.83,390.55 212.93,392.81 217.76,394.98" fill="#7597f6" stroke="#7597f6"/>
<polygon points="147.23,342.11 142.38,337.33 141.34,340.2 146.21,344.91" fill="#dddcdc" stroke="#dddcdc"/>
<polygon points="286.96,412.83 282.13,411.65 281.38,413.68 286.22,414.86" fill="#4b64d5" stroke="#4b64d5"/>
<polygon points="189.74,377.83 184.91,374.88 183.96,377.31 188.79,380.23" fill="#96b7ff" stroke="#96b7ff"/>
<polygon points="223.46,394.83 218.65,392.74 217.76,394.98 222.59,397.04" fill="#7093f3" stroke="#7093f3"/>
<polygon points="128.81,318.27 123.93,312.26 122.86,315.42 127.76,321.36" fill="#f6bda2" stroke="#f6bda2"/>
<polygon points="184.91,374.88 180.09,371.78 179.13,374.25 183.96,377.31" fill="#9dbdff" stroke="#9dbdff"/>
<polygon points="228.28,396.82 223.46,394.83 222.59,397.04 227.42,399.01" fill="#6c8ff1" stroke="#6c8ff1"/>
<polygon points="233.1,398.72 228.28,396.82 227.42,399.01 232.25,400.9" fill="#688aef" stroke="#688aef"/>
<polygon points="180.09,371.78 175.26,368.51 174.29,371.02 179.13,374.25" fill="#a3c2fe" stroke="#a3c2fe"/>
<polygon points="331.2,419.7 326.35,418.85 325.7,420.82 330.56,421.66" fill="#3e51c5" stroke="#3e51c5"/>
<polygon points="291.79,413.97 286.96,412.83 286.22,414.86 291.06,415.99" fill="#4a63d3" stroke="#4a63d3"/>
<polygon points="237.92,400.53 233.1,398.72 232.25,400.9 237.08,402.69" fill="#6485ec" stroke="#6485ec"/>
<polygon points="175.26,368.51 170.43,365.08 169.45,367.63 174.29,371.02" fill="#abc8fd" stroke="#abc8fd"/>
<polygon points="142.38,337.33 137.51,332.29 136.47,335.23 141.34,340.2" fill="#e5d8d1" stroke="#e5d8d1"/>
<polygon points="242.74,402.27 237.92,400.53 237.08,402.69 241.91,404.41" fill="#6282ea" stroke="#6282ea"/>
<polygon points="296.63,415.06 291.79,413.97 291.06,415.99 295.91,417.07" fill="#485fd1" stroke="#485fd1"/>
<polygon points="336.05,420.53 331.2,419.7 330.56,421.66 335.42,422.48" fill="#3e51c5" stroke="#3e51c5"/>
<polygon points="170.43,365.08 165.6,361.46 164.6,364.05 169.45,367.63" fill="#b3cdfb" stroke="#b3cdfb"/>
<polygon points="247.56,403.92 242.74,402.27 241.91,404.41 246.74,406.05" fill="#5e7de7" stroke="#5e7de7"/>
<polygon points="301.46,416.11 296.63,415.06 295.91,417.07 300.76,418.11" fill="#465ecf" stroke="#465ecf"/>
<polygon points="252.39,405.5 247.56,403.92 246.74,406.05 251.58,407.61" fill="#5b7ae5" stroke="#5b7ae5"/>
<polygon points="165.6,361.46 160.76,357.64 159.76,360.28 164.6,364.05" fill="#bbd1f8" stroke="#bbd1f8"/>
<polygon points="137.51,332.29 132.64,326.97 131.59,329.97 136.47,335.23" fill="#edd2c3" stroke="#edd2c3"/>
<polygon points="257.22,407.02 252.39,405.5 251.58,407.61 256.41,409.11" fill="#5977e3" stroke="#5977e3"/>
<polygon points="306.31,417.12 301.46,416.11 300.76,418.11 305.61,419.12" fill="#455cce" stroke="#455cce"/>
<polygon points="160.76,357.64 155.91,353.62 154.9,356.31 159.76,360.28" fill="#c3d5f4" stroke="#c3d5f4"/>
<polygon points="262.04,408.47 257.22,407.02 256.41,409.11 261.25,410.55" fill="#5673e0" stroke="#5673e0"/>
<polygon points="311.15,418.1 306.31,417.12 305.61,419.12 310.47,420.09" fill="#4358cb" stroke="#4358cb"/>
<polygon points="266.87,409.85 262.04,408.47 261.25,410.55 266.09,411.93" fill="#5470de" stroke="#5470de"/>
<polygon points="155.91,353.62 151.06,349.38 150.04,352.13 154.9,356.31" fill="#cbd8ee" stroke="#cbd8ee"/>
<polygon points="132.64,326.97 127.76,321.36 126.7,324.43 131.59,329.97" fill="#f2cab5" stroke="#f2cab5"/>
<polygon points="271.71,411.18 266.87,409.85 266.09,411.93 270.94,413.25" fill="#516ddb" stroke="#516ddb"/>
<polygon points="316,419.04 311.15,418.1 310.47,420.09 315.32,421.02" fill="#4257c9" stroke="#4257c9"/>
<polygon points="151.06,349.38 146.21,344.91 145.18,347.71 150.04,352.13" fill="#d3dbe7" stroke="#d3dbe7"/>
<polygon points="276.54,412.46 271.71,411.18 270.94,413.25 275.78,414.51" fill="#4f69d9" stroke="#4f69d9"/>
<polygon points="320.85,419.94 316,419.04 315.32,421.02 320.19,421.92" fill="#4055c8" stroke="#4055c8"/>
<polygon points="281.38,413.68 276.54,412.46 275.78,414.51 280.63,415.72" fill="#4c66d6" stroke="#4c66d6"/>
<polygon points="127.76,321.36 122.86,315.42 121.79,318.57 126.7,324.43" fill="#f5c0a7" stroke="#f5c0a7"/>
<polygon points="203.28,388.14 198.45,385.63 197.52,387.97 202.36,390.46" fill="#82a6fb" stroke="#82a6fb"/>
<polygon points="146.21,344.91 141.34,340.2 140.3,343.06 145.18,347.71" fill="#dbdcde" stroke="#dbdcde"/>
<polygon points="208.11,390.53 203.28,388.14 202.36,390.46 207.2,392.82" fill="#7ea1fa" stroke="#7ea1fa"/>
<polygon points="198.45,385.63 193.62,383 192.68,385.37 197.52,387.97" fill="#88abfd" stroke="#88abfd"/>
<polygon points="212.93,392.81 208.11,390.53 207.2,392.82 212.04,395.07" fill="#799cf8" stroke="#799cf8"/>
<polygon points="193.62,383 188.79,380.23 187.84,382.63 192.68,385.37" fill="#8fb1fe" stroke="#8fb1fe"/>
<polygon points="217.76,394.98 212.93,392.81 212.04,395.07 216.87,397.22" fill="#7597f6" stroke="#7597f6"/>
<polygon points="188.79,380.23 183.96,377.31 183,379.75 187.84,382.63" fill="#94b6ff" stroke="#94b6ff"/>
<polygon points="325.7,420.82 320.85,419.94 320.19,421.92 325.05,422.79" fill="#3f53c6" stroke="#3f53c6"/>
<polygon points="222.59,397.04 217.76,394.98 216.87,397.22 221.71,399.26" fill="#6f92f3" stroke="#6f92f3"/>
<polygon points="286.22,414.86 281.38,413.68 280.63,415.72 285.48,416.89" fill="#4b64d5" stroke="#4b64d5"/>
<polygon points="183.96,377.31 179.13,374.25 178.16,376.72 183,379.75" fill="#9bbcff" stroke="#9bbcff"/>
<polygon points="227.42,399.01 222.59,397.04 221.71,399.26 226.55,401.21" fill="#6b8df0" stroke="#6b8df0"/>
<polygon points="179.13,374.25 174.29,371.02 173.31,373.53 178.16,376.72" fill="#a2c1ff" stroke="#a2c1ff"/>
<polygon points="232.25,400.9 227.42,399.01 226.55,401.21 231.39,403.07" fill="#6788ee" stroke="#6788ee"/>
<polygon points="141.34,340.2 136.47,335.23 135.42,338.15 140.3,343.06" fill="#e3d9d3" stroke="#e3d9d3"/>
<polygon points="291.06,415.99 286.22,414.86 285.48,416.89 290.33,418.01" fill="#4961d2" stroke="#4961d2"/>
<polygon points="330.56,421.66 325.7,420.82 325.05,422.79 329.92,423.63" fill="#3e51c5" stroke="#3e51c5"/>
<polygon points="174.29,371.02 169.45,367.63 168.46,370.17 173.31,373.53" fill="#a9c6fd" stroke="#a9c6fd"/>
<polygon points="237.08,402.69 232.25,400.9 231.39,403.07 236.23,404.85" fill="#6485ec" stroke="#6485ec"/>
<polygon points="241.91,404.41 237.08,402.69 236.23,404.85 241.07,406.55" fill="#6180e9" stroke="#6180e9"/>
<polygon points="169.45,367.63 164.6,364.05 163.61,366.64 168.46,370.17" fill="#b1cbfc" stroke="#b1cbfc"/>
<polygon points="295.91,417.07 291.06,415.99 290.33,418.01 295.19,419.09" fill="#485fd1" stroke="#485fd1"/>
<polygon points="335.42,422.48 330.56,421.66 329.92,423.63 334.79,424.44" fill="#3d50c3" stroke="#3d50c3"/>
<polygon points="246.74,406.05 241.91,404.41 241.07,406.55 245.91,408.18" fill="#5e7de7" stroke="#5e7de7"/>
<polygon points="164.6,364.05 159.76,360.28 158.75,362.92 163.61,366.64" fill="#b9d0f9" stroke="#b9d0f9"/>
<polygon points="136.47,335.23 131.59,329.97 130.53,332.97 135.42,338.15" fill="#ead4c8" stroke="#ead4c8"/>
<polygon points="251.58,407.61 246.74,406.05 245.91,408.18 250.76,409.73" fill="#5a78e4" stroke="#5a78e4"/>
<polygon points="300.76,418.11 295.91,417.07 295.19,419.09 300.05,420.12" fill="#465ecf" stroke="#465ecf"/>
<polygon points="159.76,360.28 154.9,356.31 153.89,359 158.75,362.92" fill="#c0d4f5" stroke="#c0d4f5"/>
<polygon points="256.41,409.11 251.58,407.61 250.76,409.73 255.61,411.22" fill="#5875e1" stroke="#5875e1"/>
<polygon points="305.61,419.12 300.76,418.11 300.05,420.12 304.91,421.12" fill="#445acc" stroke="#445acc"/>
<polygon points="261.25,410.55 256.41,409.11 255.61,411.22 260.46,412.64" fill="#5572df" stroke="#5572df"/>
<polygon points="154.9,356.31 150.04,352.13 149.02,354.87 153.89,359" fill="#c9d7f0" stroke="#c9d7f0"/>
<polygon points="131.59,329.97 126.7,324.43 125.63,327.49 130.53,332.97" fill="#f1cdba" stroke="#f1cdba"/>
<polygon points="310.47,420.09 305.61,419.12 304.91,421.12 309.78,422.08" fill="#4358cb" stroke="#4358cb"/>
<polygon points="266.09,411.93 261.25,410.55 260.46,412.64 265.31,414" fill="#536edd" stroke="#536edd"/>
<polygon points="150.04,352.13 145.18,347.71 144.14,350.51 149.02,354.87" fill="#d1dae9" stroke="#d1dae9"/>
<polygon points="270.94,413.25 266.09,411.93 265.31,414 270.16,415.31" fill="#506bda" stroke="#506bda"/>
<polygon points="315.32,421.02 310.47,420.09 309.78,422.08 314.65,423.01" fill="#4257c9" stroke="#4257c9"/>
<polygon points="275.78,414.51 270.94,413.25 270.16,415.31 275.02,416.57" fill="#4f69d9" stroke="#4f69d9"/>
<polygon points="126.7,324.43 121.79,318.57 120.72,321.72 125.63,327.49" fill="#f5c2aa" stroke="#f5c2aa"/>
<polygon points="145.18,347.71 140.3,343.06 139.26,345.91 144.14,350.51" fill="#d9dce1" stroke="#d9dce1"/>
<polygon points="320.19,421.92 315.32,421.02 314.65,423.01 319.52,423.9" fill="#4055c8" stroke="#4055c8"/>
<polygon points="202.36,390.46 197.52,387.97 196.59,390.32 201.44,392.77" fill="#81a4fb" stroke="#81a4fb"/>
<polygon points="280.63,415.72 275.78,414.51 275.02,416.57 279.88,417.77" fill="#4c66d6" stroke="#4c66d6"/>
<polygon points="197.52,387.97 192.68,385.37 191.74,387.74 196.59,390.32" fill="#86a9fc" stroke="#86a9fc"/>
<polygon points="207.2,392.82 202.36,390.46 201.44,392.77 206.29,395.11" fill="#7da0f9" stroke="#7da0f9"/>
<polygon points="192.68,385.37 187.84,382.63 186.89,385.03 191.74,387.74" fill="#8db0fe" stroke="#8db0fe"/>
<polygon points="212.04,395.07 207.2,392.82 206.29,395.11 211.13,397.34" fill="#779af7" stroke="#779af7"/>
<polygon points="187.84,382.63 183,379.75 182.04,382.18 186.89,385.03" fill="#93b5fe" stroke="#93b5fe"/>
<polygon points="216.87,397.22 212.04,395.07 211.13,397.34 215.98,399.46" fill="#7396f5" stroke="#7396f5"/>
<polygon points="183,379.75 178.16,376.72 177.19,379.19 182.04,382.18" fill="#9abbff" stroke="#9abbff"/>
<polygon points="221.71,399.26 216.87,397.22 215.98,399.46 220.83,401.48" fill="#6f92f3" stroke="#6f92f3"/>
<polygon points="325.05,422.79 320.19,421.92 319.52,423.9 324.39,424.77" fill="#3f53c6" stroke="#3f53c6"/>
<polygon points="285.48,416.89 280.63,415.72 279.88,417.77 284.74,418.93" fill="#4a63d3" stroke="#4a63d3"/>
<polygon points="178.16,376.72 173.31,373.53 172.33,376.04 177.19,379.19" fill="#a1c0ff" stroke="#a1c0ff"/>
<polygon points="226.55,401.21 221.71,399.26 220.83,401.48 225.68,403.41" fill="#6b8df0" stroke="#6b8df0"/>
<polygon points="140.3,343.06 135.42,338.15 134.37,341.07 139.26,345.91" fill="#e1dad6" stroke="#e1dad6"/>
<polygon points="231.39,403.07 226.55,401.21 225.68,403.41 230.53,405.26" fill="#6788ee" stroke="#6788ee"/>
<polygon points="173.31,373.53 168.46,370.17 167.47,372.72 172.33,376.04" fill="#a7c5fe" stroke="#a7c5fe"/>
<polygon points="290.33,418.01 285.48,416.89 284.74,418.93 289.6,420.04" fill="#4961d2" stroke="#4961d2"/>
<polygon points="329.92,423.63 325.05,422.79 324.39,424.77 329.27,425.6" fill="#3e51c5" stroke="#3e51c5"/>
<polygon points="236.23,404.85 231.39,403.07 230.53,405.26 235.38,407.02" fill="#6384eb" stroke="#6384eb"/>
<polygon points="168.46,370.17 163.61,366.64 162.61,369.23 167.47,372.72" fill="#afcafc" stroke="#afcafc"/>
<polygon points="241.07,406.55 236.23,404.85 235.38,407.02 240.23,408.7" fill="#5f7fe8" stroke="#5f7fe8"/>
<polygon points="295.19,419.09 290.33,418.01 289.6,420.04 294.47,421.11" fill="#485fd1" stroke="#485fd1"/>
<polygon points="135.42,338.15 130.53,332.97 129.47,335.95 134.37,341.07" fill="#e9d5cb" stroke="#e9d5cb"/>
<polygon points="163.61,366.64 158.75,362.92 157.74,365.55 162.61,369.23" fill="#b6cefa" stroke="#b6cefa"/>
<polygon points="245.91,408.18 241.07,406.55 240.23,408.7 245.08,410.31" fill="#5d7ce6" stroke="#5d7ce6"/>
<polygon points="334.79,424.44 329.92,423.63 329.27,425.6 334.15,426.41" fill="#3d50c3" stroke="#3d50c3"/>
<polygon points="250.76,409.73 245.91,408.18 245.08,410.31 249.94,411.85" fill="#5a78e4" stroke="#5a78e4"/>
<polygon points="300.05,420.12 295.19,419.09 294.47,421.11 299.34,422.14" fill="#455cce" stroke="#455cce"/>
<polygon points="158.75,362.92 153.89,359 152.87,361.68 157.74,365.55" fill="#bfd3f6" stroke="#bfd3f6"/>
<polygon points="255.61,411.22 250.76,409.73 249.94,411.85 254.8,413.32" fill="#5875e1" stroke="#5875e1"/>
<polygon points="130.53,332.97 125.63,327.49 124.56,330.55 129.47,335.95" fill="#efcebd" stroke="#efcebd"/>
<polygon points="304.91,421.12 300.05,420.12 299.34,422.14 304.21,423.13" fill="#445acc" stroke="#445acc"/>
<polygon points="153.89,359 149.02,354.87 147.99,357.6 152.87,361.68" fill="#c6d6f1" stroke="#c6d6f1"/>
<polygon points="260.46,412.64 255.61,411.22 254.8,413.32 259.66,414.74" fill="#5572df" stroke="#5572df"/>
<polygon points="265.31,414 260.46,412.64 259.66,414.74 264.52,416.09" fill="#536edd" stroke="#536edd"/>
<polygon points="309.78,422.08 304.91,421.12 304.21,423.13 309.09,424.08" fill="#4358cb" stroke="#4358cb"/>
<polygon points="149.02,354.87 144.14,350.51 143.1,353.3 147.99,357.6" fill="#cedaeb" stroke="#cedaeb"/>
<polygon points="270.16,415.31 265.31,414 264.52,416.09 269.38,417.38" fill="#506bda" stroke="#506bda"/>
<polygon points="125.63,327.49 120.72,321.72 119.64,324.85 124.56,330.55" fill="#f4c6af" stroke="#f4c6af"/>
<polygon points="314.65,423.01 309.78,422.08 309.09,424.08 313.97,425" fill="#4257c9" stroke="#4257c9"/>
<polygon points="144.14,350.51 139.26,345.91 138.21,348.76 143.1,353.3" fill="#d7dce3" stroke="#d7dce3"/>
<polygon points="275.02,416.57 270.16,415.31 269.38,417.38 274.25,418.63" fill="#4e68d8" stroke="#4e68d8"/>
<polygon points="319.52,423.9 314.65,423.01 313.97,425 318.85,425.89" fill="#4055c8" stroke="#4055c8"/>
<polygon points="196.59,390.32 191.74,387.74 190.8,390.11 195.65,392.66" fill="#85a8fc" stroke="#85a8fc"/>
<polygon points="201.44,392.77 196.59,390.32 195.65,392.66 200.51,395.09" fill="#80a3fa" stroke="#80a3fa"/>
<polygon points="206.29,395.11 201.44,392.77 200.51,395.09 205.37,397.4" fill="#7b9ff9" stroke="#7b9ff9"/>
<polygon points="191.74,387.74 186.89,385.03 185.94,387.43 190.8,390.11" fill="#8badfd" stroke="#8badfd"/>
<polygon points="211.13,397.34 206.29,395.11 205.37,397.4 210.23,399.6" fill="#7699f6" stroke="#7699f6"/>
<polygon points="279.88,417.77 275.02,416.57 274.25,418.63 279.12,419.82" fill="#4c66d6" stroke="#4c66d6"/>
<polygon points="186.89,385.03 182.04,382.18 181.07,384.62 185.94,387.43" fill="#92b4fe" stroke="#92b4fe"/>
<polygon points="215.98,399.46 211.13,397.34 210.23,399.6 215.09,401.7" fill="#7295f4" stroke="#7295f4"/>
<polygon points="182.04,382.18 177.19,379.19 176.21,381.66 181.07,384.62" fill="#97b8ff" stroke="#97b8ff"/>
<polygon points="139.26,345.91 134.37,341.07 133.31,343.98 138.21,348.76" fill="#dedcdb" stroke="#dedcdb"/>
<polygon points="220.83,401.48 215.98,399.46 215.09,401.7 219.94,403.71" fill="#6e90f2" stroke="#6e90f2"/>
<polygon points="177.19,379.19 172.33,376.04 171.34,378.54 176.21,381.66" fill="#9ebeff" stroke="#9ebeff"/>
<polygon points="324.39,424.77 319.52,423.9 318.85,425.89 323.73,426.75" fill="#3f53c6" stroke="#3f53c6"/>
<polygon points="225.68,403.41 220.83,401.48 219.94,403.71 224.8,405.62" fill="#6a8bef" stroke="#6a8bef"/>
<polygon points="284.74,418.93 279.88,417.77 279.12,419.82 283.99,420.97" fill="#4a63d3" stroke="#4a63d3"/>
<polygon points="172.33,376.04 167.47,372.72 166.47,375.27 171.34,378.54" fill="#a6c4fe" stroke="#a6c4fe"/>
<polygon points="230.53,405.26 225.68,403.41 224.8,405.62 229.66,407.45" fill="#6687ed" stroke="#6687ed"/>
<polygon points="167.47,372.72 162.61,369.23 161.6,371.82 166.47,375.27" fill="#adc9fd" stroke="#adc9fd"/>
<polygon points="235.38,407.02 230.53,405.26 229.66,407.45 234.52,409.19" fill="#6282ea" stroke="#6282ea"/>
<polygon points="289.6,420.04 284.74,418.93 283.99,420.97 288.86,422.07" fill="#4961d2" stroke="#4961d2"/>
<polygon points="329.27,425.6 324.39,424.77 323.73,426.75 328.62,427.59" fill="#3e51c5" stroke="#3e51c5"/>
<polygon points="134.37,341.07 129.47,335.95 128.41,338.93 133.31,343.98" fill="#e7d7ce" stroke="#e7d7ce"/>
<polygon points="240.23,408.7 235.38,407.02 234.52,409.19 239.39,410.86" fill="#5f7fe8" stroke="#5f7fe8"/>
<polygon points="162.61,369.23 157.74,365.55 156.72,368.19 161.6,371.82" fill="#b5cdfa" stroke="#b5cdfa"/>
<polygon points="294.47,421.11 289.6,420.04 288.86,422.07 293.74,423.14" fill="#465ecf" stroke="#465ecf"/>
<polygon points="245.08,410.31 240.23,408.7 239.39,410.86 244.25,412.45" fill="#5d7ce6" stroke="#5d7ce6"/>
<polygon points="334.15,426.41 329.27,425.6 328.62,427.59 333.52,428.39" fill="#3d50c3" stroke="#3d50c3"/>
<polygon points="157.74,365.55 152.87,361.68 151.84,364.36 156.72,368.19" fill="#bcd2f7" stroke="#bcd2f7"/>
<polygon points="249.94,411.85 245.08,410.31 244.25,412.45 249.12,413.98" fill="#5977e3" stroke="#5977e3"/>
<polygon points="299.34,422.14 294.47,421.11 293.74,423.14 298.62,424.16" fill="#455cce" stroke="#455cce"/>
<polygon points="129.47,335.95 124.56,330.55 123.49,333.6 128.41,338.93" fill="#edd1c2" stroke="#edd1c2"/>
<polygon points="254.8,413.32 249.94,411.85 249.12,413.98 253.98,415.44" fill="#5673e0" stroke="#5673e0"/>
<polygon points="152.87,361.68 147.99,357.6 146.95,360.33 151.84,364.36" fill="#c4d5f3" stroke="#c4d5f3"/>
<polygon points="304.21,423.13 299.34,422.14 298.62,424.16 303.51,425.14" fill="#445acc" stroke="#445acc"/>
<polygon points="259.66,414.74 254.8,413.32 253.98,415.44 258.85,416.84" fill="#5470de" stroke="#5470de"/>
<polygon points="147.99,357.6 143.1,353.3 142.06,356.08 146.95,360.33" fill="#ccd9ed" stroke="#ccd9ed"/>
<polygon points="264.52,416.09 259.66,414.74 258.85,416.84 263.73,418.18" fill="#516ddb" stroke="#516ddb"/>
<polygon points="309.09,424.08 304.21,423.13 303.51,425.14 308.39,426.09" fill="#4358cb" stroke="#4358cb"/>
<polygon points="124.56,330.55 119.64,324.85 118.56,327.97 123.49,333.6" fill="#f3c8b2" stroke="#f3c8b2"/>
<polygon points="269.38,417.38 264.52,416.09 263.73,418.18 268.6,419.46" fill="#4f69d9" stroke="#4f69d9"/>
<polygon points="143.1,353.3 138.21,348.76 137.16,351.6 142.06,356.08" fill="#d5dbe5" stroke="#d5dbe5"/>
<polygon points="313.97,425 309.09,424.08 308.39,426.09 313.28,427.01" fill="#4055c8" stroke="#4055c8"/>
<polygon points="274.25,418.63 269.38,417.38 268.6,419.46 273.48,420.7" fill="#4e68d8" stroke="#4e68d8"/>
<polygon points="195.65,392.66 190.8,390.11 189.84,392.49 194.71,395.01" fill="#84a7fc" stroke="#84a7fc"/>
<polygon points="200.51,395.09 195.65,392.66 194.71,395.01 199.58,397.41" fill="#7ea1fa" stroke="#7ea1fa"/>
<polygon points="190.8,390.11 185.94,387.43 184.97,389.84 189.84,392.49" fill="#89acfd" stroke="#89acfd"/>
<polygon points="205.37,397.4 200.51,395.09 199.58,397.41 204.45,399.69" fill="#7a9df8" stroke="#7a9df8"/>
<polygon points="185.94,387.43 181.07,384.62 180.1,387.05 184.97,389.84" fill="#90b2fe" stroke="#90b2fe"/>
<polygon points="318.85,425.89 313.97,425 313.28,427.01 318.18,427.89" fill="#3f53c6" stroke="#3f53c6"/>
<polygon points="138.21,348.76 133.31,343.98 132.25,346.88 137.16,351.6" fill="#dcdddd" stroke="#dcdddd"/>
<polygon points="210.23,399.6 205.37,397.4 204.45,399.69 209.32,401.88" fill="#7597f6" stroke="#7597f6"/>
<polygon points="181.07,384.62 176.21,381.66 175.23,384.13 180.1,387.05" fill="#96b7ff" stroke="#96b7ff"/>
<polygon points="279.12,419.82 274.25,418.63 273.48,420.7 278.36,421.88" fill="#4b64d5" stroke="#4b64d5"/>
<polygon points="215.09,401.7 210.23,399.6 209.32,401.88 214.19,403.95" fill="#7093f3" stroke="#7093f3"/>
<polygon points="176.21,381.66 171.34,378.54 170.35,381.05 175.23,384.13" fill="#9dbdff" stroke="#9dbdff"/>
<polygon points="219.94,403.71 215.09,401.7 214.19,403.95 219.05,405.94" fill="#6c8ff1" stroke="#6c8ff1"/>
<polygon points="224.8,405.62 219.94,403.71 219.05,405.94 223.92,407.83" fill="#688aef" stroke="#688aef"/>
<polygon points="171.34,378.54 166.47,375.27 165.47,377.81 170.35,381.05" fill="#a3c2fe" stroke="#a3c2fe"/>
<polygon points="323.73,426.75 318.85,425.89 318.18,427.89 323.07,428.75" fill="#3e51c5" stroke="#3e51c5"/>
<polygon points="283.99,420.97 279.12,419.82 278.36,421.88 283.24,423.02" fill="#4a63d3" stroke="#4a63d3"/>
<polygon points="229.66,407.45 224.8,405.62 223.92,407.83 228.79,409.64" fill="#6485ec" stroke="#6485ec"/>
<polygon points="166.47,375.27 161.6,371.82 160.59,374.4 165.47,377.81" fill="#abc8fd" stroke="#abc8fd"/>
<polygon points="133.31,343.98 128.41,338.93 127.34,341.89 132.25,346.88" fill="#e4d9d2" stroke="#e4d9d2"/>
<polygon points="234.52,409.19 229.66,407.45 228.79,409.64 233.67,411.37" fill="#6282ea" stroke="#6282ea"/>
<polygon points="288.86,422.07 283.99,420.97 283.24,423.02 288.12,424.12" fill="#485fd1" stroke="#485fd1"/>
<polygon points="161.6,371.82 156.72,368.19 155.7,370.82 160.59,374.4" fill="#b2ccfb" stroke="#b2ccfb"/>
<polygon points="328.62,427.59 323.73,426.75 323.07,428.75 327.97,429.57" fill="#3e51c5" stroke="#3e51c5"/>
<polygon points="239.39,410.86 234.52,409.19 233.67,411.37 238.54,413.02" fill="#5e7de7" stroke="#5e7de7"/>
<polygon points="156.72,368.19 151.84,364.36 150.81,367.04 155.7,370.82" fill="#bad0f8" stroke="#bad0f8"/>
<polygon points="293.74,423.14 288.86,422.07 288.12,424.12 293.01,425.17" fill="#465ecf" stroke="#465ecf"/>
<polygon points="244.25,412.45 239.39,410.86 238.54,413.02 243.41,414.6" fill="#5b7ae5" stroke="#5b7ae5"/>
<polygon points="333.52,428.39 328.62,427.59 327.97,429.57 332.88,430.37" fill="#3d50c3" stroke="#3d50c3"/>
<polygon points="128.41,338.93 123.49,333.6 122.41,336.64 127.34,341.89" fill="#ecd3c5" stroke="#ecd3c5"/>
<polygon points="249.12,413.98 244.25,412.45 243.41,414.6 248.29,416.11" fill="#5977e3" stroke="#5977e3"/>
<polygon points="151.84,364.36 146.95,360.33 145.92,363.06 150.81,367.04" fill="#c3d5f4" stroke="#c3d5f4"/>
<polygon points="298.62,424.16 293.74,423.14 293.01,425.17 297.9,426.19" fill="#455cce" stroke="#455cce"/>
<polygon points="253.98,415.44 249.12,413.98 248.29,416.11 253.17,417.56" fill="#5673e0" stroke="#5673e0"/>
<polygon points="146.95,360.33 142.06,356.08 141.01,358.86 145.92,363.06" fill="#cbd8ee" stroke="#cbd8ee"/>
<polygon points="303.51,425.14 298.62,424.16 297.9,426.19 302.8,427.16" fill="#4358cb" stroke="#4358cb"/>
<polygon points="258.85,416.84 253.98,415.44 253.17,417.56 258.05,418.94" fill="#5470de" stroke="#5470de"/>
<polygon points="123.49,333.6 118.56,327.97 117.47,331.08 122.41,336.64" fill="#f2cbb7" stroke="#f2cbb7"/>
<polygon points="263.73,418.18 258.85,416.84 258.05,418.94 262.93,420.27" fill="#516ddb" stroke="#516ddb"/>
<polygon points="308.39,426.09 303.51,425.14 302.8,427.16 307.7,428.11" fill="#4257c9" stroke="#4257c9"/>
<polygon points="142.06,356.08 137.16,351.6 136.1,354.44 141.01,358.86" fill="#d3dbe7" stroke="#d3dbe7"/>
<polygon points="268.6,419.46 263.73,418.18 262.93,420.27 267.82,421.55" fill="#4f69d9" stroke="#4f69d9"/>
<polygon points="313.28,427.01 308.39,426.09 307.7,428.11 312.6,429.02" fill="#4055c8" stroke="#4055c8"/>
<polygon points="273.48,420.7 268.6,419.46 267.82,421.55 272.7,422.77" fill="#4c66d6" stroke="#4c66d6"/>
<polygon points="137.16,351.6 132.25,346.88 131.19,349.78 136.1,354.44" fill="#dadce0" stroke="#dadce0"/>
<polygon points="194.71,395.01 189.84,392.49 188.89,394.86 193.77,397.35" fill="#82a6fb" stroke="#82a6fb"/>
<polygon points="189.84,392.49 184.97,389.84 184.01,392.24 188.89,394.86" fill="#88abfd" stroke="#88abfd"/>
<polygon points="199.58,397.41 194.71,395.01 193.77,397.35 198.65,399.73" fill="#7da0f9" stroke="#7da0f9"/>
<polygon points="184.97,389.84 180.1,387.05 179.13,389.49 184.01,392.24" fill="#8fb1fe" stroke="#8fb1fe"/>
<polygon points="204.45,399.69 199.58,397.41 198.65,399.73 203.53,401.99" fill="#799cf8" stroke="#799cf8"/>
<polygon points="209.32,401.88 204.45,399.69 203.53,401.99 208.4,404.15" fill="#7396f5" stroke="#7396f5"/>
<polygon points="180.1,387.05 175.23,384.13 174.24,386.6 179.13,389.49" fill="#94b6ff" stroke="#94b6ff"/>
<polygon points="318.18,427.89 313.28,427.01 312.6,429.02 317.5,429.9" fill="#3f53c6" stroke="#3f53c6"/>
<polygon points="214.19,403.95 209.32,401.88 208.4,404.15 213.28,406.21" fill="#6f92f3" stroke="#6f92f3"/>
<polygon points="175.23,384.13 170.35,381.05 169.36,383.56 174.24,386.6" fill="#9bbcff" stroke="#9bbcff"/>
<polygon points="278.36,421.88 273.48,420.7 272.7,422.77 277.59,423.95" fill="#4b64d5" stroke="#4b64d5"/>
<polygon points="219.05,405.94 214.19,403.95 213.28,406.21 218.16,408.17" fill="#6b8df0" stroke="#6b8df0"/>
<polygon points="170.35,381.05 165.47,377.81 164.47,380.36 169.36,383.56" fill="#a2c1ff" stroke="#a2c1ff"/>
<polygon points="223.92,407.83 219.05,405.94 218.16,408.17 223.04,410.05" fill="#6788ee" stroke="#6788ee"/>
<polygon points="132.25,346.88 127.34,341.89 126.26,344.86 131.19,349.78" fill="#e2dad5" stroke="#e2dad5"/>
<polygon points="283.24,423.02 278.36,421.88 277.59,423.95 282.49,425.08" fill="#4961d2" stroke="#4961d2"/>
<polygon points="165.47,377.81 160.59,374.4 159.58,376.99 164.47,380.36" fill="#a9c6fd" stroke="#a9c6fd"/>
<polygon points="323.07,428.75 318.18,427.89 317.5,429.9 322.41,430.75" fill="#3e51c5" stroke="#3e51c5"/>
<polygon points="228.79,409.64 223.92,407.83 223.04,410.05 227.92,411.84" fill="#6485ec" stroke="#6485ec"/>
<polygon points="160.59,374.4 155.7,370.82 154.68,373.45 159.58,376.99" fill="#b1cbfc" stroke="#b1cbfc"/>
<polygon points="233.67,411.37 228.79,409.64 227.92,411.84 232.8,413.55" fill="#6180e9" stroke="#6180e9"/>
<polygon points="288.12,424.12 283.24,423.02 282.49,425.08 287.38,426.17" fill="#485fd1" stroke="#485fd1"/>
<polygon points="327.97,429.57 323.07,428.75 322.41,430.75 327.32,431.57" fill="#3d50c3" stroke="#3d50c3"/>
<polygon points="238.54,413.02 233.67,411.37 232.8,413.55 237.69,415.18" fill="#5e7de7" stroke="#5e7de7"/>
<polygon points="155.7,370.82 150.81,367.04 149.78,369.71 154.68,373.45" fill="#b9d0f9" stroke="#b9d0f9"/>
<polygon points="127.34,341.89 122.41,336.64 121.33,339.66 126.26,344.86" fill="#ead4c8" stroke="#ead4c8"/>
<polygon points="243.41,414.6 238.54,413.02 237.69,415.18 242.57,416.75" fill="#5a78e4" stroke="#5a78e4"/>
<polygon points="293.01,425.17 288.12,424.12 287.38,426.17 292.28,427.21" fill="#465ecf" stroke="#465ecf"/>
<polygon points="332.88,430.37 327.97,429.57 327.32,431.57 332.23,432.36" fill="#3c4ec2" stroke="#3c4ec2"/>
<polygon points="150.81,367.04 145.92,363.06 144.87,365.78 149.78,369.71" fill="#c0d4f5" stroke="#c0d4f5"/>
<polygon points="248.29,416.11 243.41,414.6 242.57,416.75 247.46,418.25" fill="#5875e1" stroke="#5875e1"/>
<polygon points="297.9,426.19 293.01,425.17 292.28,427.21 297.18,428.22" fill="#445acc" stroke="#445acc"/>
<polygon points="253.17,417.56 248.29,416.11 247.46,418.25 252.35,419.68" fill="#5572df" stroke="#5572df"/>
<polygon points="145.92,363.06 141.01,358.86 139.96,361.64 144.87,365.78" fill="#c9d7f0" stroke="#c9d7f0"/>
<polygon points="122.41,336.64 117.47,331.08 116.38,334.19 121.33,339.66" fill="#f1cdba" stroke="#f1cdba"/>
<polygon points="302.8,427.16 297.9,426.19 297.18,428.22 302.09,429.19" fill="#4358cb" stroke="#4358cb"/>
<polygon points="258.05,418.94 253.17,417.56 252.35,419.68 257.24,421.06" fill="#536edd" stroke="#536edd"/>
<polygon points="141.01,358.86 136.1,354.44 135.04,357.27 139.96,361.64" fill="#d1dae9" stroke="#d1dae9"/>
<polygon points="262.93,420.27 258.05,418.94 257.24,421.06 262.13,422.37" fill="#506bda" stroke="#506bda"/>
<polygon points="307.7,428.11 302.8,427.16 302.09,429.19 307,430.13" fill="#4257c9" stroke="#4257c9"/>
<polygon points="267.82,421.55 262.93,420.27 262.13,422.37 267.03,423.64" fill="#4f69d9" stroke="#4f69d9"/>
<polygon points="136.1,354.44 131.19,349.78 130.12,352.67 135.04,357.27" fill="#d8dce2" stroke="#d8dce2"/>
<polygon points="312.6,429.02 307.7,428.11 307,430.13 311.91,431.03" fill="#4055c8" stroke="#4055c8"/>
<polygon points="193.77,397.35 188.89,394.86 187.93,397.24 192.82,399.7" fill="#81a4fb" stroke="#81a4fb"/>
<polygon points="188.89,394.86 184.01,392.24 183.04,394.65 187.93,397.24" fill="#86a9fc" stroke="#86a9fc"/>
<polygon points="198.65,399.73 193.77,397.35 192.82,399.7 197.71,402.05" fill="#7da0f9" stroke="#7da0f9"/>
<polygon points="272.7,422.77 267.82,421.55 267.03,423.64 271.93,424.85" fill="#4c66d6" stroke="#4c66d6"/>
<polygon points="184.01,392.24 179.13,389.49 178.15,391.93 183.04,394.65" fill="#8caffe" stroke="#8caffe"/>
<polygon points="203.53,401.99 198.65,399.73 197.71,402.05 202.6,404.29" fill="#779af7" stroke="#779af7"/>
<polygon points="179.13,389.49 174.24,386.6 173.26,389.07 178.15,391.93" fill="#93b5fe" stroke="#93b5fe"/>
<polygon points="208.4,404.15 203.53,401.99 202.6,404.29 207.49,406.43" fill="#7396f5" stroke="#7396f5"/>
<polygon points="174.24,386.6 169.36,383.56 168.36,386.06 173.26,389.07" fill="#9abbff" stroke="#9abbff"/>
<polygon points="213.28,406.21 208.4,404.15 207.49,406.43 212.37,408.46" fill="#6f92f3" stroke="#6f92f3"/>
<polygon points="317.5,429.9 312.6,429.02 311.91,431.03 316.82,431.91" fill="#3f53c6" stroke="#3f53c6"/>
<polygon points="277.59,423.95 272.7,422.77 271.93,424.85 276.83,426.02" fill="#4a63d3" stroke="#4a63d3"/>
<polygon points="131.19,349.78 126.26,344.86 125.18,347.81 130.12,352.67" fill="#e0dbd8" stroke="#e0dbd8"/>
<polygon points="169.36,383.56 164.47,380.36 163.46,382.9 168.36,386.06" fill="#a1c0ff" stroke="#a1c0ff"/>
<polygon points="218.16,408.17 213.28,406.21 212.37,408.46 217.26,410.41" fill="#6b8df0" stroke="#6b8df0"/>
<polygon points="223.04,410.05 218.16,408.17 217.26,410.41 222.15,412.26" fill="#6788ee" stroke="#6788ee"/>
<polygon points="164.47,380.36 159.58,376.99 158.56,379.57 163.46,382.9" fill="#a7c5fe" stroke="#a7c5fe"/>
<polygon points="282.49,425.08 277.59,423.95 276.83,426.02 281.73,427.14" fill="#4961d2" stroke="#4961d2"/>
<polygon points="227.92,411.84 223.04,410.05 222.15,412.26 227.04,414.04" fill="#6384eb" stroke="#6384eb"/>
<polygon points="322.41,430.75 317.5,429.9 316.82,431.91 321.74,432.75" fill="#3e51c5" stroke="#3e51c5"/>
<polygon points="159.58,376.99 154.68,373.45 153.65,376.07 158.56,379.57" fill="#aec9fc" stroke="#aec9fc"/>
<polygon points="232.8,413.55 227.92,411.84 227.04,414.04 231.94,415.73" fill="#5f7fe8" stroke="#5f7fe8"/>
<polygon points="126.26,344.86 121.33,339.66 120.24,342.69 125.18,347.81" fill="#e8d6cc" stroke="#e8d6cc"/>
<polygon points="154.68,373.45 149.78,369.71 148.74,372.38 153.65,376.07" fill="#b6cefa" stroke="#b6cefa"/>
<polygon points="287.38,426.17 282.49,425.08 281.73,427.14 286.64,428.22" fill="#485fd1" stroke="#485fd1"/>
<polygon points="237.69,415.18 232.8,413.55 231.94,415.73 236.83,417.35" fill="#5d7ce6" stroke="#5d7ce6"/>
<polygon points="327.32,431.57 322.41,430.75 321.74,432.75 326.66,433.57" fill="#3d50c3" stroke="#3d50c3"/>
<polygon points="242.57,416.75 237.69,415.18 236.83,417.35 241.73,418.9" fill="#5a78e4" stroke="#5a78e4"/>
<polygon points="149.78,369.71 144.87,365.78 143.83,368.5 148.74,372.38" fill="#bed2f6" stroke="#bed2f6"/>
<polygon points="292.28,427.21 287.38,426.17 286.64,428.22 291.55,429.26" fill="#455cce" stroke="#455cce"/>
<polygon points="332.23,432.36 327.32,431.57 326.66,433.57 331.59,434.36" fill="#3c4ec2" stroke="#3c4ec2"/>
<polygon points="247.46,418.25 242.57,416.75 241.73,418.9 246.62,420.39" fill="#5875e1" stroke="#5875e1"/>
<polygon points="121.33,339.66 116.38,334.19 115.28,337.28 120.24,342.69" fill="#efcfbf" stroke="#efcfbf"/>
<polygon points="144.87,365.78 139.96,361.64 138.91,364.41 143.83,368.5" fill="#c6d6f1" stroke="#c6d6f1"/>
<polygon points="297.18,428.22 292.28,427.21 291.55,429.26 296.46,430.26" fill="#445acc" stroke="#445acc"/>
<polygon points="252.35,419.68 247.46,418.25 246.62,420.39 251.52,421.81" fill="#5572df" stroke="#5572df"/>
<polygon points="257.24,421.06 252.35,419.68 251.52,421.81 256.42,423.17" fill="#536edd" stroke="#536edd"/>
<polygon points="139.96,361.64 135.04,357.27 133.98,360.1 138.91,364.41" fill="#cedaeb" stroke="#cedaeb"/>
<polygon points="302.09,429.19 297.18,428.22 296.46,430.26 301.37,431.23" fill="#4358cb" stroke="#4358cb"/>
<polygon points="262.13,422.37 257.24,421.06 256.42,423.17 261.33,424.48" fill="#506bda" stroke="#506bda"/>
<polygon points="307,430.13 302.09,429.19 301.37,431.23 306.29,432.16" fill="#4257c9" stroke="#4257c9"/>
<polygon points="135.04,357.27 130.12,352.67 129.04,355.55 133.98,360.1" fill="#d6dce4" stroke="#d6dce4"/>
<polygon points="267.03,423.64 262.13,422.37 261.33,424.48 266.23,425.74" fill="#4e68d8" stroke="#4e68d8"/>
<polygon points="187.93,397.24 183.04,394.65 182.07,397.06 186.97,399.62" fill="#85a8fc" stroke="#85a8fc"/>
<polygon points="192.82,399.7 187.93,397.24 186.97,399.62 191.87,402.06" fill="#80a3fa" stroke="#80a3fa"/>
<polygon points="311.91,431.03 307,430.13 306.29,432.16 311.22,433.06" fill="#4055c8" stroke="#4055c8"/>
<polygon points="183.04,394.65 178.15,391.93 177.17,394.37 182.07,397.06" fill="#8badfd" stroke="#8badfd"/>
<polygon points="197.71,402.05 192.82,399.7 191.87,402.06 196.77,404.38" fill="#7b9ff9" stroke="#7b9ff9"/>
<polygon points="178.15,391.93 173.26,389.07 172.26,391.54 177.17,394.37" fill="#92b4fe" stroke="#92b4fe"/>
<polygon points="202.6,404.29 197.71,402.05 196.77,404.38 201.67,406.6" fill="#7699f6" stroke="#7699f6"/>
<polygon points="271.93,424.85 267.03,423.64 266.23,425.74 271.14,426.94" fill="#4c66d6" stroke="#4c66d6"/>
<polygon points="207.49,406.43 202.6,404.29 201.67,406.6 206.56,408.71" fill="#7295f4" stroke="#7295f4"/>
<polygon points="173.26,389.07 168.36,386.06 167.36,388.57 172.26,391.54" fill="#97b8ff" stroke="#97b8ff"/>
<polygon points="130.12,352.67 125.18,347.81 124.1,350.76 129.04,355.55" fill="#dedcdb" stroke="#dedcdb"/>
<polygon points="212.37,408.46 207.49,406.43 206.56,408.71 211.46,410.73" fill="#6e90f2" stroke="#6e90f2"/>
<polygon points="168.36,386.06 163.46,382.9 162.45,385.44 167.36,388.57" fill="#9ebeff" stroke="#9ebeff"/>
<polygon points="316.82,431.91 311.91,431.03 311.22,433.06 316.14,433.93" fill="#3f53c6" stroke="#3f53c6"/>
<polygon points="217.26,410.41 212.37,408.46 211.46,410.73 216.36,412.65" fill="#6a8bef" stroke="#6a8bef"/>
<polygon points="276.83,426.02 271.93,424.85 271.14,426.94 276.06,428.1" fill="#4a63d3" stroke="#4a63d3"/>
<polygon points="163.46,382.9 158.56,379.57 157.54,382.16 162.45,385.44" fill="#a5c3fe" stroke="#a5c3fe"/>
<polygon points="222.15,412.26 217.26,410.41 216.36,412.65 221.26,414.49" fill="#6687ed" stroke="#6687ed"/>
<polygon points="158.56,379.57 153.65,376.07 152.62,378.7 157.54,382.16" fill="#adc9fd" stroke="#adc9fd"/>
<polygon points="227.04,414.04 222.15,412.26 221.26,414.49 226.16,416.24" fill="#6282ea" stroke="#6282ea"/>
<polygon points="281.73,427.14 276.83,426.02 276.06,428.1 280.97,429.21" fill="#4961d2" stroke="#4961d2"/>
<polygon points="125.18,347.81 120.24,342.69 119.14,345.7 124.1,350.76" fill="#e6d7cf" stroke="#e6d7cf"/>
<polygon points="321.74,432.75 316.82,431.91 316.14,433.93 321.07,434.77" fill="#3e51c5" stroke="#3e51c5"/>
<polygon points="231.94,415.73 227.04,414.04 226.16,416.24 231.07,417.92" fill="#5f7fe8" stroke="#5f7fe8"/>
<polygon points="153.65,376.07 148.74,372.38 147.7,375.05 152.62,378.7" fill="#b5cdfa" stroke="#b5cdfa"/>
<polygon points="286.64,428.22 281.73,427.14 280.97,429.21 285.89,430.28" fill="#465ecf" stroke="#465ecf"/>
<polygon points="236.83,417.35 231.94,415.73 231.07,417.92 235.97,419.53" fill="#5d7ce6" stroke="#5d7ce6"/>
<polygon points="326.66,433.57 321.74,432.75 321.07,434.77 326,435.58" fill="#3d50c3" stroke="#3d50c3"/>
<polygon points="148.74,372.38 143.83,368.5 142.77,371.22 147.7,375.05" fill="#bcd2f7" stroke="#bcd2f7"/>
<polygon points="241.73,418.9 236.83,417.35 235.97,419.53 240.88,421.06" fill="#5977e3" stroke="#5977e3"/>
<polygon points="120.24,342.69 115.28,337.28 114.18,340.36 119.14,345.7" fill="#edd1c2" stroke="#edd1c2"/>
<polygon points="291.55,429.26 286.64,428.22 285.89,430.28 290.81,431.32" fill="#455cce" stroke="#455cce"/>
<polygon points="143.83,368.5 138.91,364.41 137.84,367.18 142.77,371.22" fill="#c4d5f3" stroke="#c4d5f3"/>
<polygon points="246.62,420.39 241.73,418.9 240.88,421.06 245.79,422.54" fill="#5673e0" stroke="#5673e0"/>
<polygon points="331.59,434.36 326.66,433.57 326,435.58 330.94,436.37" fill="#3c4ec2" stroke="#3c4ec2"/>
<polygon points="296.46,430.26 291.55,429.26 290.81,431.32 295.73,432.31" fill="#445acc" stroke="#445acc"/>
<polygon points="251.52,421.81 246.62,420.39 245.79,422.54 250.7,423.94" fill="#5470de" stroke="#5470de"/>
<polygon points="138.91,364.41 133.98,360.1 132.91,362.92 137.84,367.18" fill="#ccd9ed" stroke="#ccd9ed"/>
<polygon points="256.42,423.17 251.52,421.81 250.7,423.94 255.61,425.3" fill="#516ddb" stroke="#516ddb"/>
<polygon points="301.37,431.23 296.46,430.26 295.73,432.31 300.66,433.27" fill="#4358cb" stroke="#4358cb"/>
<polygon points="133.98,360.1 129.04,355.55 127.96,358.43 132.91,362.92" fill="#d4dbe6" stroke="#d4dbe6"/>
<polygon points="261.33,424.48 256.42,423.17 255.61,425.3 260.52,426.59" fill="#506bda" stroke="#506bda"/>
<polygon points="306.29,432.16 301.37,431.23 300.66,433.27 305.59,434.2" fill="#4257c9" stroke="#4257c9"/>
<polygon points="266.23,425.74 261.33,424.48 260.52,426.59 265.44,427.84" fill="#4e68d8" stroke="#4e68d8"/>
<polygon points="186.97,399.62 182.07,397.06 181.09,399.47 186,402" fill="#84a7fc" stroke="#84a7fc"/>
<polygon points="191.87,402.06 186.97,399.62 186,402 190.91,404.41" fill="#7ea1fa" stroke="#7ea1fa"/>
<polygon points="182.07,397.06 177.17,394.37 176.18,396.81 181.09,399.47" fill="#89acfd" stroke="#89acfd"/>
<polygon points="196.77,404.38 191.87,402.06 190.91,404.41 195.82,406.71" fill="#7a9df8" stroke="#7a9df8"/>
<polygon points="129.04,355.55 124.1,350.76 123.01,353.7 127.96,358.43" fill="#dcdddd" stroke="#dcdddd"/>
<polygon points="177.17,394.37 172.26,391.54 171.27,394.01 176.18,396.81" fill="#90b2fe" stroke="#90b2fe"/>
<polygon points="311.22,433.06 306.29,432.16 305.59,434.2 310.52,435.09" fill="#4055c8" stroke="#4055c8"/>
<polygon points="201.67,406.6 196.77,404.38 195.82,406.71 200.73,408.9" fill="#7597f6" stroke="#7597f6"/>
<polygon points="172.26,391.54 167.36,388.57 166.35,391.08 171.27,394.01" fill="#96b7ff" stroke="#96b7ff"/>
<polygon points="271.14,426.94 266.23,425.74 265.44,427.84 270.36,429.03" fill="#4b64d5" stroke="#4b64d5"/>
<polygon points="206.56,408.71 201.67,406.6 200.73,408.9 205.64,411" fill="#7093f3" stroke="#7093f3"/>
<polygon points="167.36,388.57 162.45,385.44 161.43,387.99 166.35,391.08" fill="#9dbdff" stroke="#9dbdff"/>
<polygon points="211.46,410.73 206.56,408.71 205.64,411 210.55,412.99" fill="#6c8ff1" stroke="#6c8ff1"/>
<polygon points="162.45,385.44 157.54,382.16 156.51,384.74 161.43,387.99" fill="#a3c2fe" stroke="#a3c2fe"/>
<polygon points="216.36,412.65 211.46,410.73 210.55,412.99 215.46,414.9" fill="#688aef" stroke="#688aef"/>
<polygon points="316.14,433.93 311.22,433.06 310.52,435.09 315.46,435.95" fill="#3f53c6" stroke="#3f53c6"/>
<polygon points="276.06,428.1 271.14,426.94 270.36,429.03 275.28,430.18" fill="#4a63d3" stroke="#4a63d3"/>
<polygon points="221.26,414.49 216.36,412.65 215.46,414.9 220.37,416.71" fill="#6485ec" stroke="#6485ec"/>
<polygon points="124.1,350.76 119.14,345.7 118.05,348.71 123.01,353.7" fill="#e4d9d2" stroke="#e4d9d2"/>
<polygon points="157.54,382.16 152.62,378.7 151.58,381.32 156.51,384.74" fill="#aac7fd" stroke="#aac7fd"/>
<polygon points="226.16,416.24 221.26,414.49 220.37,416.71 225.28,418.45" fill="#6282ea" stroke="#6282ea"/>
<polygon points="280.97,429.21 276.06,428.1 275.28,430.18 280.21,431.29" fill="#485fd1" stroke="#485fd1"/>
<polygon points="152.62,378.7 147.7,375.05 146.65,377.72 151.58,381.32" fill="#b2ccfb" stroke="#b2ccfb"/>
<polygon points="321.07,434.77 316.14,433.93 315.46,435.95 320.4,436.79" fill="#3e51c5" stroke="#3e51c5"/>
<polygon points="231.07,417.92 226.16,416.24 225.28,418.45 230.19,420.12" fill="#5e7de7" stroke="#5e7de7"/>
<polygon points="147.7,375.05 142.77,371.22 141.72,373.93 146.65,377.72" fill="#bad0f8" stroke="#bad0f8"/>
<polygon points="285.89,430.28 280.97,429.21 280.21,431.29 285.13,432.35" fill="#465ecf" stroke="#465ecf"/>
<polygon points="235.97,419.53 231.07,417.92 230.19,420.12 235.11,421.71" fill="#5b7ae5" stroke="#5b7ae5"/>
<polygon points="119.14,345.7 114.18,340.36 113.07,343.44 118.05,348.71" fill="#ebd3c6" stroke="#ebd3c6"/>
<polygon points="326,435.58 321.07,434.77 320.4,436.79 325.34,437.6" fill="#3d50c3" stroke="#3d50c3"/>
<polygon points="240.88,421.06 235.97,419.53 235.11,421.71 240.03,423.23" fill="#5977e3" stroke="#5977e3"/>
<polygon points="142.77,371.22 137.84,367.18 136.78,369.94 141.72,373.93" fill="#c1d4f4" stroke="#c1d4f4"/>
<polygon points="290.81,431.32 285.89,430.28 285.13,432.35 290.07,433.38" fill="#455cce" stroke="#455cce"/>
<polygon points="245.79,422.54 240.88,421.06 240.03,423.23 244.94,424.69" fill="#5673e0" stroke="#5673e0"/>
<polygon points="330.94,436.37 326,435.58 325.34,437.6 330.29,438.38" fill="#3c4ec2" stroke="#3c4ec2"/>
<polygon points="137.84,367.18 132.91,362.92 131.83,365.74 136.78,369.94" fill="#cad8ef" stroke="#cad8ef"/>
<polygon points="295.73,432.31 290.81,431.32 290.07,433.38 295,434.37" fill="#445acc" stroke="#445acc"/>
<polygon points="250.7,423.94 245.79,422.54 244.94,424.69 249.86,426.09" fill="#5470de" stroke="#5470de"/>
<polygon points="255.61,425.3 250.7,423.94 249.86,426.09 254.79,427.43" fill="#516ddb" stroke="#516ddb"/>
<polygon points="132.91,362.92 127.96,358.43 126.88,361.31 131.83,365.74" fill="#d2dbe8" stroke="#d2dbe8"/>
<polygon points="300.66,433.27 295.73,432.31 295,434.37 299.94,435.32" fill="#4257c9" stroke="#4257c9"/>
<polygon points="260.52,426.59 255.61,425.3 254.79,427.43 259.71,428.71" fill="#4f69d9" stroke="#4f69d9"/>
<polygon points="305.59,434.2 300.66,433.27 299.94,435.32 304.88,436.24" fill="#4055c8" stroke="#4055c8"/>
<polygon points="127.96,358.43 123.01,353.7 121.91,356.63 126.88,361.31" fill="#dadce0" stroke="#dadce0"/>
<polygon points="265.44,427.84 260.52,426.59 259.71,428.71 264.64,429.95" fill="#4c66d6" stroke="#4c66d6"/>
<polygon points="186,402 181.09,399.47 180.11,401.88 185.03,404.38" fill="#82a6fb" stroke="#82a6fb"/>
<polygon points="181.09,399.47 176.18,396.81 175.19,399.25 180.11,401.88" fill="#88abfd" stroke="#88abfd"/>
<polygon points="190.91,404.41 186,402 185.03,404.38 189.95,406.77" fill="#7da0f9" stroke="#7da0f9"/>
<polygon points="176.18,396.81 171.27,394.01 170.26,396.49 175.19,399.25" fill="#8db0fe" stroke="#8db0fe"/>
<polygon points="195.82,406.71 190.91,404.41 189.95,406.77 194.87,409.05" fill="#799cf8" stroke="#799cf8"/>
<polygon points="171.27,394.01 166.35,391.08 165.34,393.58 170.26,396.49" fill="#94b6ff" stroke="#94b6ff"/>
<polygon points="200.73,408.9 195.82,406.71 194.87,409.05 199.79,411.21" fill="#7396f5" stroke="#7396f5"/>
<polygon points="310.52,435.09 305.59,434.2 304.88,436.24 309.82,437.13" fill="#3f53c6" stroke="#3f53c6"/>
<polygon points="205.64,411 200.73,408.9 199.79,411.21 204.71,413.28" fill="#6f92f3" stroke="#6f92f3"/>
<polygon points="166.35,391.08 161.43,387.99 160.41,390.53 165.34,393.58" fill="#9bbcff" stroke="#9bbcff"/>
<polygon points="270.36,429.03 265.44,427.84 264.64,429.95 269.57,431.13" fill="#4b64d5" stroke="#4b64d5"/>
<polygon points="210.55,412.99 205.64,411 204.71,413.28 209.63,415.26" fill="#6b8df0" stroke="#6b8df0"/>
<polygon points="161.43,387.99 156.51,384.74 155.48,387.32 160.41,390.53" fill="#a2c1ff" stroke="#a2c1ff"/>
<polygon points="123.01,353.7 118.05,348.71 116.94,351.71 121.91,356.63" fill="#e2dad5" stroke="#e2dad5"/>
<polygon points="215.46,414.9 210.55,412.99 209.63,415.26 214.55,417.14" fill="#6788ee" stroke="#6788ee"/>
<polygon points="156.51,384.74 151.58,381.32 150.54,383.94 155.48,387.32" fill="#a9c6fd" stroke="#a9c6fd"/>
<polygon points="275.28,430.18 270.36,429.03 269.57,431.13 274.5,432.28" fill="#4961d2" stroke="#4961d2"/>
<polygon points="315.46,435.95 310.52,435.09 309.82,437.13 314.77,437.99" fill="#3e51c5" stroke="#3e51c5"/>
<polygon points="220.37,416.71 215.46,414.9 214.55,417.14 219.47,418.95" fill="#6485ec" stroke="#6485ec"/>
<polygon points="151.58,381.32 146.65,377.72 145.6,380.39 150.54,383.94" fill="#b1cbfc" stroke="#b1cbfc"/>
<polygon points="225.28,418.45 220.37,416.71 219.47,418.95 224.39,420.67" fill="#6180e9" stroke="#6180e9"/>
<polygon points="280.21,431.29 275.28,430.18 274.5,432.28 279.44,433.37" fill="#485fd1" stroke="#485fd1"/>
<polygon points="320.4,436.79 315.46,435.95 314.77,437.99 319.72,438.82" fill="#3d50c3" stroke="#3d50c3"/>
<polygon points="230.19,420.12 225.28,418.45 224.39,420.67 229.32,422.32" fill="#5e7de7" stroke="#5e7de7"/>
<polygon points="118.05,348.71 113.07,343.44 111.96,346.51 116.94,351.71" fill="#ead5c9" stroke="#ead5c9"/>
<polygon points="146.65,377.72 141.72,373.93 140.66,376.64 145.6,380.39" fill="#b7cff9" stroke="#b7cff9"/>
<polygon points="235.11,421.71 230.19,420.12 229.32,422.32 234.24,423.89" fill="#5a78e4" stroke="#5a78e4"/>
<polygon points="285.13,432.35 280.21,431.29 279.44,433.37 284.38,434.43" fill="#465ecf" stroke="#465ecf"/>
<polygon points="141.72,373.93 136.78,369.94 135.71,372.7 140.66,376.64" fill="#c0d4f5" stroke="#c0d4f5"/>
<polygon points="325.34,437.6 320.4,436.79 319.72,438.82 324.67,439.63" fill="#3d50c3" stroke="#3d50c3"/>
<polygon points="240.03,423.23 235.11,421.71 234.24,423.89 239.17,425.4" fill="#5875e1" stroke="#5875e1"/>
<polygon points="290.07,433.38 285.13,432.35 284.38,434.43 289.32,435.45" fill="#445acc" stroke="#445acc"/>
<polygon points="136.78,369.94 131.83,365.74 130.75,368.55 135.71,372.7" fill="#c7d7f0" stroke="#c7d7f0"/>
<polygon points="244.94,424.69 240.03,423.23 239.17,425.4 244.1,426.85" fill="#5572df" stroke="#5572df"/>
<polygon points="330.29,438.38 325.34,437.6 324.67,439.63 329.63,440.41" fill="#3c4ec2" stroke="#3c4ec2"/>
<polygon points="249.86,426.09 244.94,424.69 244.1,426.85 249.03,428.23" fill="#536edd" stroke="#536edd"/>
<polygon points="295,434.37 290.07,433.38 289.32,435.45 294.27,436.43" fill="#4358cb" stroke="#4358cb"/>
<polygon points="131.83,365.74 126.88,361.31 125.79,364.18 130.75,368.55" fill="#cfdaea" stroke="#cfdaea"/>
<polygon points="254.79,427.43 249.86,426.09 249.03,428.23 253.96,429.56" fill="#506bda" stroke="#506bda"/>
<polygon points="299.94,435.32 295,434.37 294.27,436.43 299.21,437.38" fill="#4257c9" stroke="#4257c9"/>
<polygon points="259.71,428.71 254.79,427.43 253.96,429.56 258.9,430.84" fill="#4f69d9" stroke="#4f69d9"/>
<polygon points="126.88,361.31 121.91,356.63 120.82,359.56 125.79,364.18" fill="#d8dce2" stroke="#d8dce2"/>
<polygon points="304.88,436.24 299.94,435.32 299.21,437.38 304.17,438.29" fill="#4055c8" stroke="#4055c8"/>
<polygon points="185.03,404.38 180.11,401.88 179.12,404.29 184.05,406.77" fill="#81a4fb" stroke="#81a4fb"/>
<polygon points="180.11,401.88 175.19,399.25 174.19,401.69 179.12,404.29" fill="#86a9fc" stroke="#86a9fc"/>
<polygon points="189.95,406.77 185.03,404.38 184.05,406.77 188.98,409.13" fill="#7b9ff9" stroke="#7b9ff9"/>
<polygon points="175.19,399.25 170.26,396.49 169.26,398.96 174.19,401.69" fill="#8caffe" stroke="#8caffe"/>
<polygon points="264.64,429.95 259.71,428.71 258.9,430.84 263.84,432.06" fill="#4c66d6" stroke="#4c66d6"/>
<polygon points="194.87,409.05 189.95,406.77 188.98,409.13 193.91,411.38" fill="#779af7" stroke="#779af7"/>
<polygon points="170.26,396.49 165.34,393.58 164.32,396.09 169.26,398.96" fill="#93b5fe" stroke="#93b5fe"/>
<polygon points="199.79,411.21 194.87,409.05 193.91,411.38 198.84,413.53" fill="#7396f5" stroke="#7396f5"/>
<polygon points="165.34,393.58 160.41,390.53 159.38,393.07 164.32,396.09" fill="#98b9ff" stroke="#98b9ff"/>
<polygon points="204.71,413.28 199.79,411.21 198.84,413.53 203.77,415.58" fill="#6e90f2" stroke="#6e90f2"/>
<polygon points="121.91,356.63 116.94,351.71 115.84,354.7 120.82,359.56" fill="#e0dbd8" stroke="#e0dbd8"/>
<polygon points="309.82,437.13 304.88,436.24 304.17,438.29 309.12,439.18" fill="#3f53c6" stroke="#3f53c6"/>
<polygon points="160.41,390.53 155.48,387.32 154.44,389.9 159.38,393.07" fill="#9fbfff" stroke="#9fbfff"/>
<polygon points="269.57,431.13 264.64,429.95 263.84,432.06 268.78,433.24" fill="#4b64d5" stroke="#4b64d5"/>
<polygon points="209.63,415.26 204.71,413.28 203.77,415.58 208.7,417.53" fill="#6a8bef" stroke="#6a8bef"/>
<polygon points="155.48,387.32 150.54,383.94 149.5,386.56 154.44,389.9" fill="#a7c5fe" stroke="#a7c5fe"/>
<polygon points="214.55,417.14 209.63,415.26 208.7,417.53 213.64,419.4" fill="#6788ee" stroke="#6788ee"/>
<polygon points="274.5,432.28 269.57,431.13 268.78,433.24 273.72,434.37" fill="#4961d2" stroke="#4961d2"/>
<polygon points="219.47,418.95 214.55,417.14 213.64,419.4 218.57,421.18" fill="#6384eb" stroke="#6384eb"/>
<polygon points="314.77,437.99 309.82,437.13 309.12,439.18 314.08,440.03" fill="#3e51c5" stroke="#3e51c5"/>
<polygon points="150.54,383.94 145.6,380.39 144.55,383.05 149.5,386.56" fill="#aec9fc" stroke="#aec9fc"/>
<polygon points="116.94,351.71 111.96,346.51 110.85,349.57 115.84,354.7" fill="#e8d6cc" stroke="#e8d6cc"/>
<polygon points="224.39,420.67 219.47,418.95 218.57,421.18 223.5,422.89" fill="#5f7fe8" stroke="#5f7fe8"/>
<polygon points="145.6,380.39 140.66,376.64 139.59,379.35 144.55,383.05" fill="#b6cefa" stroke="#b6cefa"/>
<polygon points="279.44,433.37 274.5,432.28 273.72,434.37 278.67,435.46" fill="#485fd1" stroke="#485fd1"/>
<polygon points="229.32,422.32 224.39,420.67 223.5,422.89 228.44,424.52" fill="#5d7ce6" stroke="#5d7ce6"/>
<polygon points="319.72,438.82 314.77,437.99 314.08,440.03 319.04,440.86" fill="#3d50c3" stroke="#3d50c3"/>
<polygon points="140.66,376.64 135.71,372.7 134.63,375.46 139.59,379.35" fill="#bed2f6" stroke="#bed2f6"/>
<polygon points="234.24,423.89 229.32,422.32 228.44,424.52 233.37,426.08" fill="#5a78e4" stroke="#5a78e4"/>
<polygon points="284.38,434.43 279.44,433.37 278.67,435.46 283.62,436.51" fill="#455cce" stroke="#455cce"/>
<polygon points="324.67,439.63 319.72,438.82 319.04,440.86 324,441.66" fill="#3c4ec2" stroke="#3c4ec2"/>
<polygon points="239.17,425.4 234.24,423.89 233.37,426.08 238.31,427.58" fill="#5875e1" stroke="#5875e1"/>
<polygon points="135.71,372.7 130.75,368.55 129.67,371.36 134.63,375.46" fill="#c6d6f1" stroke="#c6d6f1"/>
<polygon points="289.32,435.45 284.38,434.43 283.62,436.51 288.57,437.52" fill="#445acc" stroke="#445acc"/>
<polygon points="244.1,426.85 239.17,425.4 238.31,427.58 243.25,429.01" fill="#5572df" stroke="#5572df"/>
<polygon points="329.63,440.41 324.67,439.63 324,441.66 328.97,442.44" fill="#3c4ec2" stroke="#3c4ec2"/>
<polygon points="130.75,368.55 125.79,364.18 124.69,367.04 129.67,371.36" fill="#cdd9ec" stroke="#cdd9ec"/>
<polygon points="249.03,428.23 244.1,426.85 243.25,429.01 248.19,430.39" fill="#536edd" stroke="#536edd"/>
<polygon points="294.27,436.43 289.32,435.45 288.57,437.52 293.53,438.5" fill="#4358cb" stroke="#4358cb"/>
<polygon points="253.96,429.56 249.03,428.23 248.19,430.39 253.14,431.7" fill="#506bda" stroke="#506bda"/>
<polygon points="125.79,364.18 120.82,359.56 119.71,362.49 124.69,367.04" fill="#d6dce4" stroke="#d6dce4"/>
<polygon points="299.21,437.38 294.27,436.43 293.53,438.5 298.49,439.44" fill="#4257c9" stroke="#4257c9"/>
<polygon points="258.9,430.84 253.96,429.56 253.14,431.7 258.08,432.97" fill="#4e68d8" stroke="#4e68d8"/>
<polygon points="179.12,404.29 174.19,401.69 173.19,404.14 178.13,406.71" fill="#85a8fc" stroke="#85a8fc"/>
<polygon points="184.05,406.77 179.12,404.29 178.13,406.71 183.07,409.16" fill="#80a3fa" stroke="#80a3fa"/>
<polygon points="174.19,401.69 169.26,398.96 168.25,401.44 173.19,404.14" fill="#8badfd" stroke="#8badfd"/>
<polygon points="304.17,438.29 299.21,437.38 298.49,439.44 303.45,440.35" fill="#4055c8" stroke="#4055c8"/>
<polygon points="188.98,409.13 184.05,406.77 183.07,409.16 188.02,411.5" fill="#7b9ff9" stroke="#7b9ff9"/>
<polygon points="169.26,398.96 164.32,396.09 163.3,398.6 168.25,401.44" fill="#92b4fe" stroke="#92b4fe"/>
<polygon points="193.91,411.38 188.98,409.13 188.02,411.5 192.96,413.72" fill="#7699f6" stroke="#7699f6"/>
<polygon points="263.84,432.06 258.9,430.84 258.08,432.97 263.03,434.19" fill="#4c66d6" stroke="#4c66d6"/>
<polygon points="120.82,359.56 115.84,354.7 114.72,357.68 119.71,362.49" fill="#dddcdc" stroke="#dddcdc"/>
<polygon points="164.32,396.09 159.38,393.07 158.35,395.62 163.3,398.6" fill="#97b8ff" stroke="#97b8ff"/>
<polygon points="198.84,413.53 193.91,411.38 192.96,413.72 197.9,415.85" fill="#7295f4" stroke="#7295f4"/>
<polygon points="203.77,415.58 198.84,413.53 197.9,415.85 202.84,417.87" fill="#6e90f2" stroke="#6e90f2"/>
<polygon points="159.38,393.07 154.44,389.9 153.4,392.48 158.35,395.62" fill="#9ebeff" stroke="#9ebeff"/>
<polygon points="309.12,439.18 304.17,438.29 303.45,440.35 308.42,441.23" fill="#3f53c6" stroke="#3f53c6"/>
<polygon points="208.7,417.53 203.77,415.58 202.84,417.87 207.78,419.81" fill="#6a8bef" stroke="#6a8bef"/>
<polygon points="268.78,433.24 263.84,432.06 263.03,434.19 267.98,435.35" fill="#4a63d3" stroke="#4a63d3"/>
<polygon points="154.44,389.9 149.5,386.56 148.44,389.18 153.4,392.48" fill="#a5c3fe" stroke="#a5c3fe"/>
<polygon points="213.64,419.4 208.7,417.53 207.78,419.81 212.72,421.66" fill="#6687ed" stroke="#6687ed"/>
<polygon points="149.5,386.56 144.55,383.05 143.49,385.71 148.44,389.18" fill="#adc9fd" stroke="#adc9fd"/>
<polygon points="115.84,354.7 110.85,349.57 109.72,352.62 114.72,357.68" fill="#e6d7cf" stroke="#e6d7cf"/>
<polygon points="218.57,421.18 213.64,419.4 212.72,421.66 217.66,423.43" fill="#6282ea" stroke="#6282ea"/>
<polygon points="273.72,434.37 268.78,433.24 267.98,435.35 272.94,436.48" fill="#4961d2" stroke="#4961d2"/>
<polygon points="314.08,440.03 309.12,439.18 308.42,441.23 313.38,442.08" fill="#3e51c5" stroke="#3e51c5"/>
<polygon points="144.55,383.05 139.59,379.35 138.52,382.06 143.49,385.71" fill="#b3cdfb" stroke="#b3cdfb"/>
<polygon points="223.5,422.89 218.57,421.18 217.66,423.43 222.6,425.12" fill="#5f7fe8" stroke="#5f7fe8"/>
<polygon points="278.67,435.46 273.72,434.37 272.94,436.48 277.9,437.56" fill="#465ecf" stroke="#465ecf"/>
<polygon points="228.44,424.52 223.5,422.89 222.6,425.12 227.55,426.73" fill="#5d7ce6" stroke="#5d7ce6"/>
<polygon points="139.59,379.35 134.63,375.46 133.55,378.22 138.52,382.06" fill="#bbd1f8" stroke="#bbd1f8"/>
<polygon points="319.04,440.86 314.08,440.03 313.38,442.08 318.36,442.9" fill="#3d50c3" stroke="#3d50c3"/>
<polygon points="233.37,426.08 228.44,424.52 227.55,426.73 232.5,428.28" fill="#5977e3" stroke="#5977e3"/>
<polygon points="283.62,436.51 278.67,435.46 277.9,437.56 282.86,438.6" fill="#455cce" stroke="#455cce"/>
<polygon points="134.63,375.46 129.67,371.36 128.58,374.17 133.55,378.22" fill="#c4d5f3" stroke="#c4d5f3"/>
<polygon points="238.31,427.58 233.37,426.08 232.5,428.28 237.45,429.76" fill="#5673e0" stroke="#5673e0"/>
<polygon points="324,441.66 319.04,440.86 318.36,442.9 323.33,443.7" fill="#3c4ec2" stroke="#3c4ec2"/>
<polygon points="288.57,437.52 283.62,436.51 282.86,438.6 287.82,439.61" fill="#445acc" stroke="#445acc"/>
<polygon points="243.25,429.01 238.31,427.58 237.45,429.76 242.4,431.18" fill="#5470de" stroke="#5470de"/>
<polygon points="129.67,371.36 124.69,367.04 123.59,369.9 128.58,374.17" fill="#ccd9ed" stroke="#ccd9ed"/>
<polygon points="328.97,442.44 324,441.66 323.33,443.7 328.31,444.47" fill="#3b4cc0" stroke="#3b4cc0"/>
<polygon points="248.19,430.39 243.25,429.01 242.4,431.18 247.35,432.55" fill="#516ddb" stroke="#516ddb"/>
<polygon points="293.53,438.5 288.57,437.52 287.82,439.61 292.79,440.58" fill="#4358cb" stroke="#4358cb"/>
<polygon points="124.69,367.04 119.71,362.49 118.6,365.4 123.59,369.9" fill="#d4dbe6" stroke="#d4dbe6"/>
<polygon points="253.14,431.7 248.19,430.39 247.35,432.55 252.3,433.85" fill="#506bda" stroke="#506bda"/>
<polygon points="298.49,439.44 293.53,438.5 292.79,440.58 297.76,441.51" fill="#4257c9" stroke="#4257c9"/>
<polygon points="258.08,432.97 253.14,431.7 252.3,433.85 257.26,435.11" fill="#4e68d8" stroke="#4e68d8"/>
<polygon points="119.71,362.49 114.72,357.68 113.61,360.66 118.6,365.4" fill="#dbdcde" stroke="#dbdcde"/>
<polygon points="178.13,406.71 173.19,404.14 172.19,406.59 177.14,409.13" fill="#84a7fc" stroke="#84a7fc"/>
<polygon points="183.07,409.16 178.13,406.71 177.14,409.13 182.09,411.55" fill="#7ea1fa" stroke="#7ea1fa"/>
<polygon points="173.19,404.14 168.25,401.44 167.23,403.91 172.19,406.59" fill="#89acfd" stroke="#89acfd"/>
<polygon points="188.02,411.5 183.07,409.16 182.09,411.55 187.04,413.86" fill="#7a9df8" stroke="#7a9df8"/>
<polygon points="168.25,401.44 163.3,398.6 162.27,401.11 167.23,403.91" fill="#8fb1fe" stroke="#8fb1fe"/>
<polygon points="192.96,413.72 188.02,411.5 187.04,413.86 191.99,416.07" fill="#7597f6" stroke="#7597f6"/>
<polygon points="303.45,440.35 298.49,439.44 297.76,441.51 302.73,442.42" fill="#4055c8" stroke="#4055c8"/>
<polygon points="163.3,398.6 158.35,395.62 157.32,398.16 162.27,401.11" fill="#96b7ff" stroke="#96b7ff"/>
<polygon points="197.9,415.85 192.96,413.72 191.99,416.07 196.94,418.17" fill="#7093f3" stroke="#7093f3"/>
<polygon points="263.03,434.19 258.08,432.97 257.26,435.11 262.22,436.32" fill="#4b64d5" stroke="#4b64d5"/>
<polygon points="158.35,395.62 153.4,392.48 152.35,395.06 157.32,398.16" fill="#9dbdff" stroke="#9dbdff"/>
<polygon points="202.84,417.87 197.9,415.85 196.94,418.17 201.89,420.17" fill="#6c8ff1" stroke="#6c8ff1"/>
<polygon points="153.4,392.48 148.44,389.18 147.39,391.8 152.35,395.06" fill="#a3c2fe" stroke="#a3c2fe"/>
<polygon points="207.78,419.81 202.84,417.87 201.89,420.17 206.85,422.09" fill="#688aef" stroke="#688aef"/>
<polygon points="308.42,441.23 303.45,440.35 302.73,442.42 307.71,443.29" fill="#3f53c6" stroke="#3f53c6"/>
<polygon points="267.98,435.35 263.03,434.19 262.22,436.32 267.19,437.47" fill="#4a63d3" stroke="#4a63d3"/>
<polygon points="114.72,357.68 109.72,352.62 108.6,355.67 113.61,360.66" fill="#e3d9d3" stroke="#e3d9d3"/>
<polygon points="148.44,389.18 143.49,385.71 142.42,388.37 147.39,391.8" fill="#aac7fd" stroke="#aac7fd"/>
<polygon points="212.72,421.66 207.78,419.81 206.85,422.09 211.8,423.92" fill="#6485ec" stroke="#6485ec"/>
<polygon points="217.66,423.43 212.72,421.66 211.8,423.92 216.75,425.67" fill="#6282ea" stroke="#6282ea"/>
<polygon points="143.49,385.71 138.52,382.06 137.45,384.77 142.42,388.37" fill="#b2ccfb" stroke="#b2ccfb"/>
<polygon points="272.94,436.48 267.98,435.35 267.19,437.47 272.15,438.59" fill="#485fd1" stroke="#485fd1"/>
<polygon points="313.38,442.08 308.42,441.23 307.71,443.29 312.69,444.14" fill="#3e51c5" stroke="#3e51c5"/>
<polygon points="222.6,425.12 217.66,423.43 216.75,425.67 221.71,427.35" fill="#5e7de7" stroke="#5e7de7"/>
<polygon points="138.52,382.06 133.55,378.22 132.47,380.97 137.45,384.77" fill="#bad0f8" stroke="#bad0f8"/>
<polygon points="227.55,426.73 222.6,425.12 221.71,427.35 226.66,428.95" fill="#5b7ae5" stroke="#5b7ae5"/>
<polygon points="277.9,437.56 272.94,436.48 272.15,438.59 277.12,439.67" fill="#465ecf" stroke="#465ecf"/>
<polygon points="318.36,442.9 313.38,442.08 312.69,444.14 317.67,444.95" fill="#3d50c3" stroke="#3d50c3"/>
<polygon points="133.55,378.22 128.58,374.17 127.48,376.97 132.47,380.97" fill="#c1d4f4" stroke="#c1d4f4"/>
<polygon points="232.5,428.28 227.55,426.73 226.66,428.95 231.62,430.48" fill="#5977e3" stroke="#5977e3"/>
<polygon points="282.86,438.6 277.9,437.56 277.12,439.67 282.09,440.7" fill="#455cce" stroke="#455cce"/>
<polygon points="237.45,429.76 232.5,428.28 231.62,430.48 236.58,431.95" fill="#5673e0" stroke="#5673e0"/>
<polygon points="323.33,443.7 318.36,442.9 317.67,444.95 322.66,445.75" fill="#3c4ec2" stroke="#3c4ec2"/>
<polygon points="128.58,374.17 123.59,369.9 122.49,372.76 127.48,376.97" fill="#cad8ef" stroke="#cad8ef"/>
<polygon points="287.82,439.61 282.86,438.6 282.09,440.7 287.07,441.7" fill="#445acc" stroke="#445acc"/>
<polygon points="242.4,431.18 237.45,429.76 236.58,431.95 241.54,433.36" fill="#5470de" stroke="#5470de"/>
<polygon points="328.31,444.47 323.33,443.7 322.66,445.75 327.65,446.52" fill="#3b4cc0" stroke="#3b4cc0"/>
<polygon points="123.59,369.9 118.6,365.4 117.49,368.32 122.49,372.76" fill="#d2dbe8" stroke="#d2dbe8"/>
<polygon points="247.35,432.55 242.4,431.18 241.54,433.36 246.5,434.71" fill="#516ddb" stroke="#516ddb"/>
<polygon points="292.79,440.58 287.82,439.61 287.07,441.7 292.04,442.66" fill="#4257c9" stroke="#4257c9"/>
<polygon points="252.3,433.85 247.35,432.55 246.5,434.71 251.47,436.01" fill="#4f69d9" stroke="#4f69d9"/>
<polygon points="297.76,441.51 292.79,440.58 292.04,442.66 297.02,443.59" fill="#4055c8" stroke="#4055c8"/>
<polygon points="118.6,365.4 113.61,360.66 112.48,363.64 117.49,368.32" fill="#d9dce1" stroke="#d9dce1"/>
<polygon points="257.26,435.11 252.3,433.85 251.47,436.01 256.44,437.25" fill="#4c66d6" stroke="#4c66d6"/>
<polygon points="177.14,409.13 172.19,406.59 171.18,409.03 176.14,411.55" fill="#82a6fb" stroke="#82a6fb"/>
<polygon points="172.19,406.59 167.23,403.91 166.21,406.39 171.18,409.03" fill="#88abfd" stroke="#88abfd"/>
<polygon points="182.09,411.55 177.14,409.13 176.14,411.55 181.1,413.95" fill="#7da0f9" stroke="#7da0f9"/>
<polygon points="167.23,403.91 162.27,401.11 161.25,403.62 166.21,406.39" fill="#8db0fe" stroke="#8db0fe"/>
<polygon points="187.04,413.86 182.09,411.55 181.1,413.95 186.06,416.23" fill="#799cf8" stroke="#799cf8"/>
<polygon points="162.27,401.11 157.32,398.16 156.28,400.7 161.25,403.62" fill="#94b6ff" stroke="#94b6ff"/>
<polygon points="191.99,416.07 187.04,413.86 186.06,416.23 191.02,418.41" fill="#7396f5" stroke="#7396f5"/>
<polygon points="157.32,398.16 152.35,395.06 151.3,397.64 156.28,400.7" fill="#9abbff" stroke="#9abbff"/>
<polygon points="302.73,442.42 297.76,441.51 297.02,443.59 302.01,444.49" fill="#3f53c6" stroke="#3f53c6"/>
<polygon points="196.94,418.17 191.99,416.07 191.02,418.41 195.99,420.49" fill="#6f92f3" stroke="#6f92f3"/>
<polygon points="262.22,436.32 257.26,435.11 256.44,437.25 261.41,438.45" fill="#4b64d5" stroke="#4b64d5"/>
<polygon points="201.89,420.17 196.94,418.17 195.99,420.49 200.95,422.48" fill="#6b8df0" stroke="#6b8df0"/>
<polygon points="152.35,395.06 147.39,391.8 146.33,394.42 151.3,397.64" fill="#a1c0ff" stroke="#a1c0ff"/>
<polygon points="113.61,360.66 108.6,355.67 107.47,358.7 112.48,363.64" fill="#e1dad6" stroke="#e1dad6"/>
<polygon points="206.85,422.09 201.89,420.17 200.95,422.48 205.91,424.38" fill="#6788ee" stroke="#6788ee"/>
<polygon points="147.39,391.8 142.42,388.37 141.35,391.03 146.33,394.42" fill="#a9c6fd" stroke="#a9c6fd"/>
<polygon points="267.19,437.47 262.22,436.32 261.41,438.45 266.38,439.6" fill="#4961d2" stroke="#4961d2"/>
<polygon points="307.71,443.29 302.73,442.42 302.01,444.49 307,445.36" fill="#3e51c5" stroke="#3e51c5"/>
<polygon points="211.8,423.92 206.85,422.09 205.91,424.38 210.87,426.19" fill="#6485ec" stroke="#6485ec"/>
<polygon points="142.42,388.37 137.45,384.77 136.37,387.47 141.35,391.03" fill="#afcafc" stroke="#afcafc"/>
<polygon points="216.75,425.67 211.8,423.92 210.87,426.19 215.84,427.92" fill="#6180e9" stroke="#6180e9"/>
<polygon points="272.15,438.59 267.19,437.47 266.38,439.6 271.36,440.71" fill="#485fd1" stroke="#485fd1"/>
<polygon points="137.45,384.77 132.47,380.97 131.38,383.72 136.37,387.47" fill="#b7cff9" stroke="#b7cff9"/>
<polygon points="312.69,444.14 307.71,443.29 307,445.36 311.99,446.2" fill="#3d50c3" stroke="#3d50c3"/>
<polygon points="221.71,427.35 216.75,425.67 215.84,427.92 220.8,429.58" fill="#5e7de7" stroke="#5e7de7"/>
<polygon points="226.66,428.95 221.71,427.35 220.8,429.58 225.77,431.17" fill="#5a78e4" stroke="#5a78e4"/>
<polygon points="277.12,439.67 272.15,438.59 271.36,440.71 276.34,441.78" fill="#465ecf" stroke="#465ecf"/>
<polygon points="132.47,380.97 127.48,376.97 126.38,379.77 131.38,383.72" fill="#bfd3f6" stroke="#bfd3f6"/>
<polygon points="317.67,444.95 312.69,444.14 311.99,446.2 316.98,447.02" fill="#3d50c3" stroke="#3d50c3"/>
<polygon points="231.62,430.48 226.66,428.95 225.77,431.17 230.74,432.69" fill="#5875e1" stroke="#5875e1"/>
<polygon points="282.09,440.7 277.12,439.67 276.34,441.78 281.32,442.81" fill="#445acc" stroke="#445acc"/>
<polygon points="127.48,376.97 122.49,372.76 121.38,375.61 126.38,379.77" fill="#c7d7f0" stroke="#c7d7f0"/>
<polygon points="236.58,431.95 231.62,430.48 230.74,432.69 235.71,434.15" fill="#5572df" stroke="#5572df"/>
<polygon points="322.66,445.75 317.67,444.95 316.98,447.02 321.98,447.8" fill="#3c4ec2" stroke="#3c4ec2"/>
<polygon points="241.54,433.36 236.58,431.95 235.71,434.15 240.68,435.54" fill="#536edd" stroke="#536edd"/>
<polygon points="287.07,441.7 282.09,440.7 281.32,442.81 286.31,443.8" fill="#4358cb" stroke="#4358cb"/>
<polygon points="122.49,372.76 117.49,368.32 116.37,371.22 121.38,375.61" fill="#cfdaea" stroke="#cfdaea"/>
<polygon points="327.65,446.52 322.66,445.75 321.98,447.8 326.98,448.57" fill="#3b4cc0" stroke="#3b4cc0"/>
<polygon points="246.5,434.71 241.54,433.36 240.68,435.54 245.65,436.88" fill="#506bda" stroke="#506bda"/>
<polygon points="292.04,442.66 287.07,441.7 286.31,443.8 291.3,444.75" fill="#4257c9" stroke="#4257c9"/>
<polygon points="117.49,368.32 112.48,363.64 111.36,366.6 116.37,371.22" fill="#d7dce3" stroke="#d7dce3"/>
<polygon points="251.47,436.01 246.5,434.71 245.65,436.88 250.63,438.17" fill="#4f69d9" stroke="#4f69d9"/>
<polygon points="297.02,443.59 292.04,442.66 291.3,444.75 296.29,445.68" fill="#4055c8" stroke="#4055c8"/>
<polygon points="176.14,411.55 171.18,409.03 170.16,411.49 175.14,413.97" fill="#81a4fb" stroke="#81a4fb"/>
<polygon points="171.18,409.03 166.21,406.39 165.19,408.87 170.16,411.49" fill="#86a9fc" stroke="#86a9fc"/>
<polygon points="181.1,413.95 176.14,411.55 175.14,413.97 180.11,416.35" fill="#7b9ff9" stroke="#7b9ff9"/>
<polygon points="166.21,406.39 161.25,403.62 160.21,406.13 165.19,408.87" fill="#8caffe" stroke="#8caffe"/>
<polygon points="256.44,437.25 251.47,436.01 250.63,438.17 255.61,439.4" fill="#4c66d6" stroke="#4c66d6"/>
<polygon points="186.06,416.23 181.1,413.95 180.11,416.35 185.08,418.61" fill="#779af7" stroke="#779af7"/>
<polygon points="161.25,403.62 156.28,400.7 155.23,403.25 160.21,406.13" fill="#93b5fe" stroke="#93b5fe"/>
<polygon points="191.02,418.41 186.06,416.23 185.08,418.61 190.05,420.76" fill="#7396f5" stroke="#7396f5"/>
<polygon points="156.28,400.7 151.3,397.64 150.25,400.22 155.23,403.25" fill="#98b9ff" stroke="#98b9ff"/>
<polygon points="112.48,363.64 107.47,358.7 106.33,361.73 111.36,366.6" fill="#dfdbd9" stroke="#dfdbd9"/>
<polygon points="195.99,420.49 191.02,418.41 190.05,420.76 195.02,422.82" fill="#6e90f2" stroke="#6e90f2"/>
<polygon points="151.3,397.64 146.33,394.42 145.26,397.04 150.25,400.22" fill="#9fbfff" stroke="#9fbfff"/>
<polygon points="302.01,444.49 297.02,443.59 296.29,445.68 301.28,446.57" fill="#3f53c6" stroke="#3f53c6"/>
<polygon points="261.41,438.45 256.44,437.25 255.61,439.4 260.59,440.59" fill="#4b64d5" stroke="#4b64d5"/>
<polygon points="200.95,422.48 195.99,420.49 195.02,422.82 200,424.79" fill="#6a8bef" stroke="#6a8bef"/>
<polygon points="146.33,394.42 141.35,391.03 140.28,393.69 145.26,397.04" fill="#a6c4fe" stroke="#a6c4fe"/>
<polygon points="205.91,424.38 200.95,422.48 200,424.79 204.97,426.67" fill="#6788ee" stroke="#6788ee"/>
<polygon points="141.35,391.03 136.37,387.47 135.28,390.17 140.28,393.69" fill="#aec9fc" stroke="#aec9fc"/>
<polygon points="266.38,439.6 261.41,438.45 260.59,440.59 265.58,441.74" fill="#4961d2" stroke="#4961d2"/>
<polygon points="210.87,426.19 205.91,424.38 204.97,426.67 209.94,428.46" fill="#6384eb" stroke="#6384eb"/>
<polygon points="307,445.36 302.01,444.49 301.28,446.57 306.28,447.44" fill="#3e51c5" stroke="#3e51c5"/>
<polygon points="215.84,427.92 210.87,426.19 209.94,428.46 214.92,430.18" fill="#5f7fe8" stroke="#5f7fe8"/>
<polygon points="136.37,387.47 131.38,383.72 130.28,386.47 135.28,390.17" fill="#b6cefa" stroke="#b6cefa"/>
<polygon points="271.36,440.71 266.38,439.6 265.58,441.74 270.56,442.84" fill="#485fd1" stroke="#485fd1"/>
<polygon points="220.8,429.58 215.84,427.92 214.92,430.18 219.89,431.82" fill="#5d7ce6" stroke="#5d7ce6"/>
<polygon points="311.99,446.2 307,445.36 306.28,447.44 311.28,448.27" fill="#3d50c3" stroke="#3d50c3"/>
<polygon points="131.38,383.72 126.38,379.77 125.28,382.56 130.28,386.47" fill="#bed2f6" stroke="#bed2f6"/>
<polygon points="225.77,431.17 220.8,429.58 219.89,431.82 224.87,433.4" fill="#5a78e4" stroke="#5a78e4"/>
<polygon points="276.34,441.78 271.36,440.71 270.56,442.84 275.56,443.9" fill="#455cce" stroke="#455cce"/>
<polygon points="316.98,447.02 311.99,446.2 311.28,448.27 316.29,449.08" fill="#3c4ec2" stroke="#3c4ec2"/>
<polygon points="230.74,432.69 225.77,431.17 224.87,433.4 229.85,434.9" fill="#5875e1" stroke="#5875e1"/>
<polygon points="126.38,379.77 121.38,375.61 120.27,378.45 125.28,382.56" fill="#c5d6f2" stroke="#c5d6f2"/>
<polygon points="281.32,442.81 276.34,441.78 275.56,443.9 280.55,444.92" fill="#445acc" stroke="#445acc"/>
<polygon points="235.71,434.15 230.74,432.69 229.85,434.9 234.83,436.35" fill="#5572df" stroke="#5572df"/>
<polygon points="321.98,447.8 316.98,447.02 316.29,449.08 321.3,449.87" fill="#3c4ec2" stroke="#3c4ec2"/>
<polygon points="121.38,375.61 116.37,371.22 115.25,374.13 120.27,378.45" fill="#cdd9ec" stroke="#cdd9ec"/>
<polygon points="240.68,435.54 235.71,434.15 234.83,436.35 239.82,437.73" fill="#536edd" stroke="#536edd"/>
<polygon points="286.31,443.8 281.32,442.81 280.55,444.92 285.55,445.9" fill="#4358cb" stroke="#4358cb"/>
<polygon points="245.65,436.88 240.68,435.54 239.82,437.73 244.8,439.06" fill="#506bda" stroke="#506bda"/>
<polygon points="326.98,448.57 321.98,447.8 321.3,449.87 326.31,450.63" fill="#3b4cc0" stroke="#3b4cc0"/>
<polygon points="116.37,371.22 111.36,366.6 110.22,369.57 115.25,374.13" fill="#d5dbe5" stroke="#d5dbe5"/>
<polygon points="291.3,444.75 286.31,443.8 285.55,445.9 290.55,446.85" fill="#4257c9" stroke="#4257c9"/>
<polygon points="250.63,438.17 245.65,436.88 244.8,439.06 249.79,440.34" fill="#4e68d8" stroke="#4e68d8"/>
<polygon points="296.29,445.68 291.3,444.75 290.55,446.85 295.55,447.77" fill="#4055c8" stroke="#4055c8"/>
<polygon points="111.36,366.6 106.33,361.73 105.19,364.76 110.22,369.57" fill="#dddcdc" stroke="#dddcdc"/>
<polygon points="255.61,439.4 250.63,438.17 249.79,440.34 254.78,441.56" fill="#4c66d6" stroke="#4c66d6"/>
<polygon points="301.28,446.57 296.29,445.68 295.55,447.77 300.56,448.66" fill="#3f53c6" stroke="#3f53c6"/>
<polygon points="260.59,440.59 255.61,439.4 254.78,441.56 259.77,442.74" fill="#4a63d3" stroke="#4a63d3"/>
<polygon points="265.58,441.74 260.59,440.59 259.77,442.74 264.77,443.88" fill="#4961d2" stroke="#4961d2"/>
<polygon points="306.28,447.44 301.28,446.57 300.56,448.66 305.57,449.52" fill="#3e51c5" stroke="#3e51c5"/>
<polygon points="270.56,442.84 265.58,441.74 264.77,443.88 269.77,444.97" fill="#465ecf" stroke="#465ecf"/>
<polygon points="311.28,448.27 306.28,447.44 305.57,449.52 310.58,450.35" fill="#3d50c3" stroke="#3d50c3"/>
<polygon points="275.56,443.9 270.56,442.84 269.77,444.97 274.77,446.02" fill="#455cce" stroke="#455cce"/>
<polygon points="316.29,449.08 311.28,448.27 310.58,450.35 315.6,451.16" fill="#3c4ec2" stroke="#3c4ec2"/>
<polygon points="280.55,444.92 275.56,443.9 274.77,446.02 279.77,447.04" fill="#445acc" stroke="#445acc"/>
<polygon points="321.3,449.87 316.29,449.08 315.6,451.16 320.62,451.94" fill="#3b4cc0" stroke="#3b4cc0"/>
<polygon points="285.55,445.9 280.55,444.92 279.77,447.04 284.78,448.02" fill="#4358cb" stroke="#4358cb"/>
<polygon points="326.31,450.63 321.3,449.87 320.62,451.94 325.64,452.7" fill="#3b4cc0" stroke="#3b4cc0"/>
<polygon points="290.55,446.85 285.55,445.9 284.78,448.02 289.79,448.96" fill="#4257c9" stroke="#4257c9"/>
<polygon points="295.55,447.77 290.55,446.85 289.79,448.96 294.81,449.87" fill="#4055c8" stroke="#4055c8"/>
<polygon points="300.56,448.66 295.55,447.77 294.81,449.87 299.82,450.76" fill="#3f53c6" stroke="#3f53c6"/>
<polygon points="305.57,449.52 300.56,448.66 299.82,450.76 304.84,451.61" fill="#3e51c5" stroke="#3e51c5"/>
<polygon points="310.58,450.35 305.57,449.52 304.84,451.61 309.87,452.44" fill="#3d50c3" stroke="#3d50c3"/>
<polygon points="315.6,451.16 310.58,450.35 309.87,452.44 314.9,453.24" fill="#3c4ec2" stroke="#3c4ec2"/>
<polygon points="320.62,451.94 315.6,451.16 314.9,453.24 319.93,454.02" fill="#3b4cc0" stroke="#3b4cc0"/>
<polygon points="325.64,452.7 320.62,451.94 319.93,454.02 324.96,454.78" fill="#3b4cc0" stroke="#3b4cc0"/>
</g>
<g fill="#d878c0" fill-opacity="0.55"><circle cx="283.9" cy="381.1" r="1.25"/><circle cx="269.4" cy="396.9" r="1.25"/><circle cx="264.3" cy="406.4" r="1.25"/><circle cx="308.3" cy="374.3" r="1.25"/><circle cx="308.3" cy="385.9" r="1.25"/><circle cx="300.2" cy="391.9" r="1.25"/><circle cx="321.1" cy="385.1" r="1.25"/><circle cx="329.9" cy="375.8" r="1.25"/><circle cx="335.4" cy="379.6" r="1.25"/><circle cx="338.6" cy="376.3" r="1.25"/><circle cx="346.7" cy="385.6" r="1.25"/><circle cx="339.1" cy="393.4" r="1.25"/><circle cx="329.6" cy="413" r="1.25"/><circle cx="319.6" cy="429" r="1.25"/><circle cx="151.5" cy="389.4" r="1.25"/><circle cx="206.3" cy="403.7" r="1.25"/></g>
<path d="M282.95 376.15l1.9 1.9M282.95 378.05l1.9 -1.9M268.45 383.35l1.9 1.9M268.45 385.25l1.9 -1.9M263.35 405.45l1.9 1.9M263.35 407.35l1.9 -1.9M307.35 377.15l1.9 1.9M307.35 379.05l1.9 -1.9M307.35 381.15l1.9 1.9M307.35 383.05l1.9 -1.9M299.25 390.95l1.9 1.9M299.25 392.85l1.9 -1.9M320.15 384.15l1.9 1.9M320.15 386.05l1.9 -1.9M328.95 370.85l1.9 1.9M328.95 372.75l1.9 -1.9M334.45 378.65l1.9 1.9M334.45 380.55l1.9 -1.9M337.65 379.15l1.9 1.9M337.65 381.05l1.9 -1.9M345.75 384.65l1.9 1.9M345.75 386.55l1.9 -1.9M338.15 396.75l1.9 1.9M338.15 398.65l1.9 -1.9M328.65 407.95l1.9 1.9M328.65 409.85l1.9 -1.9M318.65 423.85l1.9 1.9M318.65 425.75l1.9 -1.9M150.55 388.45l1.9 1.9M150.55 390.35l1.9 -1.9M205.35 406.35l1.9 1.9M205.35 408.25l1.9 -1.9" stroke="#24245e" stroke-opacity="0.72" stroke-width="0.85" fill="none"/>
<path d="M87.82 458.01L338.84 475.86M338.84 475.86L368.12 383.26M368.12 383.26L372.09 216.99M322.95 473.57L321.8 476.98M278.56 470.43L277.26 473.78M234.49 467.31L233.04 470.6M190.72 464.21L189.14 467.45M147.26 461.14L145.55 464.31M104.1 458.09L102.27 461.19M365.24 388.5L368.83 388.73M360.51 403.45L364.11 403.68M355.61 418.96L359.2 419.2M350.51 435.08L354.11 435.32M345.22 451.83L348.81 452.08M339.71 469.25L343.3 469.5M367.06 377.36L370.65 377.59M367.53 357.57L371.12 357.79M368.01 337.63L371.6 337.84M368.49 317.55L372.08 317.76M368.97 297.32L372.56 297.53M369.45 276.95L373.05 277.15M369.94 256.44L373.54 256.63M370.44 235.78L374.03 235.96" stroke="#000" stroke-width="0.45" fill="none"/>
<g font-family='"DejaVu Sans","Liberation Sans",sans-serif' font-size="5.6" fill="#000" stroke="#000" stroke-width="0.12" text-anchor="middle">
<text x="321.48" y="489.51">0.0</text>
<text x="276.93" y="486.34">0.2</text>
<text x="232.72" y="483.17">0.4</text>
<text x="188.85" y="480.02">0.6</text>
<text x="145.32" y="476.87">0.8</text>
<text x="102.12" y="473.74">1.0</text>
<text x="374.42" y="400.15">0.0</text>
<text x="369.69" y="415.11">0.2</text>
<text x="364.79" y="430.64">0.4</text>
<text x="359.69" y="446.77">0.6</text>
<text x="354.39" y="463.53">0.8</text>
<text x="348.89" y="480.97">1.0</text>
<text x="377.36" y="379.64">0.000</text>
<text x="377.83" y="359.84">0.005</text>
<text x="378.3" y="339.9">0.010</text>
<text x="378.78" y="319.82">0.015</text>
<text x="379.27" y="299.59">0.020</text>
<text x="379.75" y="279.22">0.025</text>
<text x="380.24" y="258.7">0.030</text>
<text x="380.74" y="238.04">0.035</text>
</g>
<g font-family='"DejaVu Sans","Liberation Sans",sans-serif' font-size="5.8" fill="#000" stroke="#000" stroke-width="0.12" text-anchor="middle">
<text transform="translate(209 489) rotate(4)">Temp_K Operation_hour</text>
<text transform="translate(374.8 442) rotate(-69)">Operation_hour</text>
<text transform="translate(390.5 298) rotate(-88.7)">Degradation index_elongation</text>
</g>
<rect x="367" y="507" width="49.5" height="20.8" rx="1.2" fill="#fff" fill-opacity="0.8" stroke="#ccc" stroke-width="0.5"/>
<path d="M374 511.7l2.2 2.2M374 513.9l2.2 -2.2" stroke="#000" stroke-width="0.85"/>
<circle cx="375.1" cy="522.2" r="1.4" fill="#e8272d" fill-opacity="0.42"/>
<g font-family='"DejaVu Sans","Liberation Sans",sans-serif' font-size="5.65" fill="#000" stroke="#000" stroke-width="0.12">
<text x="386.3" y="514.9">Observed</text><text x="386.3" y="524.2">New_data</text>
</g>
<text x="251.6" y="543.9" text-anchor="middle" font-family='"Liberation Serif","DejaVu Serif",serif' font-weight="bold" font-size="9.6" fill="#111">(b)</text>
</g>
</svg>
</body></html>
